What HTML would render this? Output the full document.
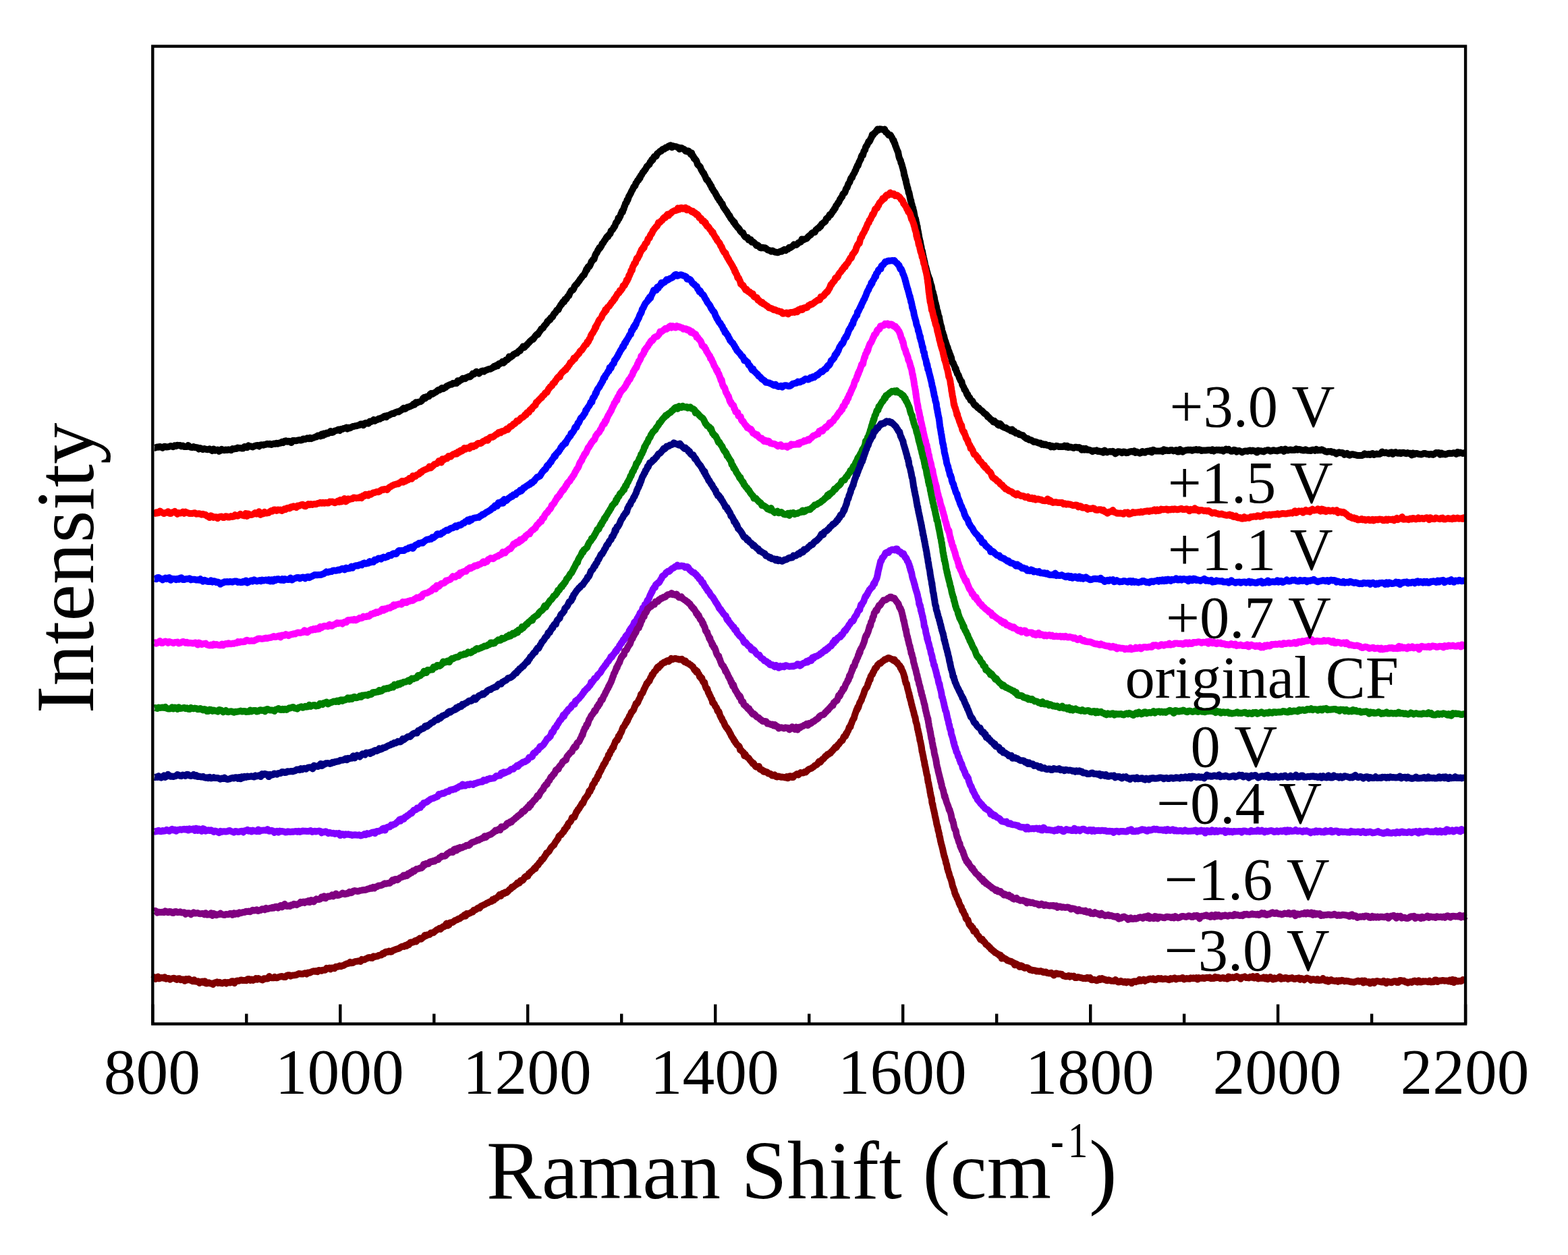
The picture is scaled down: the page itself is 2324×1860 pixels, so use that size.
<!DOCTYPE html>
<html><head><meta charset="utf-8"><title>Raman Shift</title><style>html,body{margin:0;padding:0;background:#fff;}svg{display:block;}</style></head><body>
<svg xmlns="http://www.w3.org/2000/svg" width="2324" height="1860" viewBox="0 0 2324 1860">
<rect width="2324" height="1860" fill="#fff"/>
<g fill="none" stroke-width="10.0" stroke-linejoin="round" stroke-linecap="butt">
<path stroke="#000000" d="M229.0 663.6 L230.1 663.7 L231.6 663.1 L233.3 662.4 L235.1 662.7 L237.0 662.0 L239.0 662.8 L241.0 663.8 L243.0 662.0 L244.9 661.7 L246.9 662.6 L248.9 662.3 L250.9 661.9 L252.9 660.9 L254.9 661.6 L256.9 662.2 L258.9 660.3 L260.9 661.1 L262.9 659.7 L264.9 660.3 L266.9 659.9 L268.9 661.4 L270.9 660.6 L272.9 662.1 L274.9 662.1 L276.9 662.0 L278.9 660.1 L280.9 662.1 L282.8 662.8 L284.8 663.2 L286.8 662.0 L288.8 663.2 L290.8 663.1 L292.7 663.5 L294.7 665.5 L296.7 664.1 L298.7 665.0 L300.7 666.1 L302.7 665.1 L304.6 665.7 L306.6 666.2 L308.6 666.3 L310.6 665.4 L312.6 666.7 L314.6 668.0 L316.6 665.5 L318.6 667.8 L320.6 667.2 L322.6 666.5 L324.6 668.9 L326.6 667.8 L328.6 665.9 L330.6 667.0 L332.6 667.3 L334.6 666.5 L336.6 667.1 L338.5 666.3 L340.5 666.7 L342.5 667.2 L344.5 665.1 L346.5 665.6 L348.5 664.8 L350.5 665.1 L352.4 663.6 L354.4 663.9 L356.4 663.9 L358.4 664.6 L360.4 664.5 L362.3 662.0 L364.3 662.2 L366.3 663.2 L368.3 660.5 L370.2 661.6 L372.2 661.6 L374.2 662.5 L376.2 661.7 L378.2 660.6 L380.1 660.3 L382.1 660.1 L384.1 661.5 L386.1 659.5 L388.1 659.3 L390.1 659.7 L392.0 659.0 L394.0 658.7 L396.0 657.7 L398.0 658.4 L400.0 657.8 L402.0 659.0 L404.0 658.3 L406.0 657.5 L407.9 657.9 L409.9 656.7 L411.9 657.7 L413.9 656.5 L415.9 656.8 L417.9 654.8 L419.8 656.0 L421.8 653.9 L423.8 653.3 L425.8 654.6 L427.8 653.8 L429.7 654.5 L431.7 656.1 L433.7 653.0 L435.7 652.9 L437.7 653.3 L439.6 653.3 L441.6 652.4 L443.6 652.1 L445.6 652.6 L447.5 652.1 L449.5 650.4 L451.5 650.9 L453.5 650.7 L455.4 649.4 L457.4 650.2 L459.4 648.9 L461.3 650.2 L463.3 649.1 L465.3 648.6 L467.2 647.6 L469.2 647.5 L471.1 645.4 L473.0 645.6 L474.9 646.4 L476.8 643.5 L478.7 645.5 L480.5 642.4 L482.4 643.9 L484.2 641.7 L486.1 642.5 L488.0 641.2 L489.9 639.1 L491.8 641.1 L493.7 640.7 L495.7 638.8 L497.6 638.2 L499.5 637.8 L501.5 636.6 L503.4 638.0 L505.4 636.1 L507.3 636.1 L509.3 635.0 L511.2 634.7 L513.2 633.7 L515.1 635.5 L517.1 633.8 L519.0 634.4 L521.0 633.1 L522.9 632.0 L524.9 631.9 L526.8 631.2 L528.8 631.2 L530.7 630.4 L532.7 630.0 L534.6 628.5 L536.5 628.5 L538.5 630.2 L540.4 627.6 L542.3 626.7 L544.2 627.3 L546.1 627.7 L548.0 624.5 L549.9 625.0 L551.8 624.0 L553.7 622.3 L555.6 623.9 L557.5 622.6 L559.4 622.0 L561.3 620.6 L563.1 621.0 L565.0 619.4 L566.9 619.0 L568.7 617.4 L570.6 616.6 L572.5 618.2 L574.3 615.8 L576.2 615.8 L578.0 614.7 L579.9 613.6 L581.7 612.8 L583.6 613.0 L585.4 611.4 L587.3 610.8 L589.1 610.1 L590.9 610.4 L592.8 609.1 L594.6 608.0 L596.4 606.4 L598.3 604.8 L600.1 606.1 L601.9 605.3 L603.7 603.5 L605.5 603.2 L607.3 602.6 L609.1 601.8 L610.9 601.0 L612.7 598.8 L614.5 599.7 L616.3 596.3 L618.0 597.3 L619.8 596.0 L621.6 595.4 L623.3 595.3 L625.1 594.0 L626.8 590.7 L628.6 589.2 L630.3 590.5 L632.1 587.9 L633.8 587.8 L635.6 587.6 L637.3 584.4 L639.1 583.0 L640.8 584.2 L642.6 583.0 L644.3 581.8 L646.1 581.1 L647.9 579.4 L649.7 577.9 L651.5 578.2 L653.2 576.6 L655.0 575.1 L656.8 576.2 L658.6 574.8 L660.4 574.3 L662.2 572.2 L664.0 571.6 L665.8 570.5 L667.6 569.7 L669.4 569.8 L671.3 568.1 L673.1 568.3 L674.9 567.4 L676.7 568.1 L678.5 564.2 L680.3 565.4 L682.1 563.7 L684.0 562.9 L685.8 560.8 L687.6 560.9 L689.5 561.2 L691.3 559.6 L693.1 559.0 L695.0 557.9 L696.8 558.4 L698.7 556.6 L700.5 553.9 L702.4 554.5 L704.3 552.7 L706.1 550.8 L708.0 552.6 L709.9 553.6 L711.8 551.8 L713.7 550.0 L715.6 549.5 L717.4 550.7 L719.3 549.2 L721.2 548.4 L723.1 547.6 L724.9 546.9 L726.8 546.9 L728.6 545.9 L730.5 544.8 L732.3 542.8 L734.1 543.4 L735.9 541.4 L737.7 542.1 L739.4 539.0 L741.2 539.1 L742.9 538.2 L744.6 536.0 L746.3 537.7 L748.0 536.4 L749.7 533.6 L751.4 533.6 L753.1 532.2 L754.7 528.4 L756.4 529.8 L758.0 528.4 L759.6 527.3 L761.2 525.1 L762.8 524.7 L764.4 523.5 L766.0 523.6 L767.6 521.6 L769.2 520.0 L770.8 520.2 L772.3 517.0 L773.9 515.9 L775.4 513.4 L776.9 515.1 L778.5 513.3 L780.0 511.9 L781.5 510.4 L783.0 508.6 L784.4 507.3 L785.9 505.5 L787.4 504.2 L788.8 503.0 L790.2 502.9 L791.6 500.7 L793.0 498.7 L794.4 496.8 L795.8 495.3 L797.1 495.8 L798.5 493.3 L799.8 491.4 L801.1 489.6 L802.4 487.4 L803.7 486.8 L805.0 486.1 L806.3 483.4 L807.6 482.0 L808.9 480.5 L810.1 479.3 L811.4 476.2 L812.7 475.9 L814.0 473.8 L815.3 473.8 L816.5 470.8 L817.8 470.4 L819.0 469.7 L820.3 466.5 L821.5 464.7 L822.8 463.8 L824.0 462.1 L825.2 459.6 L826.4 459.3 L827.6 459.1 L828.9 455.5 L830.1 454.0 L831.3 451.6 L832.5 451.2 L833.7 448.2 L834.9 446.8 L836.1 447.3 L837.3 443.7 L838.5 443.9 L839.7 442.7 L840.9 440.0 L842.0 438.6 L843.2 438.3 L844.4 434.7 L845.6 432.8 L846.8 430.5 L848.0 430.1 L849.2 429.8 L850.4 427.8 L851.6 424.5 L852.8 422.9 L854.0 421.6 L855.2 420.7 L856.4 418.7 L857.6 417.5 L858.7 415.9 L859.9 413.8 L861.1 412.4 L862.3 411.0 L863.4 409.1 L864.6 408.0 L865.7 407.6 L866.9 404.8 L868.0 402.6 L869.1 399.4 L870.2 399.6 L871.3 395.9 L872.4 394.7 L873.5 395.0 L874.5 393.2 L875.6 390.7 L876.6 387.6 L877.6 387.0 L878.6 385.0 L879.6 384.5 L880.5 384.2 L881.5 380.6 L882.4 377.9 L883.4 375.8 L884.4 375.1 L885.3 373.2 L886.3 370.6 L887.3 370.0 L888.3 367.1 L889.4 367.5 L890.4 365.7 L891.5 364.1 L892.6 361.0 L893.8 360.3 L895.0 358.1 L896.2 356.3 L897.4 354.7 L898.6 352.3 L899.8 350.6 L901.0 351.0 L902.2 348.5 L903.4 347.2 L904.5 346.3 L905.6 342.2 L906.7 341.3 L907.8 340.5 L908.8 339.0 L909.8 336.6 L910.8 336.1 L911.8 333.6 L912.8 330.6 L913.7 329.1 L914.7 328.9 L915.6 326.8 L916.5 322.9 L917.5 324.1 L918.4 321.6 L919.3 320.5 L920.2 317.2 L921.1 315.5 L921.9 312.9 L922.8 314.4 L923.7 310.2 L924.5 309.9 L925.3 306.1 L926.1 305.0 L927.0 301.5 L927.8 300.9 L928.6 300.3 L929.4 296.4 L930.3 296.7 L931.1 294.2 L932.0 291.2 L932.9 289.9 L933.8 288.1 L934.7 286.7 L935.6 284.5 L936.5 282.5 L937.5 281.2 L938.5 278.8 L939.4 276.8 L940.4 276.2 L941.4 275.3 L942.4 271.4 L943.4 271.0 L944.4 268.7 L945.5 266.7 L946.5 266.7 L947.6 263.7 L948.6 263.8 L949.7 260.1 L950.8 259.5 L951.9 257.3 L953.0 255.1 L954.1 254.7 L955.2 252.4 L956.4 251.4 L957.6 249.2 L958.7 246.7 L959.9 245.9 L961.1 244.5 L962.4 243.7 L963.6 240.4 L964.8 239.7 L966.1 236.6 L967.3 237.2 L968.6 234.1 L969.9 231.9 L971.2 232.0 L972.6 231.5 L974.0 227.7 L975.4 226.7 L976.8 225.7 L978.3 224.0 L979.9 224.1 L981.5 221.8 L983.1 220.8 L984.8 220.9 L986.5 218.8 L988.3 219.0 L990.1 217.0 L992.0 216.2 L993.9 215.3 L995.8 218.4 L997.8 216.4 L999.7 217.1 L1001.6 217.2 L1003.4 217.9 L1005.3 218.5 L1007.1 221.0 L1008.9 219.2 L1010.6 219.5 L1012.4 220.8 L1014.2 221.3 L1016.0 223.8 L1017.7 224.5 L1019.4 223.6 L1021.0 224.1 L1022.4 226.0 L1023.8 228.8 L1025.1 226.5 L1026.3 231.0 L1027.4 231.2 L1028.6 234.7 L1029.6 234.5 L1030.7 236.9 L1031.8 237.5 L1032.8 239.7 L1033.8 243.5 L1034.8 244.8 L1035.9 245.4 L1036.9 246.7 L1037.9 247.5 L1038.9 250.5 L1040.0 252.6 L1041.0 254.2 L1042.0 256.0 L1043.1 256.7 L1044.1 259.4 L1045.1 261.1 L1046.2 264.0 L1047.2 266.3 L1048.2 266.2 L1049.2 267.3 L1050.2 269.7 L1051.2 271.0 L1052.2 272.6 L1053.2 274.9 L1054.2 275.8 L1055.2 279.0 L1056.2 280.1 L1057.2 282.1 L1058.2 283.5 L1059.2 284.7 L1060.2 286.2 L1061.2 288.6 L1062.2 290.0 L1063.3 292.5 L1064.3 294.0 L1065.3 294.5 L1066.4 297.4 L1067.5 297.9 L1068.5 300.2 L1069.6 302.2 L1070.6 302.3 L1071.7 305.9 L1072.8 307.7 L1073.8 309.1 L1074.9 310.5 L1076.0 312.3 L1077.1 313.4 L1078.2 315.7 L1079.3 317.1 L1080.4 319.4 L1081.5 319.9 L1082.6 322.8 L1083.8 324.4 L1084.9 325.7 L1086.1 327.1 L1087.3 329.6 L1088.5 329.2 L1089.7 332.7 L1090.9 334.1 L1092.2 335.7 L1093.4 337.4 L1094.6 338.0 L1095.9 339.9 L1097.2 342.3 L1098.4 343.6 L1099.7 344.9 L1101.1 344.9 L1102.4 348.2 L1103.8 350.3 L1105.1 351.5 L1106.6 352.2 L1108.0 352.0 L1109.5 355.6 L1111.0 355.9 L1112.6 355.0 L1114.2 358.8 L1115.8 358.2 L1117.5 359.5 L1119.2 361.1 L1121.0 363.8 L1122.7 363.2 L1124.5 364.7 L1126.3 366.9 L1128.2 367.5 L1130.0 366.8 L1131.9 367.4 L1133.7 367.2 L1135.6 368.5 L1137.4 370.2 L1139.3 370.9 L1141.2 371.3 L1143.1 372.7 L1145.0 371.6 L1146.9 372.7 L1148.9 373.7 L1150.8 373.8 L1152.8 374.3 L1154.7 373.5 L1156.7 372.6 L1158.6 372.8 L1160.5 371.1 L1162.4 369.9 L1164.3 371.2 L1166.1 369.8 L1167.9 369.3 L1169.7 366.7 L1171.5 367.0 L1173.3 365.8 L1175.0 364.6 L1176.8 362.3 L1178.5 363.1 L1180.2 363.1 L1181.9 361.6 L1183.6 359.7 L1185.2 359.1 L1186.9 358.7 L1188.6 354.4 L1190.2 355.7 L1191.9 355.1 L1193.5 354.1 L1195.2 353.9 L1196.8 352.2 L1198.4 350.2 L1200.0 349.0 L1201.5 348.2 L1203.1 345.8 L1204.6 344.9 L1206.2 344.5 L1207.7 344.1 L1209.2 340.9 L1210.6 339.7 L1212.1 338.5 L1213.6 338.2 L1215.0 335.6 L1216.4 335.5 L1217.9 331.9 L1219.3 331.2 L1220.7 329.8 L1222.0 329.2 L1223.4 328.0 L1224.7 324.2 L1226.0 323.2 L1227.3 322.8 L1228.6 320.4 L1229.8 318.0 L1231.0 318.7 L1232.2 316.6 L1233.4 315.0 L1234.5 312.5 L1235.6 312.2 L1236.7 309.4 L1237.8 308.9 L1238.9 305.4 L1240.0 303.8 L1241.0 303.0 L1242.1 300.5 L1243.1 300.0 L1244.1 297.9 L1245.1 295.1 L1246.1 294.3 L1247.1 292.2 L1248.1 291.6 L1249.0 288.4 L1250.0 286.8 L1250.9 286.6 L1251.9 285.7 L1252.8 283.7 L1253.8 280.2 L1254.7 278.6 L1255.6 278.0 L1256.6 274.8 L1257.5 272.2 L1258.4 271.4 L1259.3 270.0 L1260.2 267.0 L1261.1 264.5 L1262.1 262.9 L1263.0 263.0 L1263.9 259.9 L1264.7 258.7 L1265.6 257.2 L1266.5 255.8 L1267.4 253.2 L1268.3 252.1 L1269.2 249.1 L1270.0 247.7 L1270.9 245.3 L1271.7 245.5 L1272.6 242.6 L1273.4 240.1 L1274.2 238.7 L1275.0 237.0 L1275.8 235.9 L1276.6 232.0 L1277.3 230.7 L1278.1 229.4 L1278.9 230.2 L1279.7 227.0 L1280.4 224.2 L1281.2 223.1 L1282.1 222.4 L1282.9 218.6 L1283.8 216.6 L1284.7 216.3 L1285.6 213.9 L1286.5 212.3 L1287.5 209.5 L1288.5 209.9 L1289.6 208.0 L1290.6 205.3 L1291.7 203.7 L1292.8 199.6 L1293.9 200.4 L1295.1 198.0 L1296.3 197.1 L1297.7 195.9 L1299.1 193.8 L1300.7 191.5 L1302.3 192.7 L1304.0 191.3 L1305.8 191.6 L1307.6 191.7 L1309.4 192.5 L1311.1 191.6 L1312.7 195.8 L1314.3 196.1 L1315.7 198.1 L1317.1 200.3 L1318.5 200.0 L1319.7 199.9 L1320.9 202.3 L1321.9 203.7 L1322.9 206.1 L1323.9 208.4 L1324.7 208.3 L1325.6 212.2 L1326.3 212.4 L1327.1 215.9 L1327.8 217.4 L1328.5 219.1 L1329.2 221.2 L1329.8 222.6 L1330.5 224.4 L1331.1 225.4 L1331.7 228.8 L1332.4 232.4 L1333.0 234.4 L1333.6 235.7 L1334.2 237.0 L1334.8 237.7 L1335.4 241.5 L1336.0 242.1 L1336.6 244.0 L1337.1 245.7 L1337.6 248.0 L1338.2 249.4 L1338.6 251.7 L1339.1 252.7 L1339.6 255.3 L1340.1 259.6 L1340.6 259.5 L1341.0 261.3 L1341.5 263.9 L1342.0 266.0 L1342.5 266.3 L1342.9 269.1 L1343.4 272.0 L1343.9 273.4 L1344.4 275.2 L1344.9 278.4 L1345.4 278.3 L1345.9 281.0 L1346.3 282.4 L1346.8 286.1 L1347.3 285.0 L1347.8 288.0 L1348.3 290.1 L1348.8 293.1 L1349.2 295.0 L1349.7 297.7 L1350.2 296.9 L1350.7 301.0 L1351.2 302.0 L1351.7 303.6 L1352.2 306.6 L1352.7 307.2 L1353.2 308.1 L1353.7 311.6 L1354.2 312.5 L1354.7 315.2 L1355.2 318.1 L1355.6 320.0 L1356.1 323.0 L1356.6 323.4 L1357.0 324.1 L1357.5 326.8 L1357.9 328.6 L1358.4 330.3 L1358.8 333.7 L1359.2 334.7 L1359.6 335.4 L1360.0 339.8 L1360.4 341.0 L1360.8 343.4 L1361.2 345.2 L1361.6 347.6 L1361.9 349.0 L1362.3 352.1 L1362.7 353.3 L1363.1 355.2 L1363.4 357.2 L1363.8 357.5 L1364.2 360.6 L1364.6 362.5 L1365.0 364.9 L1365.4 365.4 L1365.9 370.1 L1366.3 370.7 L1366.7 371.4 L1367.1 372.9 L1367.6 376.2 L1368.0 378.3 L1368.5 379.7 L1368.9 382.4 L1369.4 383.6 L1369.8 386.7 L1370.3 387.5 L1370.7 390.0 L1371.2 392.9 L1371.7 396.3 L1372.1 395.0 L1372.6 397.4 L1373.1 399.0 L1373.6 402.4 L1374.1 402.6 L1374.7 405.1 L1375.2 407.5 L1375.8 408.5 L1376.4 410.4 L1377.1 412.8 L1377.7 413.2 L1378.3 415.7 L1378.9 418.5 L1379.5 420.9 L1380.0 422.6 L1380.5 423.1 L1381.1 426.2 L1381.6 429.3 L1382.0 431.0 L1382.5 432.3 L1383.0 433.6 L1383.5 436.9 L1384.0 437.7 L1384.4 439.1 L1384.9 441.4 L1385.4 445.4 L1385.8 446.2 L1386.3 449.0 L1386.8 449.5 L1387.3 452.7 L1387.7 453.2 L1388.2 455.6 L1388.7 459.9 L1389.2 460.3 L1389.6 461.1 L1390.1 463.4 L1390.6 465.7 L1391.0 468.5 L1391.5 468.9 L1392.0 469.7 L1392.4 473.0 L1392.9 475.2 L1393.4 477.2 L1393.8 480.2 L1394.3 481.3 L1394.8 483.7 L1395.3 483.9 L1395.8 487.6 L1396.3 490.6 L1396.8 491.4 L1397.3 492.8 L1397.9 494.7 L1398.4 498.1 L1399.0 497.6 L1399.5 500.2 L1400.1 502.6 L1400.7 504.8 L1401.3 505.7 L1401.9 508.2 L1402.5 509.6 L1403.1 511.9 L1403.8 513.5 L1404.4 514.5 L1405.1 517.4 L1405.7 520.1 L1406.4 520.3 L1407.1 522.9 L1407.8 525.6 L1408.5 525.9 L1409.2 528.9 L1409.9 529.6 L1410.6 533.5 L1411.3 536.4 L1412.1 538.0 L1412.8 537.8 L1413.5 540.5 L1414.3 541.8 L1415.1 543.7 L1415.8 546.8 L1416.6 546.1 L1417.4 550.1 L1418.2 550.9 L1418.9 554.1 L1419.7 554.8 L1420.6 555.9 L1421.4 558.5 L1422.2 560.8 L1423.0 562.0 L1423.8 564.2 L1424.6 565.1 L1425.4 565.5 L1426.2 570.1 L1427.0 571.7 L1427.9 573.0 L1428.7 574.8 L1429.5 577.5 L1430.4 577.9 L1431.3 579.5 L1432.2 581.7 L1433.2 584.7 L1434.1 584.2 L1435.2 588.2 L1436.2 588.2 L1437.3 589.5 L1438.5 593.2 L1439.7 593.6 L1441.0 594.0 L1442.3 596.4 L1443.6 599.0 L1445.0 600.7 L1446.4 600.7 L1447.8 602.8 L1449.3 604.5 L1450.8 604.6 L1452.2 606.8 L1453.7 607.8 L1455.2 608.7 L1456.7 610.1 L1458.2 611.9 L1459.7 613.2 L1461.2 614.0 L1462.7 615.4 L1464.3 618.1 L1465.8 618.6 L1467.3 620.4 L1468.9 622.0 L1470.5 622.6 L1472.1 625.3 L1473.7 623.7 L1475.3 626.3 L1477.0 626.4 L1478.7 629.4 L1480.4 630.3 L1482.2 628.0 L1483.9 629.8 L1485.7 632.2 L1487.5 633.2 L1489.3 634.0 L1491.1 634.1 L1492.9 635.5 L1494.7 636.5 L1496.5 636.7 L1498.3 638.6 L1500.1 636.5 L1501.9 640.0 L1503.7 639.4 L1505.5 642.1 L1507.3 641.9 L1509.0 642.2 L1510.8 644.3 L1512.6 644.1 L1514.4 645.0 L1516.2 645.3 L1518.0 647.5 L1519.8 648.9 L1521.6 650.2 L1523.4 650.0 L1525.2 651.9 L1527.0 651.8 L1528.8 652.5 L1530.7 653.9 L1532.5 655.1 L1534.4 654.6 L1536.3 655.3 L1538.2 656.1 L1540.1 656.9 L1542.0 656.6 L1543.9 658.8 L1545.8 658.0 L1547.8 659.3 L1549.7 658.5 L1551.7 659.9 L1553.7 660.3 L1555.7 659.9 L1557.6 662.3 L1559.6 661.1 L1561.6 662.6 L1563.6 662.0 L1565.6 660.8 L1567.6 661.2 L1569.6 662.1 L1571.6 661.9 L1573.6 662.1 L1575.6 661.9 L1577.6 660.7 L1579.5 662.3 L1581.5 660.7 L1583.5 663.2 L1585.5 662.4 L1587.5 662.7 L1589.5 663.4 L1591.5 664.0 L1593.5 662.8 L1595.4 662.7 L1597.4 663.6 L1599.4 663.0 L1601.4 664.3 L1603.4 666.8 L1605.3 664.7 L1607.3 666.6 L1609.3 665.0 L1611.3 666.8 L1613.3 666.5 L1615.3 667.0 L1617.2 667.8 L1619.2 669.1 L1621.2 668.0 L1623.2 668.1 L1625.2 667.4 L1627.2 669.0 L1629.2 668.4 L1631.1 669.6 L1633.1 669.0 L1635.1 670.7 L1637.1 667.5 L1639.1 669.2 L1641.1 670.4 L1643.1 669.4 L1645.1 669.1 L1647.1 669.6 L1649.1 668.7 L1651.1 670.1 L1653.1 672.3 L1655.1 671.2 L1657.1 669.2 L1659.1 669.5 L1661.1 669.9 L1663.1 671.2 L1665.1 669.6 L1667.1 669.7 L1669.1 671.2 L1671.1 671.1 L1673.1 670.0 L1675.1 669.3 L1677.1 668.9 L1679.1 669.7 L1681.1 668.3 L1683.1 670.9 L1685.1 669.6 L1687.1 670.6 L1689.1 671.7 L1691.1 671.0 L1693.1 668.9 L1695.1 670.6 L1697.1 670.7 L1699.1 668.9 L1701.1 668.6 L1703.1 669.2 L1705.1 667.8 L1707.1 670.4 L1709.1 666.8 L1711.1 667.8 L1713.1 668.5 L1715.1 668.4 L1717.1 668.6 L1719.1 668.6 L1721.0 668.1 L1723.0 669.2 L1725.0 666.2 L1727.0 668.0 L1729.0 667.3 L1731.0 668.0 L1733.0 668.0 L1735.0 667.0 L1737.0 667.1 L1739.0 668.4 L1741.0 667.9 L1743.0 667.0 L1745.0 669.4 L1747.0 669.6 L1749.0 666.1 L1751.0 667.7 L1753.0 669.6 L1755.0 668.0 L1757.0 667.5 L1759.0 667.1 L1761.0 666.8 L1763.0 667.0 L1765.0 666.7 L1767.0 667.8 L1769.0 666.8 L1771.0 666.7 L1773.0 666.1 L1775.0 667.1 L1777.0 666.3 L1779.0 666.9 L1781.0 668.0 L1783.0 667.4 L1785.0 667.6 L1787.0 667.4 L1789.0 667.2 L1791.0 667.0 L1793.0 666.9 L1795.0 667.9 L1797.0 666.3 L1799.0 668.5 L1801.0 667.3 L1803.0 666.7 L1805.0 666.9 L1807.0 666.8 L1809.0 667.6 L1811.0 666.8 L1813.0 668.6 L1815.0 666.9 L1817.0 665.6 L1819.0 667.0 L1821.0 665.9 L1823.0 667.7 L1825.0 668.8 L1827.0 668.5 L1829.0 666.7 L1831.0 667.3 L1833.0 669.6 L1835.0 668.3 L1837.0 668.1 L1839.0 669.1 L1841.0 670.4 L1843.0 669.4 L1845.0 668.4 L1847.0 668.6 L1849.0 668.9 L1851.0 667.8 L1853.0 667.4 L1855.0 668.5 L1857.0 667.6 L1859.0 668.4 L1861.0 668.6 L1863.0 670.6 L1865.0 667.7 L1867.0 668.4 L1869.0 668.3 L1871.0 668.9 L1873.0 669.4 L1875.0 668.0 L1877.0 667.6 L1879.0 666.9 L1881.0 667.5 L1883.0 668.7 L1885.0 668.2 L1887.0 667.2 L1889.0 667.7 L1891.0 668.0 L1893.0 668.4 L1895.0 667.3 L1897.0 667.5 L1899.0 666.1 L1901.0 666.6 L1903.0 669.0 L1905.0 665.5 L1907.0 667.1 L1909.0 667.5 L1911.0 666.9 L1913.0 666.5 L1915.0 667.1 L1917.0 667.1 L1919.0 666.9 L1921.0 665.3 L1923.0 666.8 L1925.0 666.1 L1927.0 666.3 L1929.0 667.0 L1931.0 667.4 L1933.0 667.6 L1935.0 666.3 L1937.0 667.6 L1939.0 667.8 L1941.0 667.8 L1943.0 668.1 L1945.0 666.8 L1947.0 666.8 L1949.0 667.8 L1951.0 666.0 L1953.0 667.5 L1955.0 667.0 L1957.0 667.3 L1958.9 666.3 L1960.9 667.3 L1962.9 668.3 L1964.9 669.4 L1966.9 669.7 L1968.9 669.1 L1970.8 669.3 L1972.8 669.0 L1974.8 670.4 L1976.8 670.1 L1978.7 671.2 L1980.7 672.6 L1982.7 671.3 L1984.7 670.3 L1986.6 671.2 L1988.6 670.9 L1990.6 671.4 L1992.6 673.9 L1994.6 673.2 L1996.6 671.9 L1998.5 674.0 L2000.5 674.7 L2002.5 673.4 L2004.5 673.2 L2006.5 673.6 L2008.5 674.2 L2010.5 674.6 L2012.5 675.1 L2014.5 675.1 L2016.5 675.0 L2018.5 675.1 L2020.5 674.4 L2022.5 672.3 L2024.5 673.5 L2026.5 673.7 L2028.5 673.0 L2030.5 674.0 L2032.5 672.7 L2034.5 672.0 L2036.5 674.0 L2038.5 673.1 L2040.5 672.6 L2042.5 673.1 L2044.4 673.0 L2046.4 672.2 L2048.4 669.6 L2050.4 671.1 L2052.4 671.2 L2054.4 670.6 L2056.4 671.6 L2058.4 672.4 L2060.4 670.8 L2062.4 670.2 L2064.4 673.0 L2066.4 670.8 L2068.4 670.1 L2070.4 671.5 L2072.4 671.7 L2074.4 670.7 L2076.4 672.1 L2078.4 671.0 L2080.4 670.7 L2082.4 671.7 L2084.4 672.3 L2086.4 671.1 L2088.4 672.1 L2090.4 671.8 L2092.4 674.5 L2094.4 671.4 L2096.4 673.3 L2098.4 672.1 L2100.4 672.1 L2102.4 673.0 L2104.4 673.2 L2106.4 673.6 L2108.4 672.8 L2110.4 672.0 L2112.4 672.1 L2114.4 673.0 L2116.4 673.1 L2118.4 673.8 L2120.4 672.9 L2122.4 673.5 L2124.4 673.9 L2126.4 672.6 L2128.4 671.1 L2130.4 671.3 L2132.4 671.1 L2134.4 673.7 L2136.4 671.5 L2138.4 673.3 L2140.4 672.7 L2142.4 673.6 L2144.4 672.9 L2146.4 671.9 L2148.4 671.7 L2150.4 671.9 L2152.4 671.9 L2154.4 671.2 L2156.4 671.6 L2158.4 673.0 L2160.4 670.0 L2162.4 671.7 L2164.3 670.6 L2166.2 671.5 L2168.0 672.0 L2169.5 671.2 L2170.9 671.9"/>
<path stroke="#ff0000" d="M229.0 758.5 L230.1 760.9 L231.6 759.3 L233.3 760.4 L235.1 760.0 L237.0 757.4 L239.0 759.1 L241.0 759.9 L243.0 761.0 L245.0 759.9 L247.0 759.8 L249.0 758.2 L251.0 760.8 L253.0 761.1 L255.0 759.4 L257.0 759.2 L259.0 757.9 L261.0 760.2 L263.0 761.8 L265.0 760.1 L267.0 760.6 L269.0 760.0 L271.0 758.7 L273.0 760.9 L275.0 758.7 L277.0 759.7 L279.0 760.3 L281.0 761.1 L282.9 760.9 L284.9 761.1 L286.9 760.4 L288.9 760.2 L290.9 761.7 L292.8 761.4 L294.8 761.2 L296.8 761.6 L298.7 762.7 L300.7 761.8 L302.6 762.7 L304.6 762.8 L306.6 764.8 L308.5 765.3 L310.5 767.1 L312.5 764.3 L314.5 765.3 L316.5 767.0 L318.4 766.2 L320.4 766.2 L322.4 768.2 L324.4 766.4 L326.4 765.7 L328.4 765.6 L330.4 767.0 L332.4 766.9 L334.4 765.2 L336.4 765.4 L338.4 766.6 L340.4 766.4 L342.3 765.1 L344.3 765.9 L346.3 765.6 L348.3 763.2 L350.3 764.3 L352.3 764.7 L354.2 763.5 L356.2 761.9 L358.2 763.3 L360.2 764.0 L362.2 764.5 L364.2 760.9 L366.1 765.0 L368.1 761.4 L370.1 763.0 L372.1 763.0 L374.1 762.6 L376.1 761.6 L378.1 760.2 L380.1 761.6 L382.0 760.1 L384.0 758.3 L386.0 762.9 L388.0 760.7 L390.0 761.4 L392.0 758.7 L393.9 760.6 L395.9 760.4 L397.9 760.1 L399.9 758.4 L401.9 757.0 L403.8 757.7 L405.8 755.5 L407.8 755.6 L409.8 756.9 L411.7 755.5 L413.7 755.9 L415.6 755.6 L417.6 757.0 L419.6 756.0 L421.5 754.4 L423.5 755.1 L425.4 752.9 L427.4 752.8 L429.3 753.5 L431.3 751.2 L433.2 751.6 L435.2 750.2 L437.1 751.1 L439.1 752.1 L441.1 749.5 L443.0 750.0 L445.0 748.7 L447.0 748.1 L448.9 747.7 L450.9 749.8 L452.9 750.3 L454.9 748.4 L456.9 747.1 L458.8 748.2 L460.8 747.0 L462.8 747.9 L464.8 747.3 L466.8 747.1 L468.8 747.3 L470.8 746.1 L472.8 746.1 L474.8 744.8 L476.8 745.8 L478.8 744.7 L480.8 745.7 L482.8 744.7 L484.7 745.4 L486.7 745.5 L488.7 743.6 L490.7 743.8 L492.7 743.4 L494.6 744.6 L496.6 745.2 L498.6 744.1 L500.6 742.7 L502.6 744.0 L504.5 741.0 L506.5 743.4 L508.5 741.1 L510.4 738.9 L512.4 743.4 L514.4 742.1 L516.3 739.4 L518.3 740.1 L520.3 739.3 L522.2 739.2 L524.2 737.4 L526.1 737.7 L528.1 738.3 L530.0 737.7 L532.0 738.1 L533.9 736.6 L535.9 738.2 L537.8 734.9 L539.8 735.3 L541.7 732.8 L543.6 732.9 L545.5 734.6 L547.4 732.0 L549.4 732.8 L551.3 731.7 L553.2 730.2 L555.1 730.2 L557.0 729.4 L558.9 728.7 L560.7 729.2 L562.6 728.4 L564.5 726.6 L566.4 725.6 L568.3 726.0 L570.1 724.9 L572.0 725.2 L573.8 726.0 L575.7 723.6 L577.5 722.0 L579.4 721.1 L581.2 719.8 L583.1 718.9 L584.9 718.1 L586.8 717.8 L588.6 717.0 L590.4 717.2 L592.2 715.4 L594.1 714.7 L595.9 713.0 L597.7 714.7 L599.5 712.9 L601.3 713.2 L603.1 711.5 L605.0 711.2 L606.8 708.8 L608.6 708.8 L610.3 709.7 L612.1 705.2 L613.9 706.5 L615.7 706.0 L617.4 703.9 L619.2 703.3 L621.0 702.8 L622.7 700.1 L624.5 700.1 L626.2 697.9 L627.9 697.1 L629.7 696.2 L631.4 695.6 L633.1 694.9 L634.9 694.2 L636.6 691.4 L638.3 693.6 L640.1 691.8 L641.8 690.4 L643.5 688.4 L645.3 687.6 L647.0 687.2 L648.7 686.1 L650.5 683.2 L652.2 684.5 L654.0 685.5 L655.7 680.2 L657.5 681.8 L659.2 680.3 L661.0 678.9 L662.8 679.4 L664.6 676.1 L666.4 676.5 L668.2 676.8 L670.0 674.4 L671.8 673.3 L673.6 673.0 L675.4 671.6 L677.2 672.7 L679.0 669.6 L680.9 670.4 L682.7 667.6 L684.5 668.6 L686.4 667.1 L688.2 664.0 L690.1 665.6 L691.9 663.9 L693.7 663.7 L695.6 664.7 L697.4 661.5 L699.3 660.8 L701.1 662.3 L702.9 660.3 L704.8 660.8 L706.6 658.9 L708.4 656.9 L710.3 656.9 L712.1 657.3 L713.9 656.2 L715.7 654.4 L717.5 653.6 L719.3 652.6 L721.1 651.3 L722.9 652.7 L724.7 650.0 L726.5 648.1 L728.2 647.7 L730.0 647.9 L731.8 646.9 L733.5 645.3 L735.3 643.8 L737.1 643.5 L738.8 641.0 L740.6 640.4 L742.3 641.3 L744.1 639.2 L745.8 639.0 L747.5 638.8 L749.3 637.2 L751.0 635.6 L752.7 636.5 L754.4 634.1 L756.1 632.1 L757.8 632.0 L759.4 630.6 L761.1 628.3 L762.7 628.1 L764.4 626.7 L766.0 623.8 L767.6 624.3 L769.2 623.0 L770.7 621.6 L772.3 619.2 L773.8 619.1 L775.3 618.1 L776.8 616.9 L778.2 614.4 L779.7 614.6 L781.1 611.5 L782.5 611.0 L783.9 611.0 L785.3 607.7 L786.7 606.5 L788.1 606.5 L789.4 603.6 L790.8 602.3 L792.1 601.3 L793.5 600.5 L794.8 596.1 L796.2 595.8 L797.5 594.2 L798.9 592.6 L800.2 591.4 L801.5 589.9 L802.8 589.4 L804.1 586.8 L805.4 586.2 L806.7 585.0 L808.0 582.4 L809.3 581.7 L810.6 581.5 L811.9 578.8 L813.1 576.3 L814.4 575.3 L815.7 573.0 L816.9 572.5 L818.2 571.5 L819.4 568.4 L820.7 567.4 L822.0 567.1 L823.2 564.0 L824.5 563.1 L825.8 560.5 L827.0 559.1 L828.3 557.9 L829.6 558.8 L830.9 554.9 L832.2 553.3 L833.5 551.7 L834.8 550.6 L836.1 549.8 L837.4 547.9 L838.7 548.0 L840.1 544.9 L841.4 544.5 L842.7 541.9 L844.0 540.7 L845.3 537.4 L846.7 537.1 L848.0 535.6 L849.3 533.9 L850.6 530.7 L851.9 531.9 L853.2 529.3 L854.5 527.7 L855.8 526.3 L857.1 524.8 L858.3 523.8 L859.6 520.8 L860.9 519.5 L862.1 519.1 L863.3 517.4 L864.6 515.3 L865.8 513.5 L867.0 511.7 L868.1 510.8 L869.3 510.3 L870.4 506.6 L871.5 507.2 L872.6 505.0 L873.6 502.1 L874.7 501.5 L875.7 497.7 L876.7 495.8 L877.6 494.4 L878.6 493.4 L879.5 491.7 L880.4 489.8 L881.4 488.6 L882.3 484.8 L883.2 485.4 L884.1 481.9 L885.0 480.8 L885.9 479.2 L886.9 476.8 L887.8 474.8 L888.8 473.4 L889.8 472.6 L890.8 471.4 L891.8 469.7 L892.9 466.6 L894.0 465.1 L895.1 463.3 L896.2 462.8 L897.3 459.0 L898.4 460.3 L899.6 457.1 L900.7 455.2 L901.9 454.6 L903.1 453.6 L904.3 451.3 L905.4 450.4 L906.6 447.9 L907.8 447.3 L909.0 445.7 L910.2 442.9 L911.4 442.7 L912.6 439.9 L913.8 438.3 L915.0 435.8 L916.2 434.7 L917.5 434.1 L918.7 430.7 L919.9 430.9 L921.2 429.0 L922.4 427.4 L923.6 423.5 L924.7 423.8 L925.8 422.8 L926.9 419.8 L927.9 418.9 L928.8 414.9 L929.7 415.9 L930.6 412.9 L931.4 412.4 L932.2 408.1 L932.9 408.6 L933.7 405.9 L934.5 405.0 L935.2 401.6 L936.0 400.0 L936.8 400.7 L937.6 396.1 L938.4 394.4 L939.3 393.0 L940.1 390.5 L941.0 390.7 L941.9 389.4 L942.9 385.5 L943.8 382.8 L944.7 383.6 L945.7 381.8 L946.6 379.8 L947.6 378.3 L948.6 374.8 L949.5 373.7 L950.5 370.8 L951.5 369.0 L952.5 369.5 L953.5 366.2 L954.5 367.2 L955.5 363.5 L956.5 361.1 L957.5 360.7 L958.6 359.9 L959.6 357.0 L960.6 353.7 L961.6 353.4 L962.7 352.6 L963.7 349.2 L964.7 347.2 L965.7 347.1 L966.8 344.6 L967.8 341.8 L968.9 340.8 L970.0 338.8 L971.1 338.0 L972.2 336.2 L973.4 335.6 L974.6 333.6 L975.9 330.0 L977.2 330.3 L978.5 329.2 L979.9 327.4 L981.4 326.6 L982.9 323.9 L984.5 322.3 L986.1 322.7 L987.7 319.8 L989.3 317.7 L991.0 319.5 L992.7 316.8 L994.4 316.2 L996.1 314.1 L997.8 313.2 L999.5 312.3 L1001.3 312.0 L1003.0 311.7 L1004.8 308.4 L1006.6 310.5 L1008.4 308.2 L1010.3 308.0 L1012.2 309.4 L1014.1 308.8 L1016.1 307.8 L1018.0 311.3 L1019.8 309.5 L1021.7 311.2 L1023.5 311.9 L1025.3 313.9 L1027.0 313.2 L1028.7 315.6 L1030.3 315.2 L1031.9 318.0 L1033.4 317.6 L1034.9 319.3 L1036.4 322.7 L1037.8 322.7 L1039.2 323.9 L1040.5 327.3 L1041.9 327.1 L1043.2 327.5 L1044.5 330.5 L1045.8 330.3 L1047.0 333.9 L1048.3 335.5 L1049.5 335.5 L1050.7 337.0 L1051.9 339.4 L1053.1 340.9 L1054.2 341.6 L1055.4 344.6 L1056.5 344.0 L1057.6 347.1 L1058.6 348.8 L1059.7 350.6 L1060.8 352.8 L1061.9 353.1 L1062.9 356.4 L1064.0 357.4 L1065.0 358.7 L1066.1 359.8 L1067.1 361.6 L1068.2 364.7 L1069.3 365.2 L1070.3 367.9 L1071.3 370.5 L1072.4 372.1 L1073.4 374.3 L1074.5 374.4 L1075.5 375.4 L1076.5 379.0 L1077.5 380.1 L1078.5 382.5 L1079.5 383.3 L1080.6 386.0 L1081.5 387.5 L1082.5 389.1 L1083.5 390.6 L1084.5 392.3 L1085.5 393.9 L1086.4 395.7 L1087.3 398.1 L1088.2 398.5 L1089.1 402.4 L1090.0 402.5 L1090.8 405.3 L1091.6 406.2 L1092.4 407.8 L1093.3 411.7 L1094.1 411.4 L1095.0 412.3 L1095.9 414.6 L1096.9 416.7 L1097.9 420.7 L1098.9 420.6 L1100.1 422.9 L1101.3 422.7 L1102.6 425.5 L1103.9 427.2 L1105.3 429.7 L1106.7 428.9 L1108.1 431.4 L1109.6 432.5 L1111.1 432.6 L1112.6 434.8 L1114.1 435.9 L1115.7 435.3 L1117.2 439.2 L1118.8 440.4 L1120.4 440.8 L1121.9 441.2 L1123.5 445.0 L1125.0 445.1 L1126.6 447.1 L1128.2 448.6 L1129.8 448.1 L1131.4 450.5 L1133.0 450.7 L1134.6 452.1 L1136.3 453.2 L1138.0 454.3 L1139.7 456.3 L1141.4 456.4 L1143.2 457.1 L1145.0 457.9 L1146.8 459.2 L1148.6 458.9 L1150.5 459.9 L1152.4 461.0 L1154.3 461.1 L1156.2 462.1 L1158.1 462.1 L1160.1 464.8 L1162.1 464.5 L1164.0 463.9 L1166.0 463.5 L1168.0 465.5 L1170.0 463.6 L1171.9 463.0 L1173.9 463.0 L1175.8 462.5 L1177.7 463.0 L1179.6 461.1 L1181.5 462.3 L1183.4 459.0 L1185.3 459.7 L1187.1 457.4 L1189.0 459.3 L1190.9 456.6 L1192.7 456.1 L1194.6 456.2 L1196.4 455.7 L1198.2 452.7 L1200.0 452.5 L1201.7 450.7 L1203.5 451.1 L1205.2 449.8 L1206.9 448.5 L1208.5 447.1 L1210.1 446.2 L1211.8 444.7 L1213.4 444.7 L1215.0 444.3 L1216.5 440.0 L1218.1 440.3 L1219.6 438.8 L1221.0 438.2 L1222.5 435.6 L1223.8 434.8 L1225.1 432.5 L1226.3 432.5 L1227.5 430.4 L1228.5 428.5 L1229.5 427.2 L1230.4 424.9 L1231.4 422.0 L1232.3 422.2 L1233.4 420.2 L1234.4 418.1 L1235.6 417.5 L1236.8 416.1 L1238.0 412.5 L1239.2 411.2 L1240.5 411.7 L1241.8 410.1 L1243.0 406.6 L1244.3 404.6 L1245.5 403.5 L1246.8 402.1 L1248.0 399.5 L1249.2 399.4 L1250.4 396.6 L1251.5 395.0 L1252.7 395.3 L1253.9 392.2 L1255.0 391.2 L1256.1 390.1 L1257.2 388.6 L1258.3 385.9 L1259.4 384.6 L1260.5 382.1 L1261.6 382.7 L1262.6 380.0 L1263.6 376.8 L1264.6 376.0 L1265.6 374.9 L1266.6 372.9 L1267.5 372.4 L1268.4 370.2 L1269.3 366.7 L1270.2 365.3 L1271.1 362.5 L1272.0 362.1 L1272.9 360.2 L1273.7 360.7 L1274.6 356.5 L1275.5 352.7 L1276.3 352.2 L1277.2 351.1 L1278.1 348.1 L1279.0 346.6 L1279.8 345.3 L1280.7 344.1 L1281.6 341.9 L1282.5 339.4 L1283.3 339.1 L1284.2 336.1 L1285.1 334.4 L1285.9 331.8 L1286.8 330.5 L1287.7 330.0 L1288.6 326.2 L1289.5 325.8 L1290.3 324.7 L1291.3 321.9 L1292.2 320.7 L1293.1 317.7 L1294.1 318.1 L1295.0 316.2 L1296.0 313.7 L1297.0 310.2 L1298.0 309.1 L1299.0 309.2 L1300.1 308.1 L1301.1 305.1 L1302.2 304.3 L1303.3 301.0 L1304.5 299.8 L1305.8 298.4 L1307.1 297.3 L1308.4 294.0 L1309.8 294.9 L1311.3 293.9 L1312.8 290.4 L1314.3 289.0 L1316.0 289.5 L1317.7 287.7 L1319.4 285.6 L1321.2 288.1 L1323.0 287.5 L1324.8 287.2 L1326.6 290.2 L1328.3 289.2 L1329.9 289.5 L1331.5 291.4 L1332.9 291.7 L1334.3 293.4 L1335.7 295.9 L1336.9 296.5 L1338.1 298.2 L1339.3 301.8 L1340.4 302.7 L1341.4 304.4 L1342.4 305.8 L1343.4 307.5 L1344.3 310.2 L1345.3 310.6 L1346.2 314.1 L1347.0 313.4 L1347.9 315.8 L1348.7 316.6 L1349.5 319.4 L1350.3 322.0 L1351.0 324.7 L1351.7 324.7 L1352.4 327.1 L1353.0 328.7 L1353.6 330.3 L1354.2 331.8 L1354.8 334.8 L1355.3 335.1 L1355.9 338.7 L1356.4 340.6 L1356.9 341.9 L1357.4 343.5 L1357.9 345.1 L1358.4 350.0 L1358.9 349.0 L1359.4 353.6 L1359.9 354.6 L1360.4 355.7 L1360.9 356.9 L1361.4 360.8 L1361.9 363.4 L1362.5 362.9 L1363.0 365.4 L1363.5 368.6 L1364.0 369.9 L1364.5 373.3 L1365.0 372.9 L1365.5 375.8 L1366.1 376.2 L1366.6 381.1 L1367.1 380.5 L1367.6 381.1 L1368.1 384.9 L1368.6 386.8 L1369.2 390.6 L1369.7 390.5 L1370.2 392.7 L1370.7 395.2 L1371.2 398.1 L1371.6 398.5 L1372.1 401.5 L1372.5 402.9 L1372.9 404.2 L1373.3 406.5 L1373.7 408.4 L1374.0 409.5 L1374.4 413.4 L1374.7 413.0 L1374.9 417.3 L1375.2 419.1 L1375.4 420.1 L1375.6 421.5 L1375.9 424.0 L1376.1 426.6 L1376.3 428.8 L1376.5 430.4 L1376.7 433.0 L1376.9 433.6 L1377.2 436.3 L1377.4 436.7 L1377.7 440.8 L1378.0 442.2 L1378.3 443.7 L1378.6 447.1 L1378.9 448.6 L1379.3 447.4 L1379.7 451.9 L1380.1 452.5 L1380.6 456.8 L1381.0 460.0 L1381.5 459.2 L1382.0 461.7 L1382.4 463.4 L1382.9 465.8 L1383.4 468.0 L1384.0 470.5 L1384.5 470.4 L1385.0 474.7 L1385.5 474.3 L1386.0 477.4 L1386.5 480.1 L1387.0 481.6 L1387.6 482.1 L1388.1 484.2 L1388.6 486.4 L1389.0 488.7 L1389.5 491.7 L1390.0 491.4 L1390.5 495.0 L1391.0 497.0 L1391.5 498.9 L1392.0 500.8 L1392.4 503.7 L1392.9 504.7 L1393.4 507.0 L1393.9 508.6 L1394.4 511.7 L1394.9 510.3 L1395.4 515.1 L1395.8 515.7 L1396.3 517.6 L1396.8 518.9 L1397.3 520.0 L1397.8 523.3 L1398.3 525.0 L1398.8 528.0 L1399.3 528.1 L1399.8 532.7 L1400.3 533.6 L1400.8 535.1 L1401.3 536.6 L1401.8 538.4 L1402.3 540.1 L1402.8 542.5 L1403.3 545.0 L1403.8 546.7 L1404.3 547.6 L1404.8 550.5 L1405.2 551.9 L1405.7 554.8 L1406.2 558.3 L1406.7 559.1 L1407.1 560.2 L1407.5 561.0 L1408.0 563.1 L1408.4 564.8 L1408.8 569.0 L1409.1 569.6 L1409.5 572.3 L1409.8 573.7 L1410.1 576.3 L1410.4 579.4 L1410.7 579.5 L1411.0 581.8 L1411.3 583.4 L1411.6 586.9 L1411.9 587.1 L1412.3 589.0 L1412.6 590.7 L1413.0 592.7 L1413.4 596.3 L1413.9 600.2 L1414.3 598.9 L1414.8 602.6 L1415.4 603.9 L1415.9 604.6 L1416.5 607.3 L1417.1 609.2 L1417.7 610.7 L1418.3 615.0 L1418.9 613.4 L1419.6 617.4 L1420.2 619.2 L1420.9 620.3 L1421.6 622.8 L1422.3 625.3 L1423.0 626.5 L1423.7 628.7 L1424.4 630.8 L1425.1 630.2 L1425.9 635.2 L1426.6 637.8 L1427.4 638.5 L1428.1 640.4 L1428.9 640.0 L1429.6 643.0 L1430.4 644.3 L1431.1 646.3 L1431.9 649.6 L1432.7 649.8 L1433.5 652.2 L1434.3 652.5 L1435.1 655.9 L1436.0 657.9 L1436.9 659.0 L1437.8 660.7 L1438.7 664.9 L1439.7 663.8 L1440.6 665.7 L1441.7 667.6 L1442.8 671.1 L1443.9 673.6 L1445.0 673.6 L1446.2 674.3 L1447.4 676.1 L1448.7 679.0 L1449.9 678.8 L1451.2 682.5 L1452.5 683.9 L1453.8 684.3 L1455.1 686.3 L1456.4 687.9 L1457.7 690.2 L1458.9 689.4 L1460.2 693.0 L1461.4 693.1 L1462.7 694.4 L1463.9 696.7 L1465.1 698.0 L1466.4 698.9 L1467.6 699.9 L1468.9 702.0 L1470.2 705.7 L1471.5 707.7 L1472.8 708.0 L1474.2 709.9 L1475.5 709.9 L1476.9 711.7 L1478.3 713.4 L1479.8 713.6 L1481.2 715.1 L1482.7 717.4 L1484.1 718.4 L1485.6 719.0 L1487.2 721.6 L1488.7 722.3 L1490.3 724.7 L1491.9 724.9 L1493.6 725.8 L1495.2 727.3 L1496.9 728.0 L1498.7 728.5 L1500.5 729.7 L1502.3 731.5 L1504.1 732.2 L1506.0 733.5 L1507.8 731.5 L1509.7 733.3 L1511.6 733.9 L1513.6 735.0 L1515.5 735.0 L1517.4 735.4 L1519.4 737.0 L1521.3 736.9 L1523.3 736.2 L1525.2 738.8 L1527.2 738.9 L1529.1 737.9 L1531.1 739.6 L1533.1 738.5 L1535.0 740.6 L1537.0 739.8 L1539.0 739.6 L1540.9 740.4 L1542.9 740.4 L1544.8 741.7 L1546.8 742.0 L1548.8 742.2 L1550.8 742.0 L1552.7 739.5 L1554.7 743.2 L1556.7 741.7 L1558.7 743.9 L1560.6 745.0 L1562.6 744.5 L1564.6 744.2 L1566.6 744.7 L1568.6 745.0 L1570.6 744.9 L1572.5 745.1 L1574.5 745.1 L1576.5 747.2 L1578.5 746.4 L1580.5 747.6 L1582.4 746.8 L1584.4 747.4 L1586.4 747.5 L1588.4 748.4 L1590.3 749.1 L1592.3 748.9 L1594.3 748.5 L1596.2 748.8 L1598.2 751.3 L1600.1 750.0 L1602.1 750.4 L1604.1 752.4 L1606.0 752.5 L1608.0 752.4 L1609.9 752.0 L1611.9 754.9 L1613.8 753.5 L1615.8 754.1 L1617.7 753.8 L1619.7 753.1 L1621.7 753.6 L1623.6 755.5 L1625.6 755.9 L1627.6 755.7 L1629.5 755.2 L1631.5 755.3 L1633.5 756.6 L1635.4 755.9 L1637.4 758.4 L1639.4 758.9 L1641.4 760.7 L1643.4 759.2 L1645.3 758.2 L1647.3 758.2 L1649.3 756.1 L1651.3 758.9 L1653.3 759.5 L1655.3 760.7 L1657.3 760.6 L1659.3 760.7 L1661.2 760.5 L1663.2 761.0 L1665.2 761.8 L1667.2 759.6 L1669.2 760.2 L1671.2 759.3 L1673.2 762.0 L1675.2 761.6 L1677.2 760.9 L1679.2 759.0 L1681.2 760.1 L1683.2 759.5 L1685.2 759.5 L1687.2 759.0 L1689.1 759.4 L1691.1 758.3 L1693.1 759.2 L1695.1 758.4 L1697.1 757.7 L1699.1 757.7 L1701.1 757.2 L1703.0 758.1 L1705.0 756.9 L1707.0 757.3 L1709.0 756.5 L1711.0 755.4 L1713.0 757.4 L1715.0 755.4 L1717.0 756.9 L1719.0 756.5 L1721.0 754.5 L1723.0 755.0 L1725.0 755.2 L1727.0 754.8 L1729.0 754.4 L1731.0 756.0 L1733.0 755.0 L1735.0 755.5 L1737.0 754.6 L1739.0 755.2 L1741.0 754.2 L1743.0 754.8 L1745.0 755.3 L1747.0 754.8 L1749.0 754.3 L1751.0 753.7 L1753.0 754.9 L1755.0 755.1 L1757.0 754.6 L1759.0 754.2 L1760.9 755.4 L1762.9 757.3 L1764.9 754.9 L1766.9 755.6 L1768.9 755.8 L1770.9 753.3 L1772.9 755.9 L1774.9 755.3 L1776.9 757.4 L1778.9 756.1 L1780.9 755.9 L1782.9 756.6 L1784.8 757.2 L1786.8 756.8 L1788.8 757.6 L1790.8 756.7 L1792.8 758.0 L1794.7 759.2 L1796.7 760.6 L1798.7 759.7 L1800.7 759.7 L1802.6 760.9 L1804.6 761.2 L1806.5 762.2 L1808.5 762.1 L1810.4 761.5 L1812.4 762.3 L1814.3 762.8 L1816.2 763.4 L1818.2 763.8 L1820.1 763.3 L1822.1 762.6 L1824.0 764.3 L1826.0 763.5 L1827.9 765.8 L1829.9 766.1 L1831.9 764.8 L1833.9 767.2 L1835.8 767.6 L1837.8 767.1 L1839.8 768.6 L1841.8 768.8 L1843.8 766.1 L1845.8 768.1 L1847.8 767.5 L1849.8 767.4 L1851.8 767.7 L1853.8 766.1 L1855.8 766.0 L1857.8 765.6 L1859.8 765.4 L1861.8 765.8 L1863.7 764.3 L1865.7 764.4 L1867.7 765.6 L1869.7 764.8 L1871.7 764.9 L1873.6 762.6 L1875.6 763.3 L1877.6 763.2 L1879.6 763.5 L1881.6 762.6 L1883.5 763.7 L1885.5 762.6 L1887.5 762.4 L1889.5 762.2 L1891.5 762.6 L1893.5 761.3 L1895.5 762.6 L1897.5 761.8 L1899.4 761.3 L1901.4 761.0 L1903.4 761.2 L1905.4 761.5 L1907.4 761.2 L1909.4 760.5 L1911.4 760.7 L1913.4 759.8 L1915.4 760.6 L1917.4 759.3 L1919.3 757.2 L1921.3 760.1 L1923.3 758.8 L1925.3 757.4 L1927.3 758.1 L1929.3 757.3 L1931.3 759.8 L1933.3 758.1 L1935.3 756.1 L1937.3 757.8 L1939.2 756.8 L1941.2 758.7 L1943.2 755.9 L1945.2 754.7 L1947.2 756.6 L1949.2 756.1 L1951.2 756.0 L1953.2 754.3 L1955.2 756.6 L1957.2 757.7 L1959.2 754.4 L1961.2 757.2 L1963.2 755.6 L1965.2 758.3 L1967.2 756.7 L1969.2 756.2 L1971.2 757.5 L1973.2 757.2 L1975.2 756.3 L1977.2 757.7 L1979.1 756.9 L1981.1 756.1 L1983.1 759.9 L1985.0 758.1 L1987.0 758.4 L1988.8 759.8 L1990.7 758.8 L1992.5 759.7 L1994.3 761.4 L1996.0 762.4 L1997.7 763.9 L1999.4 765.9 L2001.1 765.5 L2002.8 767.2 L2004.6 768.1 L2006.5 767.3 L2008.4 769.0 L2010.3 768.4 L2012.2 770.5 L2014.2 770.2 L2016.2 770.1 L2018.2 769.0 L2020.2 770.4 L2022.2 769.7 L2024.2 771.1 L2026.2 770.4 L2028.2 769.8 L2030.2 771.3 L2032.2 771.1 L2034.2 769.9 L2036.2 771.5 L2038.2 770.1 L2040.2 770.1 L2042.2 770.4 L2044.2 769.5 L2046.2 769.7 L2048.2 769.9 L2050.2 771.3 L2052.2 771.2 L2054.2 769.6 L2056.2 771.2 L2058.2 769.6 L2060.2 769.9 L2062.2 770.2 L2064.2 769.6 L2066.2 771.4 L2068.2 769.4 L2070.2 768.0 L2072.1 770.2 L2074.1 768.6 L2076.1 768.6 L2078.1 766.1 L2080.1 769.7 L2082.1 769.5 L2084.1 769.4 L2086.1 769.5 L2088.1 770.2 L2090.1 768.6 L2092.1 769.5 L2094.1 767.9 L2096.1 768.3 L2098.1 769.6 L2100.1 769.0 L2102.1 767.4 L2104.1 768.9 L2106.1 768.4 L2108.1 767.9 L2110.1 769.0 L2112.1 768.2 L2114.1 767.2 L2116.1 767.6 L2118.1 770.2 L2120.1 767.2 L2122.1 768.8 L2124.1 769.1 L2126.1 769.2 L2128.1 767.5 L2130.1 768.3 L2132.1 768.7 L2134.1 769.3 L2136.1 768.0 L2138.1 767.6 L2140.1 769.5 L2142.1 769.6 L2144.1 768.9 L2146.1 768.1 L2148.1 769.0 L2150.1 768.7 L2152.1 769.4 L2154.1 767.5 L2156.1 768.7 L2158.1 768.5 L2160.1 767.6 L2162.1 768.8 L2164.1 768.6 L2166.0 768.2 L2167.7 769.0 L2169.3 767.3 L2170.6 768.6"/>
<path stroke="#0000ff" d="M229.0 857.6 L230.1 857.5 L231.6 858.2 L233.3 856.2 L235.1 855.9 L237.0 857.5 L239.0 857.7 L241.0 859.3 L243.0 857.9 L245.0 856.6 L247.0 858.1 L249.0 856.6 L251.0 856.1 L253.0 859.8 L255.0 857.7 L257.0 858.1 L259.0 858.0 L261.0 859.1 L263.0 857.7 L265.0 858.6 L267.0 856.6 L269.0 856.3 L271.0 858.9 L273.0 859.0 L275.0 858.2 L277.0 858.0 L279.0 858.0 L281.0 857.3 L283.0 859.4 L285.0 858.7 L287.0 858.7 L289.0 858.8 L291.0 859.6 L293.0 859.3 L294.9 859.7 L296.9 858.2 L298.9 860.0 L300.9 861.8 L302.9 859.7 L304.8 860.4 L306.8 861.6 L308.8 862.0 L310.8 862.0 L312.7 860.3 L314.7 862.5 L316.7 861.2 L318.7 861.7 L320.7 863.1 L322.7 862.5 L324.7 863.6 L326.7 865.8 L328.7 863.8 L330.7 863.8 L332.7 862.3 L334.6 862.5 L336.6 862.1 L338.6 862.6 L340.6 862.0 L342.6 862.3 L344.6 862.7 L346.6 861.9 L348.6 861.4 L350.6 861.4 L352.6 862.9 L354.6 862.4 L356.6 863.2 L358.6 863.1 L360.6 861.7 L362.6 862.5 L364.6 860.5 L366.6 863.7 L368.6 862.6 L370.6 861.2 L372.6 860.2 L374.6 861.5 L376.6 859.3 L378.6 860.2 L380.6 861.5 L382.6 860.8 L384.6 860.1 L386.6 861.3 L388.6 859.5 L390.6 860.6 L392.6 859.8 L394.6 859.4 L396.6 860.5 L398.6 859.1 L400.6 861.6 L402.6 859.2 L404.6 861.5 L406.6 858.6 L408.6 860.1 L410.6 858.3 L412.5 858.1 L414.5 859.4 L416.5 859.7 L418.5 857.9 L420.5 860.0 L422.5 858.1 L424.5 858.8 L426.5 858.9 L428.5 858.9 L430.5 856.6 L432.5 859.6 L434.5 858.4 L436.5 857.4 L438.5 856.7 L440.5 855.9 L442.5 856.0 L444.5 857.5 L446.4 856.4 L448.4 855.5 L450.4 855.7 L452.4 857.3 L454.4 855.3 L456.3 854.8 L458.3 856.2 L460.3 855.0 L462.2 854.3 L464.2 853.3 L466.2 852.1 L468.1 852.0 L470.1 852.2 L472.0 852.0 L474.0 852.0 L475.9 851.7 L477.8 851.0 L479.8 850.5 L481.7 848.9 L483.7 847.4 L485.6 848.3 L487.5 847.5 L489.5 847.2 L491.4 847.1 L493.4 845.7 L495.3 845.4 L497.3 845.8 L499.2 845.6 L501.1 844.4 L503.1 845.0 L505.0 843.9 L507.0 842.7 L508.9 843.2 L510.9 844.4 L512.8 841.6 L514.8 842.8 L516.7 842.5 L518.7 842.2 L520.6 839.6 L522.5 841.7 L524.5 839.5 L526.4 838.7 L528.4 838.2 L530.3 838.5 L532.2 837.5 L534.2 836.7 L536.1 837.5 L538.0 835.2 L540.0 834.4 L541.9 835.5 L543.8 834.9 L545.7 834.7 L547.6 832.1 L549.6 833.5 L551.5 832.4 L553.4 832.9 L555.3 829.6 L557.2 830.3 L559.1 829.2 L561.0 827.4 L562.9 827.6 L564.8 828.6 L566.7 826.5 L568.5 825.6 L570.4 826.4 L572.3 825.8 L574.2 825.2 L576.1 822.9 L578.0 822.9 L579.9 823.2 L581.7 821.0 L583.6 820.2 L585.5 821.0 L587.4 821.0 L589.3 817.9 L591.2 815.9 L593.0 816.2 L594.9 816.0 L596.8 816.1 L598.7 816.0 L600.6 814.7 L602.4 813.4 L604.3 813.5 L606.2 811.8 L608.0 811.9 L609.9 810.6 L611.7 812.8 L613.6 810.4 L615.4 808.2 L617.3 807.2 L619.1 806.9 L620.9 805.1 L622.8 805.1 L624.6 804.2 L626.4 804.8 L628.2 802.8 L630.0 801.6 L631.8 800.2 L633.6 799.5 L635.4 799.6 L637.2 798.6 L639.0 798.9 L640.7 796.4 L642.5 797.0 L644.3 795.4 L646.1 794.2 L647.9 791.5 L649.6 791.2 L651.4 792.1 L653.2 791.8 L655.0 789.8 L656.8 789.5 L658.6 787.5 L660.4 786.7 L662.2 785.5 L664.0 786.1 L665.8 784.7 L667.6 783.3 L669.4 782.4 L671.2 782.4 L673.0 781.4 L674.9 779.5 L676.7 781.0 L678.5 778.9 L680.4 777.9 L682.2 778.4 L684.1 777.3 L685.9 775.5 L687.8 775.3 L689.6 773.1 L691.4 772.7 L693.3 770.4 L695.1 772.8 L697.0 769.2 L698.8 770.7 L700.7 768.6 L702.5 767.7 L704.3 767.6 L706.2 767.2 L708.0 766.7 L709.8 766.9 L711.6 764.8 L713.4 764.4 L715.2 762.2 L717.0 762.4 L718.7 761.0 L720.5 759.4 L722.2 758.7 L723.8 757.7 L725.5 756.8 L727.1 755.8 L728.8 753.9 L730.4 752.5 L732.0 752.7 L733.7 749.3 L735.3 749.2 L737.0 750.0 L738.7 745.1 L740.4 745.9 L742.1 746.1 L743.8 743.0 L745.5 745.8 L747.2 740.1 L749.0 742.7 L750.7 741.8 L752.4 740.2 L754.1 738.1 L755.9 737.6 L757.6 735.5 L759.3 736.0 L761.0 733.2 L762.7 732.9 L764.4 733.0 L766.1 730.0 L767.7 729.6 L769.4 729.0 L771.0 726.5 L772.7 727.6 L774.3 725.7 L776.0 722.9 L777.6 723.0 L779.2 721.2 L780.8 720.1 L782.4 719.6 L784.0 717.7 L785.6 718.0 L787.2 715.3 L788.8 715.6 L790.3 713.4 L791.8 712.9 L793.3 710.3 L794.8 708.9 L796.2 707.0 L797.6 707.1 L799.0 706.0 L800.3 705.6 L801.6 703.3 L803.0 700.9 L804.3 698.9 L805.6 698.0 L806.8 696.0 L808.1 695.8 L809.4 693.8 L810.6 690.7 L811.9 689.2 L813.1 689.5 L814.4 687.0 L815.6 684.9 L816.8 684.6 L818.0 681.6 L819.3 680.2 L820.5 678.4 L821.7 675.5 L822.9 676.4 L824.1 673.0 L825.4 672.0 L826.6 670.2 L827.8 669.9 L829.0 667.6 L830.2 666.1 L831.4 663.0 L832.6 662.8 L833.8 659.9 L835.0 659.9 L836.1 658.4 L837.3 656.4 L838.5 656.7 L839.6 653.7 L840.8 652.1 L842.0 650.0 L843.1 648.1 L844.2 647.5 L845.4 646.0 L846.5 642.2 L847.6 642.6 L848.8 640.5 L849.9 639.2 L851.0 637.1 L852.1 633.9 L853.2 632.3 L854.3 633.4 L855.4 630.3 L856.5 627.1 L857.6 627.0 L858.7 624.7 L859.8 621.7 L860.9 619.6 L861.9 618.5 L863.0 618.5 L864.1 616.6 L865.1 614.7 L866.2 613.5 L867.2 612.0 L868.3 607.9 L869.3 607.8 L870.4 605.6 L871.4 603.6 L872.4 602.4 L873.4 601.1 L874.4 599.2 L875.4 596.4 L876.3 595.5 L877.3 596.0 L878.2 591.5 L879.1 589.2 L880.1 589.1 L881.0 587.6 L881.8 585.7 L882.7 582.5 L883.7 582.6 L884.6 579.3 L885.5 577.2 L886.4 575.9 L887.4 574.6 L888.3 573.6 L889.3 571.7 L890.3 569.4 L891.3 568.5 L892.3 566.0 L893.3 565.0 L894.3 561.3 L895.3 559.4 L896.4 559.8 L897.4 556.1 L898.4 555.4 L899.4 553.8 L900.5 551.8 L901.5 550.1 L902.5 550.0 L903.6 544.8 L904.6 546.2 L905.6 545.7 L906.7 542.0 L907.7 540.2 L908.7 539.2 L909.8 538.4 L910.8 534.0 L911.8 533.4 L912.9 531.5 L913.9 530.4 L914.9 528.4 L915.9 527.1 L916.9 524.4 L918.0 523.1 L919.0 520.7 L920.0 519.0 L921.0 517.8 L922.0 516.0 L923.0 513.4 L924.0 514.1 L925.0 510.8 L926.0 508.0 L927.0 508.5 L928.0 505.1 L929.0 504.5 L930.0 502.3 L931.0 500.8 L932.0 499.0 L933.0 496.6 L934.0 495.4 L934.9 495.4 L935.9 489.8 L936.9 490.2 L937.8 488.7 L938.7 485.6 L939.7 483.6 L940.6 485.0 L941.5 480.9 L942.4 481.3 L943.3 478.1 L944.1 475.9 L945.0 474.5 L945.8 472.8 L946.7 471.5 L947.5 469.0 L948.3 466.9 L949.2 465.1 L950.0 464.4 L950.9 462.1 L951.8 458.6 L952.6 457.2 L953.5 456.3 L954.5 453.6 L955.4 452.1 L956.4 449.8 L957.4 448.7 L958.4 447.6 L959.5 446.5 L960.6 443.9 L961.7 444.1 L962.8 440.5 L964.0 441.8 L965.2 438.2 L966.4 436.2 L967.6 433.7 L968.9 430.1 L970.1 430.9 L971.5 429.8 L972.8 429.9 L974.2 425.5 L975.7 427.1 L977.1 423.8 L978.7 423.3 L980.2 419.1 L981.7 420.3 L983.3 418.6 L984.9 418.3 L986.5 416.6 L988.1 414.3 L989.8 415.1 L991.5 413.8 L993.2 412.7 L994.9 412.1 L996.7 411.2 L998.5 409.4 L1000.3 407.5 L1002.2 406.8 L1004.1 408.9 L1006.0 408.1 L1007.9 407.5 L1009.8 407.2 L1011.7 408.1 L1013.5 408.8 L1015.2 409.3 L1016.9 410.0 L1018.5 413.7 L1020.1 413.1 L1021.6 413.7 L1023.0 414.4 L1024.5 416.3 L1025.9 419.0 L1027.3 420.4 L1028.7 421.0 L1030.1 422.7 L1031.5 423.8 L1032.8 424.6 L1034.1 428.3 L1035.3 429.0 L1036.6 432.5 L1037.8 431.1 L1039.0 433.3 L1040.2 435.8 L1041.3 436.4 L1042.5 437.0 L1043.6 439.1 L1044.8 441.7 L1045.9 443.5 L1047.0 444.8 L1048.1 447.5 L1049.2 449.1 L1050.3 450.2 L1051.3 451.7 L1052.4 453.1 L1053.4 455.5 L1054.4 457.6 L1055.4 458.5 L1056.4 460.6 L1057.4 461.7 L1058.4 462.4 L1059.4 464.5 L1060.4 467.9 L1061.4 469.3 L1062.4 472.1 L1063.3 472.4 L1064.3 474.9 L1065.4 477.0 L1066.4 478.5 L1067.4 478.7 L1068.4 480.8 L1069.4 482.8 L1070.5 483.5 L1071.5 486.6 L1072.6 488.8 L1073.6 489.1 L1074.6 493.0 L1075.7 492.7 L1076.7 494.5 L1077.8 496.2 L1078.9 497.4 L1079.9 500.1 L1081.0 501.5 L1082.1 504.6 L1083.1 505.4 L1084.2 507.0 L1085.3 508.0 L1086.4 508.6 L1087.6 511.4 L1088.7 512.4 L1089.9 515.6 L1091.0 516.4 L1092.2 519.5 L1093.4 520.3 L1094.6 521.9 L1095.8 523.0 L1097.1 524.5 L1098.3 526.5 L1099.5 528.3 L1100.8 528.4 L1102.0 531.1 L1103.3 534.5 L1104.5 533.7 L1105.8 535.1 L1107.1 536.2 L1108.3 537.1 L1109.6 541.0 L1110.9 541.5 L1112.2 543.3 L1113.5 546.2 L1114.8 548.3 L1116.1 546.7 L1117.5 549.9 L1118.8 551.0 L1120.2 552.3 L1121.6 553.8 L1123.0 554.7 L1124.4 557.6 L1125.9 558.1 L1127.3 559.2 L1128.8 561.4 L1130.3 562.4 L1131.8 563.3 L1133.4 564.4 L1135.0 566.8 L1136.7 566.8 L1138.4 567.2 L1140.2 567.4 L1142.0 568.7 L1143.8 568.9 L1145.7 570.6 L1147.6 571.3 L1149.5 569.7 L1151.5 572.0 L1153.4 572.9 L1155.4 572.7 L1157.4 571.8 L1159.3 573.8 L1161.3 572.0 L1163.3 571.3 L1165.3 571.2 L1167.2 571.8 L1169.2 572.3 L1171.1 572.0 L1173.0 570.6 L1174.9 568.7 L1176.8 568.6 L1178.7 567.7 L1180.6 567.7 L1182.5 565.6 L1184.4 566.6 L1186.2 566.3 L1188.1 564.9 L1190.0 564.8 L1191.9 562.8 L1193.7 561.6 L1195.6 561.7 L1197.5 562.6 L1199.4 561.8 L1201.2 559.7 L1203.1 560.5 L1204.9 558.4 L1206.8 559.2 L1208.6 557.4 L1210.3 555.7 L1212.1 555.9 L1213.8 553.5 L1215.5 552.2 L1217.1 550.6 L1218.7 551.0 L1220.2 549.4 L1221.7 548.0 L1223.1 546.4 L1224.5 546.6 L1225.8 543.4 L1227.1 541.6 L1228.4 541.9 L1229.6 540.4 L1230.8 537.8 L1231.9 534.3 L1233.1 533.7 L1234.2 533.2 L1235.3 530.9 L1236.4 530.6 L1237.4 526.3 L1238.5 526.4 L1239.5 523.6 L1240.5 523.6 L1241.5 520.6 L1242.5 519.9 L1243.5 516.6 L1244.5 514.2 L1245.5 512.8 L1246.5 511.5 L1247.5 509.4 L1248.5 509.6 L1249.5 508.0 L1250.5 505.3 L1251.5 502.4 L1252.5 501.5 L1253.4 499.2 L1254.4 499.4 L1255.3 496.6 L1256.2 495.0 L1257.1 492.4 L1258.1 489.2 L1258.9 488.5 L1259.8 486.4 L1260.7 485.9 L1261.6 483.9 L1262.5 481.3 L1263.3 479.8 L1264.2 479.8 L1265.0 475.7 L1265.9 474.0 L1266.7 472.8 L1267.6 470.5 L1268.5 469.0 L1269.3 468.0 L1270.2 467.3 L1271.0 462.3 L1271.9 462.1 L1272.8 460.4 L1273.6 458.5 L1274.5 456.6 L1275.4 454.6 L1276.2 454.0 L1277.1 450.9 L1277.9 449.4 L1278.8 447.7 L1279.6 446.0 L1280.4 443.9 L1281.3 443.1 L1282.1 440.4 L1283.0 438.8 L1283.8 436.7 L1284.6 434.1 L1285.5 432.4 L1286.3 430.4 L1287.2 429.7 L1288.0 427.1 L1288.9 425.0 L1289.7 424.3 L1290.6 422.8 L1291.5 418.9 L1292.4 420.3 L1293.3 417.0 L1294.2 415.1 L1295.1 414.4 L1296.1 411.7 L1297.0 409.3 L1298.0 410.1 L1298.9 405.4 L1299.9 404.5 L1300.9 403.7 L1302.0 400.2 L1303.0 399.4 L1304.2 398.2 L1305.4 398.4 L1306.6 393.9 L1307.9 393.1 L1309.2 392.3 L1310.6 390.4 L1312.1 388.0 L1313.6 388.2 L1315.3 387.0 L1316.9 386.5 L1318.7 386.7 L1320.4 386.4 L1322.2 386.1 L1323.9 386.6 L1325.6 386.1 L1327.2 388.1 L1328.6 389.6 L1330.0 390.4 L1331.3 392.4 L1332.5 393.1 L1333.7 396.9 L1334.7 399.1 L1335.7 398.5 L1336.6 401.0 L1337.4 402.3 L1338.1 405.5 L1338.8 406.6 L1339.5 408.2 L1340.1 409.8 L1340.7 412.0 L1341.3 412.9 L1341.8 416.3 L1342.4 417.0 L1342.9 420.1 L1343.5 421.6 L1344.0 424.4 L1344.5 425.3 L1345.1 428.2 L1345.6 428.4 L1346.2 431.7 L1346.7 432.9 L1347.2 435.2 L1347.7 437.0 L1348.2 439.7 L1348.7 439.0 L1349.2 443.0 L1349.7 443.3 L1350.2 447.7 L1350.6 446.8 L1351.1 449.6 L1351.5 451.0 L1352.0 455.9 L1352.5 455.2 L1352.9 458.4 L1353.4 459.8 L1353.9 460.6 L1354.4 463.8 L1354.8 466.7 L1355.3 467.8 L1355.8 470.8 L1356.3 471.6 L1356.8 473.8 L1357.4 475.4 L1357.9 478.0 L1358.4 481.3 L1358.9 481.9 L1359.4 483.7 L1360.0 484.8 L1360.5 486.7 L1361.0 490.6 L1361.5 490.2 L1362.0 492.3 L1362.5 495.0 L1363.0 496.6 L1363.5 500.7 L1364.0 498.8 L1364.5 503.1 L1365.0 505.4 L1365.5 505.7 L1366.0 508.1 L1366.5 511.0 L1367.0 514.0 L1367.4 513.6 L1367.9 515.0 L1368.4 519.2 L1368.9 521.7 L1369.4 521.9 L1369.9 522.2 L1370.3 527.4 L1370.8 527.9 L1371.3 531.0 L1371.8 531.9 L1372.3 533.5 L1372.8 535.4 L1373.2 539.1 L1373.7 541.0 L1374.2 539.7 L1374.7 542.7 L1375.2 547.1 L1375.7 547.1 L1376.2 548.1 L1376.7 551.3 L1377.2 553.1 L1377.7 555.1 L1378.2 556.7 L1378.7 558.8 L1379.2 560.6 L1379.7 563.2 L1380.1 564.1 L1380.6 566.6 L1381.1 568.6 L1381.5 571.9 L1382.0 573.0 L1382.5 574.5 L1382.9 577.0 L1383.3 578.9 L1383.8 581.4 L1384.2 582.9 L1384.6 586.0 L1385.0 587.5 L1385.4 588.3 L1385.8 589.9 L1386.2 593.0 L1386.6 594.6 L1387.0 596.0 L1387.4 596.8 L1387.8 598.4 L1388.2 602.3 L1388.5 604.7 L1388.9 606.7 L1389.3 606.8 L1389.6 610.8 L1390.0 611.4 L1390.4 614.2 L1390.7 616.2 L1391.0 617.0 L1391.4 619.2 L1391.7 619.8 L1392.0 622.9 L1392.3 624.0 L1392.6 628.0 L1392.9 629.7 L1393.2 632.4 L1393.5 633.9 L1393.8 635.0 L1394.2 637.8 L1394.5 639.1 L1394.8 642.0 L1395.1 643.7 L1395.5 644.5 L1395.8 647.4 L1396.1 649.4 L1396.5 651.0 L1396.8 654.1 L1397.1 656.8 L1397.5 656.9 L1397.8 658.9 L1398.2 659.2 L1398.5 663.0 L1398.9 664.7 L1399.3 665.1 L1399.6 669.3 L1400.0 671.5 L1400.4 672.3 L1400.8 674.6 L1401.3 676.0 L1401.7 679.5 L1402.1 679.4 L1402.6 682.4 L1403.1 686.4 L1403.5 686.7 L1404.0 689.0 L1404.6 690.3 L1405.1 691.3 L1405.6 694.3 L1406.1 696.6 L1406.7 697.3 L1407.3 700.4 L1407.8 703.1 L1408.4 704.9 L1409.0 704.4 L1409.6 706.9 L1410.2 708.2 L1410.8 712.5 L1411.4 714.0 L1412.0 716.0 L1412.6 716.5 L1413.3 718.1 L1413.9 721.1 L1414.6 723.1 L1415.2 724.1 L1415.9 726.9 L1416.6 729.2 L1417.2 730.7 L1417.9 731.4 L1418.6 732.4 L1419.3 735.9 L1420.0 738.1 L1420.7 739.6 L1421.4 741.4 L1422.2 743.0 L1422.9 746.1 L1423.6 747.3 L1424.3 749.3 L1425.1 750.2 L1425.8 752.3 L1426.6 754.9 L1427.4 755.7 L1428.2 757.3 L1429.0 760.0 L1429.8 763.2 L1430.6 764.1 L1431.5 767.0 L1432.3 767.4 L1433.2 769.0 L1434.1 769.8 L1435.1 772.3 L1436.0 775.9 L1437.0 776.7 L1438.0 778.7 L1439.0 780.4 L1440.1 781.5 L1441.2 783.0 L1442.3 785.0 L1443.4 787.1 L1444.5 788.6 L1445.7 790.2 L1446.9 791.5 L1448.1 792.3 L1449.3 794.3 L1450.5 795.3 L1451.8 798.6 L1453.1 797.3 L1454.4 800.5 L1455.7 804.4 L1457.0 803.4 L1458.4 804.2 L1459.7 806.6 L1461.1 809.3 L1462.5 809.4 L1464.0 811.5 L1465.4 812.4 L1466.9 813.3 L1468.4 817.8 L1469.9 816.3 L1471.4 817.1 L1473.0 818.3 L1474.6 820.4 L1476.2 821.6 L1477.8 823.1 L1479.4 823.6 L1481.1 823.3 L1482.8 826.2 L1484.5 826.5 L1486.2 827.6 L1487.9 827.5 L1489.6 829.3 L1491.4 830.2 L1493.1 831.8 L1494.9 831.4 L1496.7 833.7 L1498.4 834.6 L1500.2 834.4 L1502.1 835.7 L1503.9 836.3 L1505.7 838.7 L1507.6 836.4 L1509.4 839.1 L1511.3 838.6 L1513.1 840.5 L1515.0 842.3 L1516.9 841.6 L1518.8 843.0 L1520.7 842.7 L1522.6 845.8 L1524.5 845.4 L1526.5 846.1 L1528.4 844.4 L1530.3 845.1 L1532.3 847.5 L1534.2 846.8 L1536.2 847.2 L1538.1 848.1 L1540.1 847.0 L1542.1 849.2 L1544.0 848.9 L1546.0 849.7 L1548.0 849.0 L1550.0 850.4 L1551.9 849.6 L1553.9 851.4 L1555.9 851.9 L1557.9 852.0 L1559.8 851.9 L1561.8 852.3 L1563.8 849.6 L1565.8 853.1 L1567.7 852.4 L1569.7 853.0 L1571.7 852.9 L1573.7 852.1 L1575.7 853.1 L1577.7 854.4 L1579.7 855.3 L1581.7 853.7 L1583.6 853.6 L1585.6 855.9 L1587.6 854.0 L1589.6 856.8 L1591.6 855.2 L1593.6 854.5 L1595.6 856.4 L1597.6 857.2 L1599.6 854.5 L1601.6 857.4 L1603.6 855.9 L1605.6 857.7 L1607.5 856.2 L1609.5 855.3 L1611.5 857.4 L1613.5 857.9 L1615.5 859.2 L1617.5 859.1 L1619.5 858.4 L1621.5 857.7 L1623.5 857.7 L1625.4 858.1 L1627.4 857.9 L1629.4 858.6 L1631.4 856.8 L1633.4 859.5 L1635.4 859.5 L1637.4 862.1 L1639.4 860.6 L1641.4 859.7 L1643.3 860.9 L1645.3 859.4 L1647.3 860.2 L1649.3 859.2 L1651.3 862.3 L1653.3 861.7 L1655.3 860.2 L1657.3 861.4 L1659.3 862.4 L1661.3 862.0 L1663.3 862.0 L1665.3 861.0 L1667.3 861.2 L1669.3 861.9 L1671.3 862.7 L1673.3 861.2 L1675.3 860.9 L1677.3 862.9 L1679.3 861.1 L1681.3 862.9 L1683.3 862.1 L1685.3 862.7 L1687.3 863.4 L1689.3 862.4 L1691.3 862.5 L1693.3 860.9 L1695.3 861.1 L1697.3 862.2 L1699.3 863.0 L1701.3 862.8 L1703.3 863.6 L1705.3 861.7 L1707.3 861.6 L1709.3 862.2 L1711.3 861.2 L1713.3 861.1 L1715.3 860.1 L1717.3 861.8 L1719.3 859.8 L1721.3 861.1 L1723.3 859.2 L1725.3 861.3 L1727.2 859.3 L1729.2 860.9 L1731.2 858.5 L1733.2 859.4 L1735.2 860.8 L1737.2 858.9 L1739.2 859.6 L1741.2 859.0 L1743.2 857.2 L1745.2 859.5 L1747.2 859.6 L1749.2 858.1 L1751.2 859.6 L1753.2 858.3 L1755.2 858.1 L1757.2 859.1 L1759.2 858.5 L1761.2 861.2 L1763.2 857.7 L1765.2 859.9 L1767.2 860.2 L1769.2 857.6 L1771.2 857.9 L1773.2 860.0 L1775.2 859.2 L1777.2 860.1 L1779.2 860.9 L1781.2 859.6 L1783.2 859.1 L1785.2 857.8 L1787.2 860.6 L1789.2 859.7 L1791.2 860.9 L1793.2 861.0 L1795.2 859.7 L1797.2 862.6 L1799.2 862.2 L1801.1 862.1 L1803.1 860.4 L1805.1 861.2 L1807.1 861.2 L1809.1 861.5 L1811.1 861.0 L1813.1 862.5 L1815.1 862.4 L1817.1 862.6 L1819.1 862.0 L1821.1 863.7 L1823.1 862.8 L1825.1 860.2 L1827.1 862.2 L1829.1 862.8 L1831.1 863.8 L1833.1 862.7 L1835.1 862.8 L1837.1 862.4 L1839.1 863.7 L1841.1 862.7 L1843.1 862.6 L1845.1 862.4 L1847.1 863.6 L1849.1 862.6 L1851.1 861.6 L1853.1 863.6 L1855.1 862.4 L1857.1 863.3 L1859.1 863.3 L1861.1 864.0 L1863.1 863.8 L1865.1 862.3 L1867.1 862.6 L1869.1 861.5 L1871.1 864.1 L1873.1 862.9 L1875.1 863.7 L1877.1 862.1 L1879.1 860.5 L1881.1 863.6 L1883.1 862.2 L1885.1 862.2 L1887.1 862.1 L1889.1 862.5 L1891.1 862.3 L1893.1 860.3 L1895.1 862.7 L1897.1 861.1 L1899.1 861.1 L1901.1 863.0 L1903.1 862.2 L1905.1 861.0 L1907.1 859.5 L1909.1 861.3 L1911.1 861.5 L1913.1 860.9 L1915.1 859.8 L1917.1 860.1 L1919.1 859.6 L1921.1 860.9 L1923.1 861.4 L1925.1 861.5 L1927.1 859.9 L1929.1 860.7 L1931.1 860.9 L1933.1 859.9 L1935.1 860.2 L1937.1 862.2 L1939.1 860.5 L1941.1 861.1 L1943.1 859.9 L1945.1 860.3 L1947.1 858.8 L1949.1 860.3 L1951.1 861.4 L1953.0 862.3 L1955.0 861.5 L1957.0 861.1 L1959.0 860.6 L1961.0 860.1 L1963.0 860.5 L1965.0 861.3 L1967.0 860.1 L1969.0 861.8 L1971.0 860.2 L1973.0 859.6 L1975.0 860.4 L1977.0 859.9 L1979.0 860.3 L1981.0 862.7 L1983.0 861.6 L1985.0 862.2 L1987.0 863.1 L1989.0 863.4 L1991.0 861.9 L1993.0 863.7 L1995.0 863.0 L1997.0 862.8 L1999.0 863.4 L2001.0 861.8 L2003.0 862.5 L2005.0 863.3 L2007.0 864.0 L2008.9 863.3 L2010.9 863.6 L2012.9 864.7 L2014.9 865.2 L2016.9 864.7 L2018.9 865.2 L2020.9 863.8 L2022.9 864.0 L2024.9 864.6 L2026.9 864.1 L2028.9 863.9 L2030.9 865.9 L2032.9 864.3 L2034.9 863.6 L2036.9 864.9 L2038.9 866.2 L2040.9 864.6 L2042.9 865.6 L2044.9 864.1 L2046.9 864.0 L2048.9 863.8 L2050.9 864.3 L2052.9 866.0 L2054.9 863.3 L2056.9 865.8 L2058.9 863.4 L2060.9 864.0 L2062.9 865.0 L2064.9 864.7 L2066.9 864.4 L2068.9 862.6 L2070.9 864.3 L2072.9 863.0 L2074.9 866.2 L2076.9 863.6 L2078.9 863.9 L2080.9 862.7 L2082.9 863.2 L2084.9 862.4 L2086.9 864.4 L2088.9 863.2 L2090.9 863.9 L2092.9 862.7 L2094.9 862.8 L2096.9 864.3 L2098.9 862.2 L2100.9 861.4 L2102.9 863.3 L2104.9 861.9 L2106.9 862.4 L2108.9 863.6 L2110.9 861.9 L2112.9 863.4 L2114.9 861.9 L2116.9 863.8 L2118.9 863.5 L2120.9 861.8 L2122.9 862.0 L2124.9 861.3 L2126.9 862.2 L2128.9 863.0 L2130.9 860.5 L2132.9 862.6 L2134.9 860.5 L2136.9 860.8 L2138.9 859.9 L2140.9 863.3 L2142.9 861.4 L2144.9 861.5 L2146.9 860.6 L2148.9 862.1 L2150.9 859.1 L2152.9 860.9 L2154.9 862.8 L2156.9 860.4 L2158.9 860.7 L2160.9 861.2 L2162.8 859.8 L2164.8 860.5 L2166.7 861.3 L2168.4 860.6 L2170.0 860.7 L2171.0 860.0"/>
<path stroke="#ff00ff" d="M229.0 952.6 L230.1 952.3 L231.6 953.6 L233.3 952.9 L235.1 952.0 L237.0 950.0 L239.0 952.9 L241.0 952.9 L243.0 951.4 L245.0 950.4 L247.0 951.1 L249.0 952.9 L251.0 951.1 L253.0 951.7 L255.0 952.3 L257.0 953.2 L259.0 952.0 L261.0 952.0 L263.0 951.6 L265.0 953.5 L267.0 953.0 L269.0 952.0 L271.0 950.9 L273.0 951.5 L275.0 952.8 L277.0 951.7 L279.0 953.2 L281.0 952.8 L283.0 952.9 L285.0 953.4 L287.0 953.4 L289.0 952.4 L291.0 953.0 L292.9 955.6 L294.9 952.7 L296.9 953.5 L298.9 955.1 L300.9 954.3 L302.9 953.9 L304.9 953.6 L306.9 955.5 L308.9 956.1 L310.9 956.6 L312.8 955.5 L314.8 956.5 L316.8 954.7 L318.8 955.8 L320.8 955.0 L322.8 955.8 L324.8 956.3 L326.8 956.5 L328.8 954.5 L330.8 956.4 L332.8 954.7 L334.8 954.0 L336.8 954.6 L338.8 953.2 L340.8 954.3 L342.7 954.3 L344.7 953.6 L346.7 953.9 L348.7 952.9 L350.7 952.9 L352.6 951.2 L354.6 952.3 L356.6 951.1 L358.6 951.2 L360.5 951.2 L362.5 951.1 L364.5 949.1 L366.4 948.8 L368.4 949.6 L370.4 950.0 L372.4 949.5 L374.3 949.7 L376.3 949.7 L378.3 948.7 L380.3 947.9 L382.2 946.7 L384.2 946.4 L386.2 946.6 L388.2 946.9 L390.1 946.6 L392.1 946.1 L394.1 945.6 L396.1 946.1 L398.0 945.4 L400.0 945.1 L402.0 944.8 L404.0 943.8 L406.0 943.0 L407.9 944.1 L409.9 943.7 L411.9 942.8 L413.9 942.3 L415.8 944.5 L417.8 941.4 L419.8 941.6 L421.8 941.7 L423.7 940.1 L425.7 940.9 L427.7 942.1 L429.6 941.0 L431.6 940.3 L433.6 940.0 L435.6 939.2 L437.5 939.6 L439.5 938.2 L441.5 937.6 L443.4 937.7 L445.4 938.1 L447.3 937.2 L449.3 937.1 L451.3 934.2 L453.2 936.7 L455.2 937.3 L457.1 936.0 L459.1 934.1 L461.0 933.1 L463.0 933.7 L464.9 932.1 L466.9 933.2 L468.8 931.5 L470.7 932.4 L472.7 932.3 L474.6 928.7 L476.5 930.3 L478.5 928.9 L480.4 927.7 L482.4 927.9 L484.3 927.8 L486.2 928.4 L488.2 925.6 L490.1 927.4 L492.0 927.8 L494.0 926.0 L495.9 925.5 L497.8 924.5 L499.8 923.0 L501.7 924.0 L503.7 923.4 L505.6 923.3 L507.6 924.5 L509.5 922.4 L511.5 921.6 L513.4 922.2 L515.4 919.2 L517.3 918.9 L519.3 919.1 L521.2 918.4 L523.2 919.2 L525.1 917.8 L527.0 919.2 L529.0 918.5 L530.9 917.4 L532.9 915.8 L534.8 916.2 L536.7 915.9 L538.6 913.6 L540.6 914.3 L542.5 914.1 L544.4 913.0 L546.3 913.6 L548.2 912.6 L550.0 910.1 L551.9 910.3 L553.8 908.7 L555.6 909.2 L557.5 907.1 L559.3 908.0 L561.2 906.7 L563.0 906.5 L564.9 904.7 L566.7 902.7 L568.5 904.8 L570.4 902.3 L572.2 903.0 L574.1 901.4 L576.0 900.9 L577.8 901.2 L579.7 899.2 L581.6 899.5 L583.5 896.3 L585.4 897.8 L587.3 896.2 L589.2 895.8 L591.2 895.3 L593.1 895.1 L595.0 895.7 L596.9 892.0 L598.9 893.2 L600.8 892.0 L602.7 893.1 L604.6 891.1 L606.5 891.3 L608.4 889.9 L610.3 890.3 L612.2 889.9 L614.1 888.0 L616.0 887.6 L617.8 885.5 L619.6 886.3 L621.5 886.0 L623.3 883.8 L625.0 884.4 L626.8 880.6 L628.6 879.9 L630.3 879.3 L632.0 879.1 L633.7 878.5 L635.5 877.4 L637.2 876.4 L638.9 876.0 L640.5 873.9 L642.2 872.1 L643.9 871.0 L645.6 873.0 L647.3 867.8 L648.9 868.7 L650.6 869.1 L652.3 867.1 L654.0 864.9 L655.7 864.6 L657.4 864.3 L659.1 863.6 L660.8 860.6 L662.5 861.1 L664.2 859.6 L666.0 859.4 L667.7 858.7 L669.5 856.2 L671.2 854.2 L673.0 855.0 L674.8 855.3 L676.6 853.4 L678.3 852.0 L680.1 853.1 L681.9 849.0 L683.7 849.9 L685.4 847.6 L687.2 847.3 L689.0 846.4 L690.8 846.8 L692.6 843.7 L694.4 843.2 L696.2 841.4 L698.0 842.4 L699.8 840.7 L701.6 840.6 L703.4 838.4 L705.2 838.2 L707.0 838.6 L708.9 836.7 L710.7 836.6 L712.5 835.8 L714.4 834.3 L716.3 832.5 L718.1 834.0 L720.0 832.5 L721.8 832.5 L723.6 829.0 L725.4 828.5 L727.2 827.1 L729.0 827.4 L730.8 828.2 L732.6 826.9 L734.4 825.5 L736.2 824.7 L738.0 824.4 L739.8 822.6 L741.6 822.3 L743.4 821.2 L745.1 818.2 L746.9 818.9 L748.6 819.4 L750.3 816.8 L751.9 815.9 L753.6 814.3 L755.2 813.2 L756.7 813.4 L758.3 810.9 L759.8 809.0 L761.4 805.9 L762.9 806.9 L764.5 804.4 L766.1 803.3 L767.7 804.5 L769.4 803.3 L771.0 799.8 L772.7 801.2 L774.3 799.7 L775.9 797.4 L777.5 797.6 L779.1 794.2 L780.7 793.3 L782.2 791.8 L783.7 790.8 L785.1 791.2 L786.6 787.9 L788.0 786.6 L789.4 785.4 L790.8 785.0 L792.1 783.0 L793.5 782.6 L794.8 779.7 L796.1 777.7 L797.4 776.9 L798.7 775.8 L799.9 773.4 L801.2 772.9 L802.4 772.7 L803.6 768.9 L804.8 767.9 L806.0 767.5 L807.2 764.1 L808.4 762.3 L809.6 760.4 L810.7 760.2 L811.9 758.7 L813.1 756.4 L814.3 755.0 L815.4 754.5 L816.6 752.5 L817.8 748.8 L818.9 748.4 L820.1 746.9 L821.2 745.8 L822.4 743.3 L823.5 741.3 L824.7 739.9 L825.9 737.0 L827.0 737.0 L828.2 734.9 L829.4 734.2 L830.5 731.2 L831.7 730.1 L832.9 728.0 L834.0 726.3 L835.2 726.3 L836.4 723.6 L837.5 722.8 L838.7 719.7 L839.8 719.2 L841.0 715.9 L842.1 715.4 L843.2 713.7 L844.4 713.1 L845.5 711.0 L846.6 709.1 L847.7 708.3 L848.8 706.1 L849.9 704.7 L851.0 703.2 L852.0 700.7 L853.0 698.8 L854.0 697.6 L854.9 695.2 L855.9 694.2 L856.8 693.0 L857.7 691.0 L858.6 688.1 L859.6 685.5 L860.5 684.9 L861.4 683.0 L862.3 682.3 L863.2 679.2 L864.1 677.6 L865.0 676.7 L866.0 673.8 L866.9 672.3 L867.9 672.3 L868.9 670.3 L869.9 667.8 L870.9 665.8 L871.9 663.0 L873.0 662.7 L874.1 660.5 L875.2 659.0 L876.3 656.7 L877.4 655.5 L878.6 653.7 L879.7 652.5 L880.9 651.9 L882.0 649.3 L883.1 645.8 L884.3 644.8 L885.4 642.6 L886.5 641.6 L887.6 641.2 L888.7 639.4 L889.8 636.8 L890.9 635.9 L891.9 633.2 L892.9 630.9 L893.9 629.2 L894.9 627.9 L895.9 628.2 L896.8 624.0 L897.8 624.6 L898.7 622.9 L899.6 619.7 L900.5 618.1 L901.4 615.8 L902.3 614.5 L903.2 613.3 L904.1 611.0 L905.0 610.1 L905.9 608.5 L906.8 605.9 L907.7 604.1 L908.7 602.0 L909.6 600.6 L910.5 597.5 L911.5 597.1 L912.4 595.2 L913.4 592.5 L914.4 593.5 L915.4 588.9 L916.4 587.3 L917.4 586.6 L918.5 582.9 L919.5 582.2 L920.6 579.9 L921.7 578.7 L922.8 577.8 L923.8 576.5 L924.9 575.5 L926.0 573.6 L927.1 572.2 L928.2 570.0 L929.3 567.4 L930.3 567.1 L931.4 564.0 L932.4 562.2 L933.5 562.4 L934.5 560.0 L935.5 557.8 L936.5 556.5 L937.5 554.9 L938.5 551.1 L939.5 550.5 L940.4 547.8 L941.3 547.2 L942.3 544.7 L943.2 544.7 L944.1 542.2 L945.0 539.2 L945.9 538.2 L946.8 535.3 L947.7 534.6 L948.6 533.3 L949.5 531.3 L950.4 527.5 L951.4 527.2 L952.3 526.2 L953.2 524.2 L954.2 523.2 L955.2 519.3 L956.2 519.2 L957.2 516.4 L958.3 515.5 L959.4 514.0 L960.5 512.7 L961.7 509.9 L963.0 509.0 L964.2 506.3 L965.6 504.6 L966.9 504.9 L968.3 502.9 L969.7 500.1 L971.1 499.4 L972.6 498.7 L974.0 498.7 L975.5 496.9 L976.9 495.3 L978.4 491.6 L979.9 491.8 L981.4 491.0 L982.9 489.7 L984.5 488.6 L986.2 486.9 L987.9 487.7 L989.6 486.6 L991.5 484.5 L993.4 483.3 L995.3 485.7 L997.2 483.2 L999.2 484.8 L1001.2 485.5 L1003.1 483.2 L1005.1 484.6 L1007.1 484.3 L1009.0 485.5 L1011.0 485.8 L1012.9 487.8 L1014.8 487.2 L1016.7 487.3 L1018.5 489.1 L1020.3 488.6 L1022.1 489.5 L1023.8 492.8 L1025.4 491.2 L1026.9 492.7 L1028.4 494.5 L1029.9 494.9 L1031.2 495.4 L1032.5 499.7 L1033.8 499.6 L1035.0 501.4 L1036.2 503.2 L1037.4 504.2 L1038.6 505.8 L1039.7 508.5 L1040.8 512.2 L1041.9 512.4 L1043.0 514.1 L1044.1 513.7 L1045.1 516.8 L1046.2 517.4 L1047.2 520.9 L1048.2 521.7 L1049.2 523.7 L1050.2 525.3 L1051.1 526.6 L1052.1 527.6 L1053.0 531.2 L1054.0 531.2 L1054.9 533.2 L1055.8 535.7 L1056.8 537.1 L1057.7 539.8 L1058.6 542.2 L1059.5 543.3 L1060.4 545.1 L1061.3 546.7 L1062.2 549.3 L1063.0 548.6 L1063.9 552.4 L1064.7 553.1 L1065.6 554.6 L1066.4 557.6 L1067.2 559.0 L1068.0 561.7 L1068.7 564.1 L1069.5 562.8 L1070.3 566.7 L1071.0 570.4 L1071.8 571.3 L1072.5 573.6 L1073.3 574.3 L1074.0 574.7 L1074.8 576.9 L1075.6 580.4 L1076.4 582.4 L1077.2 582.7 L1078.0 585.0 L1078.9 587.2 L1079.7 587.2 L1080.6 590.3 L1081.5 593.8 L1082.5 596.1 L1083.4 595.8 L1084.4 599.3 L1085.3 599.0 L1086.3 600.5 L1087.3 600.9 L1088.2 605.5 L1089.2 606.1 L1090.3 610.2 L1091.3 610.1 L1092.3 611.7 L1093.4 611.6 L1094.4 616.3 L1095.5 616.3 L1096.6 618.1 L1097.8 617.9 L1098.9 622.4 L1100.1 624.1 L1101.3 624.2 L1102.5 626.4 L1103.7 628.3 L1105.0 630.3 L1106.3 631.1 L1107.6 634.0 L1109.0 633.8 L1110.3 634.9 L1111.7 636.5 L1113.1 636.0 L1114.6 638.9 L1116.0 641.9 L1117.6 642.6 L1119.1 642.9 L1120.7 645.2 L1122.3 644.2 L1123.9 646.9 L1125.6 648.7 L1127.3 649.9 L1129.0 649.6 L1130.7 652.1 L1132.5 653.9 L1134.3 652.7 L1136.1 654.6 L1137.9 653.4 L1139.7 653.8 L1141.6 656.9 L1143.5 657.0 L1145.4 657.8 L1147.3 657.7 L1149.2 658.6 L1151.1 660.0 L1153.1 661.3 L1155.0 659.9 L1157.0 659.0 L1159.0 661.8 L1160.9 661.4 L1162.9 661.5 L1164.9 661.1 L1166.9 662.9 L1168.9 660.7 L1170.9 660.9 L1172.8 658.4 L1174.8 659.2 L1176.7 658.7 L1178.7 658.8 L1180.6 658.6 L1182.5 657.0 L1184.4 658.6 L1186.3 655.4 L1188.2 655.3 L1190.0 655.2 L1191.9 653.1 L1193.7 653.9 L1195.5 653.1 L1197.3 651.4 L1199.1 652.5 L1200.9 649.9 L1202.6 649.1 L1204.3 647.0 L1206.0 645.4 L1207.7 645.2 L1209.4 644.4 L1211.1 643.2 L1212.7 643.2 L1214.3 639.1 L1215.9 639.1 L1217.5 637.2 L1219.1 638.9 L1220.7 635.9 L1222.2 634.7 L1223.7 632.8 L1225.2 633.3 L1226.7 630.8 L1228.2 630.0 L1229.6 626.6 L1231.0 628.1 L1232.4 625.9 L1233.8 624.6 L1235.1 623.8 L1236.4 621.0 L1237.7 619.5 L1239.0 618.7 L1240.2 616.9 L1241.5 614.7 L1242.6 613.3 L1243.8 611.2 L1245.0 610.7 L1246.1 609.2 L1247.2 606.7 L1248.3 606.7 L1249.3 602.0 L1250.4 601.4 L1251.4 601.5 L1252.4 597.8 L1253.4 595.0 L1254.4 596.0 L1255.3 593.5 L1256.3 590.1 L1257.2 590.1 L1258.1 586.7 L1258.9 584.6 L1259.8 583.9 L1260.6 581.8 L1261.4 579.4 L1262.2 578.2 L1263.0 575.8 L1263.7 574.9 L1264.5 573.0 L1265.2 571.8 L1265.9 568.8 L1266.7 566.2 L1267.4 564.3 L1268.1 563.4 L1268.8 563.2 L1269.5 560.7 L1270.3 557.5 L1271.0 557.1 L1271.7 553.3 L1272.5 553.4 L1273.2 550.3 L1274.0 549.5 L1274.7 547.5 L1275.5 544.8 L1276.2 543.5 L1276.9 540.4 L1277.7 539.4 L1278.4 538.6 L1279.1 539.5 L1279.9 534.5 L1280.6 532.1 L1281.3 529.3 L1282.0 529.3 L1282.8 525.0 L1283.5 523.9 L1284.3 523.1 L1285.0 519.8 L1285.8 520.4 L1286.6 518.2 L1287.3 514.8 L1288.1 513.0 L1289.0 510.5 L1289.8 508.6 L1290.6 508.5 L1291.5 506.8 L1292.4 504.8 L1293.2 502.9 L1294.1 500.4 L1295.0 499.4 L1295.9 496.0 L1296.8 495.5 L1297.8 495.1 L1298.8 493.3 L1299.9 490.0 L1301.0 488.5 L1302.3 488.5 L1303.6 487.4 L1305.0 483.1 L1306.6 482.9 L1308.2 482.4 L1309.9 482.4 L1311.7 479.9 L1313.6 480.7 L1315.4 479.6 L1317.3 482.0 L1319.2 480.5 L1321.0 480.5 L1322.7 481.1 L1324.3 483.4 L1325.8 484.2 L1327.3 483.9 L1328.6 486.6 L1329.8 486.7 L1330.9 488.9 L1331.9 490.1 L1332.9 491.8 L1333.7 494.2 L1334.5 495.7 L1335.2 498.9 L1335.9 501.1 L1336.6 502.0 L1337.2 503.1 L1337.8 506.8 L1338.3 506.1 L1338.9 508.1 L1339.5 512.5 L1340.1 514.3 L1340.6 516.5 L1341.2 517.3 L1341.8 518.3 L1342.5 520.9 L1343.1 523.8 L1343.7 524.4 L1344.4 526.4 L1345.0 527.7 L1345.7 529.8 L1346.3 533.5 L1347.0 535.0 L1347.6 535.5 L1348.2 537.4 L1348.8 539.8 L1349.3 542.7 L1349.9 543.1 L1350.4 545.9 L1350.9 546.1 L1351.4 548.8 L1351.9 552.3 L1352.3 554.7 L1352.7 554.8 L1353.1 557.1 L1353.5 560.4 L1353.9 561.3 L1354.2 563.2 L1354.6 566.1 L1354.9 567.8 L1355.2 570.6 L1355.5 572.3 L1355.9 573.0 L1356.2 575.4 L1356.5 577.4 L1356.8 578.2 L1357.1 580.6 L1357.4 584.3 L1357.7 584.0 L1358.0 588.3 L1358.3 589.6 L1358.6 591.2 L1358.9 593.8 L1359.2 595.7 L1359.6 598.3 L1359.9 598.8 L1360.3 601.0 L1360.6 602.9 L1361.0 606.8 L1361.4 607.9 L1361.8 608.2 L1362.2 610.7 L1362.6 612.3 L1363.0 614.9 L1363.4 617.1 L1363.8 620.9 L1364.2 619.1 L1364.7 623.7 L1365.1 625.1 L1365.5 626.0 L1366.0 628.5 L1366.4 630.1 L1366.8 632.5 L1367.3 635.4 L1367.7 635.0 L1368.2 639.5 L1368.6 640.0 L1369.1 643.6 L1369.6 644.6 L1370.0 647.2 L1370.5 648.6 L1370.9 651.0 L1371.4 652.0 L1371.9 653.2 L1372.3 656.5 L1372.8 658.5 L1373.2 661.7 L1373.7 659.9 L1374.2 663.5 L1374.6 666.6 L1375.1 666.4 L1375.5 669.3 L1376.0 673.3 L1376.5 674.7 L1376.9 674.5 L1377.4 678.6 L1377.8 680.3 L1378.3 681.9 L1378.7 683.5 L1379.2 685.3 L1379.6 686.2 L1380.1 688.5 L1380.5 691.6 L1380.9 693.0 L1381.4 696.5 L1381.8 696.5 L1382.3 696.6 L1382.7 700.4 L1383.2 702.9 L1383.6 704.9 L1384.0 706.6 L1384.5 707.7 L1384.9 711.8 L1385.4 711.8 L1385.8 715.0 L1386.3 716.0 L1386.8 717.1 L1387.2 721.4 L1387.7 719.9 L1388.2 723.3 L1388.6 726.4 L1389.1 727.6 L1389.6 730.6 L1390.1 731.7 L1390.6 733.4 L1391.1 737.6 L1391.6 737.4 L1392.1 739.4 L1392.7 740.5 L1393.2 742.7 L1393.7 745.9 L1394.3 747.8 L1394.8 749.2 L1395.3 750.5 L1395.9 753.7 L1396.4 753.4 L1397.0 756.6 L1397.6 758.6 L1398.1 760.0 L1398.7 762.8 L1399.2 764.0 L1399.8 765.8 L1400.4 770.0 L1400.9 771.0 L1401.5 773.3 L1402.1 774.2 L1402.6 777.0 L1403.2 778.7 L1403.7 781.0 L1404.3 784.0 L1404.8 783.6 L1405.4 785.9 L1405.9 787.6 L1406.5 786.4 L1407.0 790.2 L1407.6 793.4 L1408.1 795.9 L1408.7 796.7 L1409.2 800.2 L1409.8 802.2 L1410.4 802.6 L1410.9 806.2 L1411.5 808.4 L1412.1 809.2 L1412.7 809.8 L1413.3 813.9 L1413.9 814.3 L1414.5 816.1 L1415.1 818.4 L1415.7 819.7 L1416.3 823.1 L1416.9 824.7 L1417.5 827.0 L1418.1 828.3 L1418.8 829.0 L1419.4 831.5 L1420.0 834.3 L1420.7 835.0 L1421.3 839.9 L1422.0 839.0 L1422.7 840.5 L1423.4 843.9 L1424.2 845.4 L1424.9 846.6 L1425.7 848.3 L1426.5 850.7 L1427.3 852.9 L1428.1 854.7 L1428.9 855.5 L1429.7 858.0 L1430.6 860.2 L1431.4 861.9 L1432.3 860.3 L1433.2 864.0 L1434.1 865.9 L1435.0 868.2 L1435.9 870.3 L1436.9 872.8 L1437.9 874.2 L1438.9 875.3 L1439.9 877.1 L1440.9 880.4 L1442.0 879.9 L1443.2 882.4 L1444.3 885.2 L1445.5 885.7 L1446.7 885.1 L1447.9 888.9 L1449.2 889.7 L1450.5 891.5 L1451.8 894.1 L1453.1 895.0 L1454.5 895.8 L1455.9 898.3 L1457.3 899.3 L1458.7 900.4 L1460.1 902.0 L1461.6 903.3 L1463.1 904.1 L1464.6 905.4 L1466.1 907.1 L1467.6 907.5 L1469.1 908.5 L1470.7 912.1 L1472.3 911.9 L1473.8 913.4 L1475.4 914.5 L1477.0 915.8 L1478.6 917.0 L1480.3 918.2 L1481.9 918.6 L1483.6 921.2 L1485.2 920.9 L1486.9 923.5 L1488.6 921.9 L1490.3 923.7 L1492.0 926.6 L1493.8 926.6 L1495.5 927.1 L1497.3 928.9 L1499.1 928.6 L1500.9 930.5 L1502.7 929.2 L1504.5 931.6 L1506.3 932.2 L1508.2 934.0 L1510.1 935.0 L1512.0 934.0 L1513.9 936.8 L1515.8 935.4 L1517.8 934.5 L1519.7 934.7 L1521.7 938.6 L1523.6 937.5 L1525.6 937.4 L1527.6 937.6 L1529.5 937.6 L1531.5 940.1 L1533.5 939.1 L1535.5 941.1 L1537.5 939.5 L1539.4 937.9 L1541.4 941.0 L1543.4 940.2 L1545.4 940.6 L1547.4 942.4 L1549.4 941.0 L1551.4 942.5 L1553.3 941.6 L1555.3 941.1 L1557.3 942.4 L1559.3 941.6 L1561.3 943.3 L1563.3 943.3 L1565.3 942.6 L1567.3 943.2 L1569.3 943.3 L1571.3 942.7 L1573.3 944.0 L1575.3 943.1 L1577.3 944.1 L1579.2 942.9 L1581.2 944.1 L1583.2 944.6 L1585.2 943.8 L1587.2 944.5 L1589.1 944.7 L1591.1 946.2 L1593.1 945.3 L1595.0 946.8 L1597.0 948.2 L1598.9 947.6 L1600.9 946.3 L1602.8 948.4 L1604.7 949.7 L1606.7 949.0 L1608.6 950.8 L1610.5 950.9 L1612.4 951.2 L1614.4 951.2 L1616.3 951.5 L1618.2 952.2 L1620.2 953.1 L1622.1 954.0 L1624.0 954.4 L1626.0 954.3 L1627.9 955.1 L1629.8 955.8 L1631.8 954.4 L1633.7 955.6 L1635.7 956.0 L1637.7 956.9 L1639.6 957.2 L1641.6 957.6 L1643.6 957.4 L1645.5 959.2 L1647.5 959.2 L1649.5 957.8 L1651.5 959.5 L1653.4 958.8 L1655.4 961.6 L1657.4 959.9 L1659.4 960.2 L1661.4 960.8 L1663.4 960.7 L1665.4 960.9 L1667.4 962.4 L1669.4 961.3 L1671.4 961.9 L1673.4 962.1 L1675.4 960.1 L1677.4 962.4 L1679.3 961.4 L1681.3 961.5 L1683.3 959.7 L1685.3 961.0 L1687.3 960.4 L1689.3 959.3 L1691.3 961.6 L1693.3 959.8 L1695.2 958.9 L1697.2 959.0 L1699.2 959.4 L1701.2 959.3 L1703.2 958.6 L1705.2 958.9 L1707.1 958.9 L1709.1 956.2 L1711.1 956.7 L1713.1 956.1 L1715.1 956.8 L1717.1 957.8 L1719.1 956.9 L1721.1 955.2 L1723.1 955.7 L1725.1 956.7 L1727.1 955.2 L1729.0 955.4 L1731.0 955.5 L1733.0 953.4 L1735.0 955.6 L1737.0 955.0 L1739.0 955.1 L1741.0 953.5 L1743.0 953.5 L1745.0 953.5 L1747.0 954.1 L1749.0 953.8 L1751.0 953.7 L1753.0 955.0 L1755.0 954.4 L1756.9 952.5 L1758.9 952.4 L1760.9 954.4 L1762.9 952.5 L1764.9 953.9 L1766.9 954.0 L1768.9 952.0 L1770.9 952.1 L1772.9 952.4 L1774.9 951.5 L1776.9 951.3 L1778.9 951.8 L1780.9 952.9 L1782.9 951.8 L1784.9 952.0 L1786.9 951.8 L1788.9 951.0 L1790.9 953.7 L1792.9 950.3 L1794.9 951.9 L1796.9 953.1 L1798.9 951.5 L1800.9 953.4 L1802.9 954.2 L1804.9 952.4 L1806.9 953.5 L1808.9 952.5 L1810.9 954.2 L1812.9 954.0 L1814.8 954.3 L1816.8 955.5 L1818.8 954.9 L1820.8 955.9 L1822.8 955.5 L1824.8 954.0 L1826.8 955.5 L1828.8 956.0 L1830.8 954.4 L1832.8 957.1 L1834.7 956.2 L1836.7 956.6 L1838.7 955.6 L1840.7 956.7 L1842.7 957.0 L1844.7 956.6 L1846.7 957.1 L1848.7 955.3 L1850.7 958.5 L1852.7 956.4 L1854.7 955.5 L1856.7 956.7 L1858.7 956.9 L1860.7 958.1 L1862.7 956.9 L1864.7 957.9 L1866.7 956.8 L1868.7 959.6 L1870.7 958.0 L1872.7 959.2 L1874.7 956.4 L1876.7 957.8 L1878.7 956.2 L1880.7 957.4 L1882.7 957.4 L1884.6 955.1 L1886.6 955.3 L1888.6 955.1 L1890.6 954.6 L1892.6 955.0 L1894.6 954.6 L1896.6 953.9 L1898.6 955.0 L1900.5 955.2 L1902.5 953.2 L1904.5 953.7 L1906.5 953.9 L1908.5 953.4 L1910.4 952.7 L1912.4 953.8 L1914.4 953.5 L1916.4 953.1 L1918.4 952.0 L1920.3 953.8 L1922.3 953.3 L1924.3 951.1 L1926.3 951.1 L1928.3 952.0 L1930.3 950.0 L1932.3 950.9 L1934.2 950.3 L1936.2 949.5 L1938.2 949.7 L1940.2 948.4 L1942.2 949.2 L1944.2 947.8 L1946.2 951.5 L1948.2 950.8 L1950.2 950.5 L1952.2 949.7 L1954.2 950.3 L1956.2 950.6 L1958.2 950.5 L1960.2 950.5 L1962.2 949.0 L1964.2 950.3 L1966.2 949.7 L1968.2 949.3 L1970.2 949.5 L1972.1 951.2 L1974.1 952.0 L1976.1 950.0 L1978.1 953.1 L1980.1 953.1 L1982.1 951.8 L1984.0 952.0 L1986.0 952.6 L1988.0 953.8 L1990.0 952.9 L1991.9 952.5 L1993.9 954.1 L1995.9 952.3 L1997.9 954.6 L1999.8 955.9 L2001.8 955.5 L2003.8 956.3 L2005.7 956.5 L2007.7 957.1 L2009.6 956.9 L2011.6 956.5 L2013.6 957.4 L2015.5 957.9 L2017.5 959.5 L2019.5 960.1 L2021.4 959.4 L2023.4 958.6 L2025.4 958.9 L2027.4 959.6 L2029.4 961.2 L2031.4 960.4 L2033.4 960.2 L2035.4 959.7 L2037.3 961.3 L2039.3 960.9 L2041.3 960.6 L2043.3 960.8 L2045.3 962.3 L2047.3 960.7 L2049.3 962.4 L2051.3 962.0 L2053.3 960.9 L2055.3 961.6 L2057.3 960.7 L2059.3 960.1 L2061.3 960.5 L2063.3 959.9 L2065.3 961.2 L2067.3 960.7 L2069.3 961.1 L2071.3 961.3 L2073.3 957.7 L2075.3 960.8 L2077.3 958.8 L2079.3 960.5 L2081.3 959.5 L2083.3 960.3 L2085.3 961.4 L2087.3 958.6 L2089.3 960.2 L2091.3 959.9 L2093.3 958.2 L2095.3 960.4 L2097.3 959.8 L2099.3 959.2 L2101.3 958.9 L2103.3 962.4 L2105.3 959.0 L2107.3 957.7 L2109.3 958.4 L2111.3 958.8 L2113.3 958.7 L2115.3 958.9 L2117.3 957.9 L2119.3 959.2 L2121.3 958.2 L2123.3 957.3 L2125.3 957.7 L2127.3 958.0 L2129.3 959.0 L2131.3 958.6 L2133.3 957.8 L2135.3 958.0 L2137.3 958.1 L2139.3 959.6 L2141.3 957.1 L2143.3 958.0 L2145.3 958.1 L2147.3 956.5 L2149.3 957.4 L2151.3 957.3 L2153.3 956.6 L2155.3 957.5 L2157.3 957.8 L2159.2 957.8 L2161.2 956.5 L2163.2 956.7 L2165.1 958.6 L2167.0 955.4 L2168.6 956.6 L2170.1 957.1 L2171.0 956.5"/>
<path stroke="#008000" d="M229.0 1049.3 L230.1 1048.9 L231.6 1049.5 L233.3 1050.0 L235.1 1048.6 L237.0 1049.0 L239.0 1048.8 L241.0 1048.5 L243.0 1048.9 L245.0 1047.9 L247.0 1049.6 L249.0 1050.5 L251.0 1050.6 L253.0 1050.2 L255.0 1048.2 L257.0 1050.5 L259.0 1048.5 L261.0 1049.2 L263.0 1050.9 L265.0 1048.3 L267.0 1050.1 L269.0 1049.7 L271.0 1049.4 L273.0 1048.8 L275.0 1050.1 L277.0 1049.4 L279.0 1050.8 L281.0 1051.1 L283.0 1048.9 L285.0 1049.9 L287.0 1050.2 L288.9 1049.6 L290.9 1049.9 L292.9 1051.2 L294.9 1051.1 L296.9 1050.0 L298.9 1051.3 L300.9 1052.4 L302.9 1051.1 L304.9 1051.6 L306.8 1054.1 L308.8 1054.0 L310.8 1051.6 L312.8 1052.0 L314.8 1053.8 L316.8 1052.5 L318.8 1053.5 L320.8 1053.5 L322.8 1054.6 L324.8 1051.9 L326.8 1052.3 L328.8 1053.3 L330.8 1055.4 L332.8 1054.4 L334.8 1053.0 L336.8 1055.0 L338.8 1055.2 L340.8 1054.4 L342.8 1054.3 L344.8 1055.0 L346.8 1055.7 L348.8 1054.7 L350.8 1055.0 L352.8 1054.5 L354.8 1054.1 L356.8 1053.6 L358.8 1054.6 L360.8 1054.1 L362.8 1054.0 L364.8 1055.0 L366.8 1054.6 L368.8 1054.8 L370.8 1052.6 L372.7 1054.4 L374.7 1053.3 L376.7 1053.0 L378.7 1052.9 L380.7 1054.6 L382.7 1054.2 L384.7 1052.7 L386.7 1052.2 L388.7 1053.1 L390.7 1052.6 L392.7 1054.4 L394.7 1051.4 L396.7 1051.0 L398.7 1052.3 L400.7 1052.4 L402.7 1052.4 L404.7 1052.8 L406.7 1053.9 L408.7 1051.6 L410.7 1051.2 L412.7 1050.0 L414.7 1051.6 L416.7 1052.0 L418.7 1050.9 L420.7 1052.0 L422.6 1050.8 L424.6 1051.9 L426.6 1050.7 L428.6 1049.3 L430.6 1049.4 L432.6 1048.4 L434.6 1048.0 L436.6 1049.6 L438.6 1049.9 L440.6 1050.7 L442.5 1048.6 L444.5 1048.2 L446.5 1047.2 L448.5 1048.8 L450.5 1048.0 L452.5 1046.8 L454.4 1047.7 L456.4 1047.3 L458.4 1044.8 L460.4 1046.9 L462.3 1046.0 L464.3 1045.2 L466.3 1044.9 L468.3 1046.5 L470.2 1045.9 L472.2 1045.9 L474.2 1042.8 L476.1 1042.9 L478.1 1044.0 L480.1 1041.7 L482.0 1041.8 L484.0 1040.4 L486.0 1043.4 L487.9 1042.3 L489.9 1041.4 L491.9 1040.8 L493.8 1039.8 L495.8 1039.5 L497.8 1040.0 L499.7 1038.5 L501.7 1039.8 L503.7 1037.9 L505.6 1037.2 L507.6 1038.8 L509.6 1037.2 L511.5 1037.4 L513.5 1036.2 L515.5 1034.2 L517.4 1036.4 L519.4 1034.3 L521.4 1036.1 L523.3 1033.4 L525.3 1032.7 L527.3 1034.3 L529.2 1034.0 L531.2 1033.3 L533.1 1031.7 L535.1 1033.1 L537.0 1030.6 L539.0 1031.0 L540.9 1030.2 L542.9 1030.1 L544.8 1030.7 L546.7 1028.8 L548.6 1029.4 L550.6 1028.9 L552.5 1026.2 L554.4 1026.1 L556.3 1026.2 L558.2 1025.4 L560.1 1025.5 L562.0 1022.9 L563.9 1024.6 L565.8 1024.0 L567.6 1022.5 L569.5 1020.7 L571.4 1021.3 L573.3 1020.1 L575.2 1020.5 L577.1 1019.2 L578.9 1019.3 L580.8 1017.6 L582.7 1018.6 L584.6 1014.5 L586.5 1015.0 L588.4 1015.7 L590.3 1013.3 L592.1 1014.6 L594.0 1012.2 L595.9 1012.6 L597.8 1011.0 L599.6 1010.7 L601.5 1010.5 L603.3 1009.5 L605.2 1008.4 L607.0 1009.9 L608.8 1007.2 L610.6 1005.5 L612.4 1006.3 L614.2 1005.3 L616.0 1004.8 L617.8 1004.5 L619.6 1001.1 L621.4 1002.0 L623.2 1001.2 L625.0 999.2 L626.7 998.5 L628.5 994.7 L630.3 995.9 L632.0 997.1 L633.8 993.0 L635.6 993.2 L637.4 993.0 L639.1 992.3 L640.9 992.4 L642.7 988.4 L644.5 989.1 L646.2 988.9 L648.0 986.0 L649.8 986.3 L651.6 987.1 L653.4 985.7 L655.2 984.1 L657.0 980.4 L658.8 981.8 L660.6 981.4 L662.4 979.9 L664.2 979.3 L666.0 981.3 L667.9 977.6 L669.7 976.1 L671.5 976.4 L673.4 975.1 L675.2 974.3 L677.1 973.8 L678.9 973.8 L680.8 972.6 L682.6 970.5 L684.5 970.8 L686.4 970.6 L688.2 969.0 L690.1 969.7 L692.0 968.7 L693.8 966.4 L695.7 966.8 L697.6 967.6 L699.4 966.5 L701.3 964.4 L703.2 964.5 L705.0 962.4 L706.9 961.0 L708.8 962.0 L710.6 961.0 L712.5 960.5 L714.4 959.3 L716.2 958.9 L718.1 957.4 L719.9 957.5 L721.8 957.1 L723.6 955.5 L725.4 955.5 L727.3 952.4 L729.1 952.5 L731.0 953.8 L732.8 953.3 L734.7 951.2 L736.5 950.1 L738.4 948.3 L740.3 949.0 L742.1 948.7 L744.0 945.9 L745.8 946.9 L747.6 946.1 L749.5 945.2 L751.3 943.0 L753.1 943.7 L754.9 941.0 L756.7 942.8 L758.5 940.6 L760.2 938.5 L762.0 939.8 L763.7 938.6 L765.4 936.0 L767.1 937.5 L768.8 933.5 L770.5 933.6 L772.1 933.2 L773.7 928.9 L775.3 930.7 L776.9 928.5 L778.4 927.3 L780.0 925.1 L781.5 925.1 L783.0 922.5 L784.6 921.3 L786.0 920.4 L787.5 918.4 L789.0 919.5 L790.5 915.6 L791.9 914.7 L793.3 913.7 L794.8 912.6 L796.2 911.9 L797.6 910.5 L799.0 908.1 L800.4 906.6 L801.8 905.5 L803.2 904.8 L804.6 903.2 L805.9 900.7 L807.3 897.8 L808.7 900.1 L810.0 897.6 L811.4 895.5 L812.7 894.1 L814.1 891.8 L815.4 889.9 L816.7 889.0 L818.0 887.6 L819.3 885.7 L820.6 883.4 L821.9 882.9 L823.2 882.2 L824.4 879.7 L825.7 878.6 L826.9 875.1 L828.1 875.2 L829.4 873.7 L830.6 871.1 L831.8 869.1 L833.0 869.4 L834.1 866.7 L835.3 866.2 L836.5 863.8 L837.6 863.1 L838.8 860.6 L839.9 857.9 L841.0 857.5 L842.1 855.6 L843.2 854.8 L844.3 852.1 L845.3 850.5 L846.4 849.9 L847.4 848.5 L848.4 846.4 L849.3 844.9 L850.3 842.6 L851.2 841.1 L852.2 839.4 L853.1 837.2 L854.1 835.2 L855.0 833.5 L856.0 833.8 L856.9 829.9 L857.9 827.9 L858.9 826.1 L860.0 824.6 L861.0 823.2 L862.1 820.3 L863.2 817.9 L864.3 818.2 L865.5 814.9 L866.6 814.9 L867.8 813.2 L868.9 812.5 L870.1 811.3 L871.2 808.5 L872.4 806.0 L873.5 803.8 L874.7 802.5 L875.8 801.6 L876.9 798.0 L878.0 798.3 L879.0 796.5 L880.1 795.4 L881.2 792.8 L882.2 791.5 L883.3 789.1 L884.3 787.6 L885.3 784.7 L886.4 784.7 L887.4 784.3 L888.4 781.3 L889.5 779.8 L890.5 776.9 L891.5 777.3 L892.6 773.6 L893.6 773.3 L894.6 771.0 L895.7 768.3 L896.7 768.4 L897.7 765.8 L898.8 764.2 L899.8 762.8 L900.9 760.7 L902.0 758.6 L903.0 757.7 L904.1 755.3 L905.2 754.0 L906.3 751.7 L907.4 749.3 L908.6 748.4 L909.7 746.9 L910.8 745.7 L912.0 745.1 L913.1 740.9 L914.3 740.9 L915.4 737.1 L916.5 736.5 L917.6 735.3 L918.8 732.1 L919.9 730.8 L920.9 730.9 L922.0 729.2 L923.1 727.3 L924.1 725.0 L925.1 725.9 L926.1 722.1 L927.1 719.7 L928.1 720.2 L929.0 717.5 L930.0 714.9 L930.9 714.5 L931.8 711.8 L932.7 710.5 L933.6 708.3 L934.5 705.4 L935.4 705.4 L936.3 702.9 L937.1 700.0 L938.0 698.4 L938.9 698.2 L939.7 695.2 L940.6 693.7 L941.5 692.5 L942.3 690.2 L943.2 686.9 L944.1 687.1 L944.9 685.5 L945.8 683.7 L946.7 682.5 L947.5 679.6 L948.4 678.2 L949.2 677.1 L950.1 673.6 L950.9 673.6 L951.8 671.8 L952.6 669.1 L953.4 668.3 L954.3 665.6 L955.2 662.2 L956.0 662.2 L956.9 659.7 L957.8 658.0 L958.8 656.0 L959.7 655.3 L960.7 652.8 L961.7 650.0 L962.7 649.3 L963.7 647.8 L964.7 644.8 L965.8 643.3 L966.8 641.7 L967.9 639.8 L969.0 639.0 L970.1 637.9 L971.2 637.0 L972.3 634.7 L973.5 633.0 L974.7 631.5 L975.9 630.0 L977.1 626.9 L978.4 626.4 L979.7 624.5 L981.0 622.6 L982.3 620.8 L983.7 619.3 L985.1 618.1 L986.5 615.8 L987.9 616.0 L989.4 614.2 L990.9 613.0 L992.5 612.0 L994.1 611.1 L995.7 608.8 L997.4 608.1 L999.1 605.8 L1000.8 604.2 L1002.6 603.6 L1004.4 605.9 L1006.2 602.1 L1008.1 603.5 L1010.0 603.9 L1011.9 601.7 L1013.8 603.4 L1015.7 603.6 L1017.6 603.0 L1019.5 604.7 L1021.3 603.7 L1023.1 603.3 L1024.8 605.5 L1026.4 605.7 L1027.9 606.2 L1029.4 607.5 L1030.9 612.1 L1032.3 610.9 L1033.7 612.8 L1035.1 613.7 L1036.5 615.8 L1037.9 616.9 L1039.2 618.3 L1040.6 619.0 L1041.9 620.3 L1043.2 622.5 L1044.4 625.0 L1045.7 628.1 L1046.9 628.8 L1048.1 631.1 L1049.3 631.5 L1050.5 632.6 L1051.7 633.1 L1052.8 635.9 L1054.0 635.6 L1055.1 638.9 L1056.3 642.3 L1057.4 642.8 L1058.5 645.1 L1059.6 645.4 L1060.7 646.2 L1061.8 648.7 L1062.9 650.4 L1064.0 653.5 L1065.1 655.9 L1066.2 655.2 L1067.2 657.2 L1068.3 659.1 L1069.3 660.6 L1070.3 661.5 L1071.4 664.5 L1072.4 666.4 L1073.4 668.2 L1074.5 668.4 L1075.5 671.1 L1076.5 671.4 L1077.5 675.5 L1078.5 675.5 L1079.6 677.9 L1080.6 679.5 L1081.6 681.1 L1082.5 682.4 L1083.5 683.5 L1084.5 688.4 L1085.5 688.8 L1086.5 690.5 L1087.4 693.9 L1088.4 693.7 L1089.4 696.0 L1090.4 697.3 L1091.4 700.1 L1092.3 701.2 L1093.3 702.8 L1094.3 704.0 L1095.3 706.2 L1096.4 708.7 L1097.4 707.5 L1098.4 711.0 L1099.5 712.4 L1100.5 714.2 L1101.6 714.4 L1102.7 718.5 L1103.8 718.8 L1104.9 721.0 L1106.0 722.4 L1107.2 723.0 L1108.4 725.7 L1109.6 726.0 L1110.9 728.4 L1112.2 730.5 L1113.5 732.3 L1114.8 733.8 L1116.1 735.1 L1117.5 738.6 L1118.9 738.5 L1120.3 738.5 L1121.7 740.4 L1123.2 741.8 L1124.6 743.5 L1126.1 744.5 L1127.6 745.5 L1129.2 749.0 L1130.8 748.8 L1132.4 749.6 L1134.1 750.8 L1135.8 751.9 L1137.5 754.4 L1139.2 754.5 L1141.0 756.0 L1142.8 753.0 L1144.6 756.9 L1146.5 758.3 L1148.4 759.8 L1150.2 758.7 L1152.2 757.7 L1154.1 760.3 L1156.0 759.7 L1158.0 759.1 L1159.9 760.5 L1161.9 762.2 L1163.9 762.6 L1165.9 762.3 L1167.9 760.7 L1169.9 763.9 L1171.8 760.5 L1173.8 761.3 L1175.8 759.9 L1177.8 762.1 L1179.8 761.0 L1181.7 761.1 L1183.7 759.9 L1185.6 759.3 L1187.6 759.1 L1189.5 756.6 L1191.4 758.6 L1193.3 757.9 L1195.1 756.0 L1197.0 755.6 L1198.8 755.0 L1200.6 755.3 L1202.3 753.3 L1204.1 752.0 L1205.8 750.5 L1207.4 748.5 L1209.1 748.2 L1210.8 747.7 L1212.4 746.3 L1214.0 745.4 L1215.6 744.8 L1217.2 743.3 L1218.8 742.0 L1220.4 741.1 L1222.0 739.4 L1223.5 737.9 L1225.0 737.1 L1226.5 733.8 L1228.0 735.2 L1229.5 731.5 L1231.0 732.1 L1232.4 730.0 L1233.9 729.6 L1235.3 727.2 L1236.7 724.9 L1238.1 725.3 L1239.5 723.1 L1240.9 721.6 L1242.3 720.1 L1243.7 719.5 L1245.1 717.9 L1246.4 715.9 L1247.8 712.8 L1249.1 712.4 L1250.4 711.3 L1251.7 711.3 L1253.0 708.5 L1254.3 706.6 L1255.6 706.2 L1256.8 703.4 L1258.0 701.9 L1259.2 700.5 L1260.4 697.4 L1261.5 697.9 L1262.7 695.8 L1263.8 693.5 L1264.8 691.0 L1265.9 690.6 L1266.9 689.9 L1267.9 686.4 L1268.9 684.2 L1269.9 683.8 L1270.8 680.3 L1271.8 677.9 L1272.7 677.8 L1273.6 675.8 L1274.5 674.3 L1275.4 672.3 L1276.3 671.3 L1277.2 669.0 L1278.0 666.9 L1278.9 665.2 L1279.7 664.3 L1280.5 662.8 L1281.4 660.9 L1282.2 658.9 L1283.0 653.5 L1283.8 653.7 L1284.6 652.5 L1285.3 651.1 L1286.1 647.7 L1286.8 648.5 L1287.6 645.7 L1288.2 643.0 L1288.9 641.8 L1289.5 639.4 L1290.1 637.1 L1290.7 636.4 L1291.3 633.6 L1291.9 630.8 L1292.4 629.6 L1293.0 628.1 L1293.5 625.3 L1294.1 625.5 L1294.7 621.5 L1295.3 622.2 L1295.9 619.5 L1296.6 616.0 L1297.3 615.1 L1298.0 614.2 L1298.8 611.1 L1299.7 608.4 L1300.6 607.8 L1301.5 607.7 L1302.4 602.8 L1303.4 602.9 L1304.4 600.7 L1305.4 598.8 L1306.5 596.9 L1307.5 595.2 L1308.6 594.8 L1309.7 592.7 L1310.9 589.7 L1312.0 590.3 L1313.2 586.2 L1314.5 586.4 L1315.8 584.5 L1317.2 584.1 L1318.7 582.1 L1320.3 581.6 L1321.9 579.8 L1323.7 580.2 L1325.4 579.4 L1327.2 581.2 L1329.0 579.1 L1330.7 581.5 L1332.3 581.8 L1333.9 582.7 L1335.4 583.3 L1336.8 585.6 L1338.1 585.4 L1339.4 587.0 L1340.6 590.4 L1341.7 590.0 L1342.8 594.4 L1343.7 594.6 L1344.6 596.9 L1345.5 598.5 L1346.2 600.7 L1347.0 601.9 L1347.7 603.7 L1348.3 605.8 L1348.9 608.8 L1349.5 610.7 L1350.1 612.8 L1350.7 613.9 L1351.3 615.3 L1351.9 615.9 L1352.4 619.9 L1353.0 622.0 L1353.6 622.8 L1354.1 625.8 L1354.7 628.1 L1355.3 629.0 L1355.9 631.7 L1356.4 633.0 L1357.0 633.1 L1357.6 636.1 L1358.1 638.1 L1358.6 640.9 L1359.2 641.5 L1359.7 643.9 L1360.2 645.3 L1360.7 648.1 L1361.2 650.1 L1361.7 652.9 L1362.2 654.6 L1362.7 656.0 L1363.2 658.0 L1363.7 659.8 L1364.2 661.8 L1364.7 665.0 L1365.2 663.3 L1365.6 667.3 L1366.1 669.7 L1366.6 672.4 L1367.0 672.3 L1367.5 675.6 L1368.0 678.0 L1368.4 678.8 L1368.9 679.4 L1369.4 682.7 L1369.8 683.9 L1370.3 687.5 L1370.8 688.1 L1371.2 692.4 L1371.7 692.9 L1372.1 694.0 L1372.6 696.2 L1373.0 697.7 L1373.4 700.9 L1373.9 703.9 L1374.3 704.3 L1374.7 707.3 L1375.1 707.6 L1375.6 710.6 L1376.0 714.4 L1376.4 713.0 L1376.8 717.3 L1377.2 719.2 L1377.6 718.5 L1378.1 720.8 L1378.5 723.2 L1378.9 726.9 L1379.3 727.6 L1379.7 729.8 L1380.1 732.5 L1380.5 734.0 L1380.9 736.0 L1381.3 737.5 L1381.8 740.7 L1382.2 741.0 L1382.6 745.1 L1383.0 745.3 L1383.5 746.8 L1383.9 750.1 L1384.3 751.8 L1384.8 751.6 L1385.2 755.5 L1385.7 756.1 L1386.1 758.5 L1386.6 761.9 L1387.0 762.4 L1387.5 765.4 L1388.0 766.7 L1388.4 770.7 L1388.9 770.8 L1389.3 771.8 L1389.8 773.8 L1390.2 775.9 L1390.6 778.8 L1391.1 780.7 L1391.5 783.5 L1391.9 784.7 L1392.3 786.7 L1392.7 788.8 L1393.0 790.4 L1393.4 792.7 L1393.8 795.1 L1394.1 797.1 L1394.5 797.8 L1394.8 798.7 L1395.1 801.6 L1395.5 804.5 L1395.8 804.0 L1396.2 807.8 L1396.5 810.6 L1396.8 811.6 L1397.1 813.1 L1397.5 817.7 L1397.8 819.3 L1398.2 819.8 L1398.5 823.2 L1398.8 825.1 L1399.2 824.9 L1399.6 830.3 L1399.9 829.0 L1400.3 831.6 L1400.7 832.8 L1401.1 835.8 L1401.5 836.5 L1401.9 839.7 L1402.3 842.6 L1402.7 843.8 L1403.1 845.3 L1403.6 848.9 L1404.0 848.6 L1404.4 852.3 L1404.9 853.1 L1405.3 855.5 L1405.8 857.3 L1406.3 859.3 L1406.7 861.1 L1407.2 862.4 L1407.7 864.5 L1408.1 867.3 L1408.6 868.8 L1409.1 869.8 L1409.6 872.1 L1410.1 874.1 L1410.5 876.6 L1411.0 878.8 L1411.5 880.6 L1412.0 881.9 L1412.5 884.4 L1412.9 885.1 L1413.4 885.7 L1413.9 890.2 L1414.4 890.7 L1415.0 893.2 L1415.5 894.9 L1416.1 898.5 L1416.7 898.7 L1417.4 902.0 L1418.0 903.2 L1418.7 904.4 L1419.4 905.9 L1420.1 909.6 L1420.8 911.4 L1421.6 913.6 L1422.3 916.4 L1423.1 916.9 L1423.8 918.8 L1424.6 920.2 L1425.4 922.3 L1426.2 923.7 L1426.9 925.1 L1427.7 929.5 L1428.5 927.9 L1429.3 931.6 L1430.1 933.6 L1430.9 935.2 L1431.8 936.0 L1432.6 938.5 L1433.4 940.1 L1434.3 941.3 L1435.1 944.1 L1435.9 945.6 L1436.8 947.2 L1437.6 950.2 L1438.5 950.4 L1439.4 953.5 L1440.2 954.4 L1441.1 957.2 L1441.9 958.6 L1442.8 960.6 L1443.6 961.3 L1444.5 963.3 L1445.3 965.0 L1446.2 967.8 L1447.1 970.1 L1448.0 972.2 L1448.9 972.5 L1449.9 974.8 L1450.9 975.0 L1451.9 976.1 L1453.0 979.0 L1454.1 980.9 L1455.2 981.7 L1456.4 983.1 L1457.6 986.8 L1458.8 987.2 L1460.1 988.0 L1461.3 993.1 L1462.6 992.7 L1463.9 993.8 L1465.3 996.1 L1466.6 996.3 L1468.0 999.9 L1469.4 998.5 L1470.8 1000.2 L1472.2 1002.6 L1473.6 1003.5 L1475.1 1006.8 L1476.5 1005.5 L1478.0 1007.6 L1479.5 1009.8 L1481.0 1011.4 L1482.6 1013.0 L1484.1 1013.7 L1485.7 1016.6 L1487.3 1015.4 L1488.9 1017.2 L1490.5 1018.9 L1492.2 1019.0 L1493.9 1020.1 L1495.6 1021.0 L1497.3 1021.9 L1499.0 1022.5 L1500.7 1024.0 L1502.5 1024.0 L1504.2 1026.7 L1506.0 1025.9 L1507.8 1030.1 L1509.6 1030.6 L1511.4 1031.0 L1513.2 1030.7 L1515.0 1031.2 L1516.8 1033.7 L1518.6 1033.5 L1520.4 1034.7 L1522.3 1034.3 L1524.2 1036.6 L1526.0 1035.7 L1527.9 1037.2 L1529.8 1036.2 L1531.7 1037.8 L1533.6 1039.4 L1535.5 1039.2 L1537.4 1039.8 L1539.3 1041.4 L1541.2 1041.2 L1543.2 1042.9 L1545.1 1040.1 L1547.0 1043.3 L1549.0 1043.7 L1550.9 1042.4 L1552.9 1043.0 L1554.8 1045.4 L1556.8 1044.1 L1558.7 1045.0 L1560.7 1046.5 L1562.6 1046.1 L1564.6 1047.2 L1566.6 1046.4 L1568.5 1047.8 L1570.5 1048.9 L1572.5 1048.5 L1574.4 1046.6 L1576.4 1049.5 L1578.4 1049.3 L1580.3 1048.8 L1582.3 1051.1 L1584.3 1048.6 L1586.3 1052.2 L1588.3 1050.2 L1590.2 1052.5 L1592.2 1051.3 L1594.2 1050.4 L1596.2 1051.9 L1598.2 1052.4 L1600.1 1052.9 L1602.1 1053.6 L1604.1 1052.1 L1606.1 1053.6 L1608.1 1054.1 L1610.1 1053.4 L1612.0 1053.1 L1614.0 1053.3 L1616.0 1055.1 L1618.0 1055.4 L1620.0 1054.2 L1622.0 1054.0 L1623.9 1056.5 L1625.9 1054.3 L1627.9 1056.1 L1629.9 1055.4 L1631.9 1054.8 L1633.9 1056.7 L1635.9 1056.7 L1637.8 1058.4 L1639.8 1059.3 L1641.8 1057.3 L1643.8 1058.6 L1645.8 1058.8 L1647.8 1057.5 L1649.8 1057.3 L1651.8 1059.7 L1653.8 1058.0 L1655.8 1058.4 L1657.8 1058.2 L1659.8 1058.4 L1661.8 1058.0 L1663.8 1059.2 L1665.8 1059.6 L1667.8 1058.1 L1669.8 1057.2 L1671.8 1058.4 L1673.8 1056.9 L1675.8 1057.6 L1677.8 1059.1 L1679.8 1060.0 L1681.8 1058.1 L1683.8 1056.7 L1685.8 1058.2 L1687.8 1055.3 L1689.7 1056.6 L1691.7 1058.4 L1693.7 1057.6 L1695.7 1055.5 L1697.7 1055.2 L1699.7 1057.3 L1701.7 1056.4 L1703.7 1055.8 L1705.7 1056.6 L1707.7 1055.6 L1709.7 1054.2 L1711.7 1056.6 L1713.7 1055.2 L1715.7 1054.7 L1717.7 1054.3 L1719.7 1055.6 L1721.7 1054.5 L1723.7 1055.7 L1725.7 1054.8 L1727.7 1055.9 L1729.7 1054.4 L1731.7 1054.1 L1733.7 1052.8 L1735.7 1053.5 L1737.7 1055.0 L1739.7 1057.0 L1741.7 1053.1 L1743.7 1053.2 L1745.7 1054.4 L1747.7 1054.5 L1749.7 1053.4 L1751.7 1054.0 L1753.7 1052.5 L1755.7 1053.6 L1757.7 1054.7 L1759.7 1055.3 L1761.7 1053.7 L1763.7 1053.6 L1765.7 1054.3 L1767.7 1054.9 L1769.7 1054.4 L1771.7 1053.3 L1773.7 1054.4 L1775.7 1055.0 L1777.6 1053.5 L1779.6 1053.0 L1781.6 1054.7 L1783.6 1054.7 L1785.6 1055.3 L1787.6 1054.6 L1789.6 1054.0 L1791.6 1054.2 L1793.6 1053.8 L1795.6 1053.9 L1797.6 1054.4 L1799.6 1054.5 L1801.6 1056.0 L1803.6 1054.0 L1805.6 1055.2 L1807.6 1054.7 L1809.6 1056.7 L1811.6 1055.7 L1813.6 1055.2 L1815.6 1056.3 L1817.6 1055.7 L1819.6 1055.3 L1821.6 1057.2 L1823.6 1056.6 L1825.6 1057.6 L1827.6 1057.1 L1829.6 1056.8 L1831.6 1056.3 L1833.6 1055.3 L1835.6 1057.0 L1837.6 1056.5 L1839.6 1057.1 L1841.6 1056.5 L1843.6 1056.0 L1845.6 1055.7 L1847.6 1057.3 L1849.6 1057.9 L1851.6 1056.5 L1853.6 1057.2 L1855.6 1058.0 L1857.6 1056.1 L1859.6 1056.5 L1861.6 1055.8 L1863.6 1057.9 L1865.6 1057.1 L1867.6 1056.4 L1869.6 1055.3 L1871.6 1056.6 L1873.6 1057.6 L1875.6 1056.4 L1877.6 1056.2 L1879.6 1057.0 L1881.6 1055.3 L1883.6 1056.3 L1885.6 1056.7 L1887.6 1055.3 L1889.6 1055.2 L1891.6 1056.0 L1893.6 1055.5 L1895.6 1055.3 L1897.6 1055.5 L1899.5 1055.3 L1901.5 1054.1 L1903.5 1054.2 L1905.5 1055.0 L1907.5 1055.4 L1909.5 1055.4 L1911.5 1053.3 L1913.5 1054.8 L1915.5 1054.3 L1917.5 1053.5 L1919.5 1053.7 L1921.5 1053.8 L1923.4 1054.5 L1925.4 1051.8 L1927.4 1053.1 L1929.4 1052.3 L1931.4 1052.1 L1933.4 1053.1 L1935.4 1052.7 L1937.4 1050.9 L1939.4 1051.4 L1941.4 1051.8 L1943.4 1050.2 L1945.4 1052.1 L1947.4 1051.2 L1949.4 1051.3 L1951.4 1051.4 L1953.4 1052.7 L1955.4 1051.1 L1957.4 1050.7 L1959.4 1052.6 L1961.4 1050.6 L1963.4 1050.6 L1965.4 1049.9 L1967.4 1052.1 L1969.4 1051.5 L1971.4 1051.7 L1973.4 1051.5 L1975.4 1051.3 L1977.4 1050.9 L1979.4 1051.0 L1981.4 1052.2 L1983.4 1052.1 L1985.3 1053.6 L1987.3 1051.6 L1989.3 1052.0 L1991.3 1051.7 L1993.3 1054.0 L1995.3 1051.8 L1997.3 1053.8 L1999.3 1054.5 L2001.3 1053.3 L2003.3 1054.3 L2005.3 1051.9 L2007.3 1053.6 L2009.3 1052.7 L2011.2 1054.5 L2013.2 1054.5 L2015.2 1054.0 L2017.2 1055.7 L2019.2 1055.4 L2021.2 1054.7 L2023.2 1054.9 L2025.2 1054.2 L2027.2 1055.5 L2029.2 1057.7 L2031.2 1055.3 L2033.2 1056.5 L2035.2 1055.7 L2037.2 1057.1 L2039.2 1056.8 L2041.2 1056.3 L2043.2 1055.1 L2045.2 1056.3 L2047.2 1057.9 L2049.2 1056.7 L2051.2 1057.5 L2053.2 1056.6 L2055.2 1055.4 L2057.2 1057.5 L2059.2 1057.5 L2061.2 1056.7 L2063.2 1057.0 L2065.2 1057.6 L2067.2 1056.9 L2069.1 1057.7 L2071.1 1057.3 L2073.1 1055.4 L2075.1 1057.4 L2077.1 1057.0 L2079.1 1056.9 L2081.1 1058.0 L2083.1 1057.2 L2085.1 1058.2 L2087.1 1058.7 L2089.1 1057.9 L2091.1 1056.4 L2093.1 1057.1 L2095.1 1058.6 L2097.1 1057.6 L2099.1 1057.1 L2101.1 1057.8 L2103.1 1058.3 L2105.1 1058.1 L2107.1 1058.5 L2109.1 1057.2 L2111.1 1057.7 L2113.1 1057.8 L2115.1 1058.0 L2117.1 1056.1 L2119.1 1057.8 L2121.1 1056.8 L2123.1 1059.3 L2125.1 1059.4 L2127.1 1059.6 L2129.1 1058.8 L2131.1 1057.6 L2133.1 1058.9 L2135.1 1057.9 L2137.1 1058.6 L2139.1 1057.3 L2141.1 1057.6 L2143.1 1058.5 L2145.1 1059.7 L2147.1 1058.1 L2149.1 1060.1 L2151.1 1060.6 L2153.1 1057.0 L2155.1 1058.1 L2157.1 1057.3 L2159.1 1058.0 L2161.1 1057.7 L2163.1 1058.1 L2165.0 1059.0 L2166.9 1059.0 L2168.5 1058.4 L2170.0 1058.2 L2171.0 1058.3"/>
<path stroke="#000080" d="M229.0 1151.8 L230.1 1152.1 L231.6 1151.5 L233.3 1151.9 L235.1 1150.2 L237.0 1151.9 L239.0 1152.7 L241.0 1151.1 L243.0 1149.6 L245.0 1151.9 L247.0 1150.3 L249.0 1147.8 L251.0 1150.1 L253.0 1150.8 L254.9 1150.4 L256.9 1151.1 L258.9 1150.4 L260.9 1149.9 L262.9 1148.0 L264.9 1148.7 L266.9 1149.8 L268.9 1150.2 L270.9 1148.6 L272.9 1149.0 L274.9 1149.9 L276.9 1147.8 L278.9 1147.9 L280.9 1149.4 L282.9 1150.0 L284.9 1149.4 L286.9 1147.9 L288.9 1150.1 L290.9 1149.1 L292.9 1151.0 L294.9 1150.6 L296.9 1151.1 L298.9 1151.6 L300.9 1150.8 L302.8 1152.2 L304.8 1152.8 L306.8 1152.3 L308.8 1153.3 L310.8 1151.8 L312.8 1153.4 L314.8 1153.0 L316.8 1152.1 L318.8 1153.1 L320.7 1152.9 L322.7 1153.0 L324.7 1153.7 L326.7 1154.7 L328.7 1153.6 L330.7 1154.1 L332.7 1152.7 L334.7 1154.1 L336.7 1155.0 L338.7 1154.7 L340.7 1154.3 L342.7 1153.3 L344.7 1152.8 L346.7 1153.5 L348.7 1152.2 L350.7 1152.2 L352.7 1153.9 L354.7 1152.1 L356.7 1154.3 L358.6 1151.2 L360.6 1152.6 L362.6 1150.9 L364.6 1151.9 L366.6 1150.5 L368.6 1151.2 L370.6 1150.8 L372.5 1150.3 L374.5 1150.9 L376.5 1151.5 L378.5 1149.4 L380.5 1150.5 L382.5 1149.6 L384.5 1149.2 L386.4 1151.0 L388.4 1146.9 L390.4 1148.0 L392.4 1146.7 L394.4 1147.9 L396.4 1147.7 L398.4 1151.1 L400.4 1147.8 L402.3 1148.8 L404.3 1148.2 L406.3 1146.4 L408.3 1146.9 L410.3 1147.8 L412.3 1146.2 L414.2 1145.9 L416.2 1145.9 L418.2 1143.9 L420.2 1144.2 L422.2 1145.0 L424.1 1144.8 L426.1 1143.2 L428.1 1143.5 L430.1 1143.3 L432.0 1143.0 L434.0 1143.4 L436.0 1142.5 L438.0 1142.2 L439.9 1140.4 L441.9 1140.4 L443.9 1141.2 L445.8 1139.1 L447.8 1140.4 L449.7 1139.2 L451.7 1138.7 L453.7 1139.6 L455.6 1138.0 L457.6 1137.4 L459.5 1137.2 L461.5 1137.4 L463.4 1139.4 L465.4 1134.6 L467.3 1136.0 L469.3 1135.4 L471.3 1136.0 L473.2 1134.4 L475.2 1132.1 L477.1 1135.1 L479.1 1132.5 L481.0 1132.9 L483.0 1131.3 L484.9 1131.1 L486.8 1131.2 L488.8 1131.9 L490.7 1131.4 L492.7 1129.7 L494.6 1130.2 L496.6 1128.9 L498.5 1128.9 L500.4 1128.4 L502.4 1128.3 L504.3 1126.7 L506.3 1126.7 L508.2 1126.5 L510.1 1125.8 L512.1 1124.5 L514.0 1126.3 L515.9 1123.8 L517.9 1124.4 L519.8 1123.4 L521.7 1123.8 L523.6 1120.2 L525.6 1123.4 L527.5 1120.9 L529.4 1119.4 L531.4 1120.1 L533.3 1121.5 L535.2 1119.4 L537.1 1117.3 L539.1 1117.5 L541.0 1118.5 L542.9 1115.5 L544.8 1116.1 L546.8 1115.4 L548.7 1117.0 L550.6 1114.3 L552.5 1115.1 L554.4 1112.7 L556.3 1112.0 L558.2 1113.0 L560.1 1112.0 L562.0 1109.3 L563.9 1110.7 L565.8 1110.1 L567.7 1108.3 L569.5 1108.3 L571.4 1107.6 L573.3 1106.2 L575.1 1105.4 L577.0 1104.6 L578.8 1104.2 L580.7 1102.4 L582.5 1102.8 L584.3 1100.7 L586.2 1101.3 L588.0 1100.3 L589.8 1098.7 L591.6 1099.5 L593.4 1099.6 L595.2 1098.2 L597.0 1094.9 L598.8 1096.4 L600.6 1094.5 L602.4 1093.4 L604.1 1092.0 L605.9 1091.6 L607.7 1091.9 L609.4 1090.2 L611.2 1088.3 L612.9 1087.1 L614.7 1086.4 L616.4 1086.3 L618.1 1086.4 L619.9 1082.8 L621.6 1082.7 L623.3 1081.3 L625.0 1080.0 L626.7 1080.0 L628.4 1079.0 L630.1 1076.2 L631.8 1075.5 L633.5 1076.5 L635.2 1074.6 L636.9 1073.8 L638.6 1071.8 L640.3 1070.8 L642.0 1070.5 L643.7 1068.6 L645.4 1067.0 L647.1 1066.9 L648.8 1066.7 L650.5 1063.9 L652.2 1064.7 L653.9 1063.4 L655.6 1061.0 L657.3 1060.7 L659.1 1059.6 L660.8 1059.2 L662.5 1058.2 L664.2 1055.5 L666.0 1054.4 L667.7 1055.6 L669.4 1053.8 L671.2 1053.1 L672.9 1052.0 L674.7 1052.1 L676.4 1048.7 L678.2 1049.8 L680.0 1047.1 L681.7 1047.6 L683.5 1047.2 L685.2 1043.8 L687.0 1044.5 L688.8 1042.9 L690.5 1042.0 L692.3 1041.3 L694.1 1039.4 L695.8 1038.5 L697.6 1039.0 L699.4 1038.3 L701.1 1036.1 L702.9 1034.3 L704.7 1036.7 L706.4 1034.7 L708.2 1033.1 L709.9 1030.9 L711.7 1030.3 L713.4 1030.1 L715.2 1028.0 L716.9 1029.3 L718.6 1027.0 L720.4 1026.2 L722.1 1023.9 L723.8 1023.0 L725.5 1022.1 L727.2 1022.0 L728.9 1020.5 L730.7 1019.5 L732.4 1019.0 L734.1 1017.9 L735.8 1018.0 L737.5 1015.4 L739.2 1013.7 L741.0 1013.5 L742.7 1013.8 L744.4 1011.0 L746.1 1010.4 L747.7 1009.0 L749.4 1008.6 L751.1 1007.4 L752.8 1005.3 L754.4 1004.7 L756.1 1004.6 L757.7 1003.6 L759.3 1002.3 L760.9 1001.0 L762.5 998.8 L764.1 997.5 L765.6 997.4 L767.1 994.2 L768.7 993.9 L770.1 991.0 L771.6 990.9 L773.0 989.2 L774.4 987.4 L775.8 987.5 L777.2 984.9 L778.5 983.7 L779.8 982.3 L781.1 980.3 L782.4 980.7 L783.6 977.5 L784.9 976.5 L786.1 973.6 L787.4 972.8 L788.6 971.3 L789.8 969.7 L791.0 967.9 L792.2 966.9 L793.4 966.6 L794.6 963.5 L795.8 961.9 L797.0 960.1 L798.2 961.1 L799.4 958.7 L800.6 956.1 L801.8 954.7 L803.0 951.8 L804.2 950.7 L805.4 949.4 L806.6 947.7 L807.8 945.3 L809.0 943.7 L810.1 943.2 L811.3 941.4 L812.5 937.7 L813.6 938.0 L814.8 937.4 L815.9 934.1 L817.1 933.2 L818.2 930.1 L819.4 930.4 L820.5 927.1 L821.6 925.3 L822.8 924.5 L823.9 925.2 L825.1 921.0 L826.2 918.7 L827.3 918.6 L828.4 916.7 L829.6 916.3 L830.7 912.1 L831.8 910.1 L832.9 909.6 L834.0 908.5 L835.1 906.8 L836.1 905.8 L837.2 901.8 L838.3 900.7 L839.4 899.7 L840.4 898.8 L841.5 896.8 L842.6 894.3 L843.6 892.1 L844.7 892.1 L845.8 890.5 L846.8 890.3 L847.9 886.1 L849.0 886.0 L850.1 881.8 L851.2 880.8 L852.3 879.0 L853.4 877.5 L854.6 875.5 L855.7 874.2 L856.9 873.0 L858.2 871.2 L859.5 870.7 L860.9 868.6 L862.3 867.2 L863.6 867.1 L865.0 864.6 L866.2 863.0 L867.4 861.2 L868.6 859.7 L869.7 858.5 L870.7 855.6 L871.8 855.6 L872.8 854.2 L873.8 852.2 L874.9 849.0 L875.9 846.3 L876.9 845.6 L877.9 844.4 L878.9 843.3 L880.0 840.7 L881.0 838.8 L882.0 838.7 L883.1 835.1 L884.2 834.9 L885.2 833.1 L886.3 829.4 L887.3 829.2 L888.4 826.7 L889.5 824.7 L890.5 822.2 L891.6 820.8 L892.6 820.8 L893.7 818.4 L894.7 817.3 L895.8 814.4 L896.8 813.3 L897.8 811.6 L898.8 808.8 L899.9 807.0 L900.9 807.1 L901.9 805.1 L902.9 802.4 L903.8 801.4 L904.8 800.4 L905.8 799.6 L906.8 795.5 L907.8 795.1 L908.7 794.7 L909.7 791.1 L910.6 790.6 L911.6 785.2 L912.6 787.0 L913.5 784.0 L914.5 780.6 L915.5 781.2 L916.4 779.7 L917.4 778.1 L918.3 776.3 L919.3 773.5 L920.3 771.1 L921.3 769.6 L922.3 768.2 L923.2 766.9 L924.2 764.4 L925.2 763.1 L926.2 762.1 L927.2 759.9 L928.2 759.9 L929.2 758.0 L930.2 753.4 L931.2 752.1 L932.1 749.7 L933.1 748.1 L934.1 747.9 L935.0 744.7 L936.0 742.9 L936.9 741.9 L937.8 741.0 L938.7 738.2 L939.6 736.4 L940.5 735.8 L941.3 733.6 L942.2 731.7 L943.0 730.3 L943.8 726.8 L944.6 726.0 L945.3 723.4 L946.1 723.0 L946.9 721.0 L947.6 717.5 L948.4 717.8 L949.2 713.7 L949.9 713.9 L950.7 711.2 L951.5 708.4 L952.3 706.4 L953.1 705.3 L954.0 703.7 L954.9 701.3 L955.8 700.7 L956.7 697.2 L957.7 696.7 L958.7 694.9 L959.7 691.6 L960.8 691.8 L961.9 688.8 L963.0 686.0 L964.2 686.1 L965.4 684.8 L966.6 684.2 L967.9 681.5 L969.2 681.7 L970.5 680.1 L971.8 678.3 L973.2 677.1 L974.6 674.8 L976.0 672.6 L977.4 672.3 L978.9 671.2 L980.4 669.2 L981.9 667.5 L983.4 665.0 L984.9 665.7 L986.5 664.2 L988.1 661.5 L989.7 661.6 L991.4 661.1 L993.1 659.4 L994.9 659.4 L996.7 658.7 L998.6 656.3 L1000.4 657.2 L1002.3 658.0 L1004.2 658.7 L1006.0 659.7 L1007.8 657.5 L1009.5 660.0 L1011.2 661.8 L1012.9 663.3 L1014.4 664.9 L1016.0 663.8 L1017.5 665.6 L1019.0 666.3 L1020.5 669.4 L1021.9 668.8 L1023.3 672.5 L1024.7 673.7 L1026.0 674.8 L1027.3 674.0 L1028.6 676.9 L1029.8 679.7 L1031.0 679.4 L1032.3 682.0 L1033.4 683.7 L1034.6 686.2 L1035.8 687.3 L1036.9 688.9 L1038.1 690.0 L1039.2 692.0 L1040.3 693.6 L1041.3 696.0 L1042.4 696.9 L1043.4 699.7 L1044.5 699.0 L1045.5 703.3 L1046.4 703.8 L1047.4 706.7 L1048.4 707.5 L1049.4 709.9 L1050.4 712.3 L1051.3 712.2 L1052.3 714.5 L1053.3 716.0 L1054.3 718.1 L1055.3 718.2 L1056.4 721.2 L1057.4 722.8 L1058.5 724.0 L1059.5 726.2 L1060.6 726.7 L1061.7 731.0 L1062.8 731.8 L1063.9 734.8 L1065.1 734.0 L1066.2 735.4 L1067.3 738.3 L1068.4 738.2 L1069.6 741.6 L1070.7 742.4 L1071.8 744.4 L1072.9 746.6 L1074.0 748.0 L1075.1 751.3 L1076.2 751.9 L1077.3 751.9 L1078.3 755.6 L1079.3 755.3 L1080.3 758.3 L1081.3 758.8 L1082.3 760.9 L1083.3 764.6 L1084.3 764.7 L1085.2 766.3 L1086.2 768.2 L1087.2 770.1 L1088.1 773.5 L1089.1 772.9 L1090.1 774.6 L1091.1 777.9 L1092.1 777.7 L1093.1 780.5 L1094.1 783.6 L1095.2 784.3 L1096.3 785.5 L1097.4 786.9 L1098.5 788.4 L1099.7 790.3 L1100.9 792.5 L1102.2 795.1 L1103.5 796.4 L1104.8 796.5 L1106.1 797.9 L1107.5 800.6 L1108.8 799.8 L1110.2 802.4 L1111.7 803.9 L1113.1 804.6 L1114.6 806.1 L1116.1 808.6 L1117.6 808.1 L1119.1 810.0 L1120.7 811.5 L1122.3 813.4 L1123.9 813.3 L1125.5 816.7 L1127.1 816.7 L1128.7 817.9 L1130.3 819.0 L1132.0 819.8 L1133.6 820.7 L1135.3 823.7 L1136.9 823.9 L1138.6 824.7 L1140.4 826.7 L1142.1 826.1 L1143.9 828.2 L1145.7 828.4 L1147.6 828.3 L1149.5 830.4 L1151.4 828.8 L1153.3 831.1 L1155.3 829.9 L1157.2 831.1 L1159.2 831.8 L1161.1 830.8 L1163.1 829.4 L1165.0 829.4 L1166.9 828.5 L1168.8 827.1 L1170.6 826.4 L1172.4 826.7 L1174.3 826.3 L1176.1 823.4 L1177.9 824.0 L1179.6 823.6 L1181.4 822.3 L1183.2 820.4 L1184.9 821.2 L1186.7 818.2 L1188.4 818.8 L1190.1 818.6 L1191.7 814.3 L1193.4 815.2 L1195.0 814.1 L1196.6 812.8 L1198.2 810.7 L1199.8 809.9 L1201.3 807.7 L1202.9 807.8 L1204.4 806.9 L1205.9 804.5 L1207.4 803.0 L1208.9 802.0 L1210.4 801.1 L1211.8 799.7 L1213.3 798.2 L1214.7 796.9 L1216.1 794.3 L1217.5 791.6 L1218.9 793.1 L1220.3 792.4 L1221.6 788.4 L1223.0 787.7 L1224.4 787.1 L1225.8 786.2 L1227.2 784.5 L1228.6 783.7 L1230.1 781.1 L1231.5 780.2 L1233.0 778.8 L1234.5 776.7 L1236.0 776.8 L1237.4 775.0 L1238.9 773.9 L1240.3 771.3 L1241.7 771.1 L1243.1 767.8 L1244.3 767.6 L1245.6 763.4 L1246.7 763.1 L1247.8 763.0 L1248.8 760.2 L1249.7 759.0 L1250.5 755.6 L1251.3 756.6 L1252.1 753.9 L1252.8 751.5 L1253.4 750.0 L1254.1 748.0 L1254.7 747.1 L1255.3 744.1 L1256.0 740.8 L1256.6 739.9 L1257.2 739.4 L1257.9 736.9 L1258.5 734.1 L1259.2 733.1 L1259.9 730.8 L1260.6 729.4 L1261.2 725.6 L1261.9 724.3 L1262.6 723.8 L1263.3 721.1 L1263.9 719.7 L1264.6 719.3 L1265.3 715.4 L1265.9 714.0 L1266.6 711.4 L1267.3 709.4 L1268.0 708.0 L1268.6 705.0 L1269.3 702.5 L1270.0 703.7 L1270.7 700.5 L1271.4 699.7 L1272.2 697.0 L1272.9 695.1 L1273.6 693.7 L1274.4 691.9 L1275.1 688.4 L1275.8 688.6 L1276.6 684.9 L1277.3 684.0 L1278.0 684.2 L1278.8 680.2 L1279.5 679.7 L1280.2 676.1 L1280.9 675.1 L1281.6 672.7 L1282.3 671.2 L1283.1 668.2 L1283.8 666.3 L1284.5 665.5 L1285.3 662.0 L1286.0 660.7 L1286.8 660.2 L1287.5 657.3 L1288.3 655.2 L1289.1 653.1 L1289.9 652.4 L1290.8 650.2 L1291.6 648.8 L1292.5 646.7 L1293.4 646.7 L1294.4 643.0 L1295.4 639.9 L1296.4 640.0 L1297.5 638.3 L1298.7 636.8 L1299.9 633.7 L1301.2 634.6 L1302.6 632.1 L1304.0 630.8 L1305.5 628.1 L1307.1 628.8 L1308.8 627.3 L1310.5 627.6 L1312.3 625.4 L1314.1 624.3 L1315.9 625.3 L1317.7 624.6 L1319.5 626.2 L1321.2 625.7 L1322.7 627.5 L1324.2 628.7 L1325.6 630.2 L1326.9 631.3 L1328.1 632.6 L1329.2 634.9 L1330.3 636.1 L1331.3 638.4 L1332.3 639.8 L1333.2 639.9 L1334.1 643.6 L1334.9 646.7 L1335.7 647.5 L1336.4 649.7 L1337.1 651.4 L1337.7 652.5 L1338.4 653.6 L1339.0 657.4 L1339.6 659.5 L1340.1 661.0 L1340.7 662.8 L1341.2 664.7 L1341.8 666.3 L1342.3 668.5 L1342.8 670.2 L1343.3 672.4 L1343.8 673.2 L1344.3 675.4 L1344.8 678.4 L1345.3 679.6 L1345.8 679.7 L1346.3 683.8 L1346.8 683.7 L1347.3 689.3 L1347.7 690.2 L1348.2 692.1 L1348.7 692.9 L1349.1 694.4 L1349.6 697.1 L1350.0 699.3 L1350.5 700.6 L1350.9 703.3 L1351.3 705.7 L1351.7 707.6 L1352.1 708.2 L1352.5 709.2 L1352.9 713.0 L1353.2 714.4 L1353.6 717.3 L1354.0 720.3 L1354.3 722.3 L1354.7 723.1 L1355.1 725.8 L1355.4 728.2 L1355.8 728.8 L1356.1 730.9 L1356.5 733.4 L1356.9 734.6 L1357.2 736.2 L1357.6 737.9 L1358.0 740.5 L1358.3 742.0 L1358.7 745.1 L1359.1 746.1 L1359.5 749.6 L1359.9 751.4 L1360.3 751.2 L1360.7 755.2 L1361.1 755.9 L1361.5 759.4 L1361.9 760.6 L1362.3 762.1 L1362.7 764.6 L1363.1 765.6 L1363.5 768.3 L1363.9 770.3 L1364.3 771.8 L1364.7 774.2 L1365.1 775.0 L1365.5 778.3 L1365.9 778.7 L1366.3 782.2 L1366.7 784.1 L1367.1 786.2 L1367.5 787.1 L1367.9 792.2 L1368.2 791.3 L1368.6 793.6 L1369.0 794.8 L1369.4 798.6 L1369.8 799.0 L1370.1 802.2 L1370.5 802.5 L1370.9 805.5 L1371.2 806.9 L1371.6 810.0 L1372.0 810.9 L1372.3 812.4 L1372.7 815.5 L1373.0 816.1 L1373.4 818.2 L1373.7 821.7 L1374.0 821.4 L1374.4 825.6 L1374.7 826.6 L1375.1 828.1 L1375.4 831.1 L1375.7 833.4 L1376.1 834.3 L1376.4 836.7 L1376.7 839.5 L1377.1 841.4 L1377.4 842.7 L1377.7 844.0 L1378.1 845.9 L1378.4 848.1 L1378.7 851.2 L1379.1 853.1 L1379.4 854.8 L1379.7 857.7 L1380.1 858.3 L1380.4 860.2 L1380.7 862.1 L1381.1 866.1 L1381.4 864.7 L1381.7 868.6 L1382.1 870.7 L1382.4 872.4 L1382.7 876.3 L1383.0 877.3 L1383.3 878.9 L1383.7 879.5 L1384.0 882.6 L1384.3 883.9 L1384.6 886.2 L1384.9 888.3 L1385.3 889.7 L1385.6 892.6 L1386.0 895.4 L1386.4 896.9 L1386.8 898.1 L1387.2 898.3 L1387.6 902.8 L1388.1 904.7 L1388.6 905.6 L1389.1 907.3 L1389.6 910.2 L1390.1 910.9 L1390.6 914.2 L1391.1 914.5 L1391.7 916.6 L1392.2 919.3 L1392.7 920.0 L1393.3 923.1 L1393.8 925.5 L1394.3 925.9 L1394.8 929.7 L1395.3 930.4 L1395.8 933.3 L1396.3 934.9 L1396.8 936.3 L1397.3 938.2 L1397.8 939.1 L1398.3 941.9 L1398.8 943.8 L1399.3 947.8 L1399.8 949.2 L1400.2 949.1 L1400.7 952.9 L1401.2 954.3 L1401.7 955.8 L1402.2 958.4 L1402.6 960.6 L1403.1 961.4 L1403.6 963.6 L1404.1 965.9 L1404.6 966.9 L1405.0 969.8 L1405.5 971.5 L1406.0 973.0 L1406.4 974.8 L1406.9 977.7 L1407.3 980.2 L1407.7 981.6 L1408.2 982.6 L1408.6 985.9 L1409.0 987.4 L1409.5 989.7 L1409.9 992.1 L1410.4 992.3 L1410.9 994.9 L1411.4 996.4 L1411.9 998.1 L1412.4 1002.5 L1413.0 1003.5 L1413.6 1003.1 L1414.2 1006.9 L1414.9 1007.9 L1415.6 1011.3 L1416.3 1012.2 L1417.0 1013.9 L1417.8 1016.0 L1418.6 1018.0 L1419.5 1019.5 L1420.3 1021.1 L1421.2 1023.0 L1422.1 1025.3 L1423.0 1025.7 L1423.8 1028.5 L1424.7 1030.2 L1425.6 1031.6 L1426.5 1034.5 L1427.4 1034.6 L1428.2 1037.1 L1429.1 1038.6 L1429.9 1041.5 L1430.7 1042.5 L1431.5 1044.8 L1432.3 1046.9 L1433.1 1047.1 L1433.9 1050.6 L1434.7 1051.5 L1435.5 1053.7 L1436.3 1055.6 L1437.2 1058.2 L1438.0 1060.0 L1438.9 1062.6 L1439.9 1063.1 L1440.8 1064.3 L1441.8 1066.0 L1442.9 1068.6 L1444.0 1071.1 L1445.1 1071.7 L1446.3 1072.5 L1447.4 1074.9 L1448.7 1076.4 L1449.9 1077.8 L1451.2 1078.7 L1452.5 1078.7 L1453.8 1081.9 L1455.1 1084.7 L1456.4 1085.5 L1457.8 1085.0 L1459.1 1088.3 L1460.5 1088.2 L1461.8 1092.9 L1463.2 1092.9 L1464.6 1093.2 L1465.9 1096.3 L1467.3 1096.4 L1468.8 1098.9 L1470.2 1099.9 L1471.6 1100.3 L1473.1 1103.2 L1474.6 1102.8 L1476.0 1106.4 L1477.6 1106.7 L1479.1 1107.0 L1480.6 1107.6 L1482.2 1111.8 L1483.8 1112.9 L1485.4 1111.8 L1487.0 1115.4 L1488.6 1115.3 L1490.3 1116.1 L1492.0 1117.3 L1493.7 1118.2 L1495.4 1120.6 L1497.2 1120.4 L1498.9 1119.7 L1500.7 1123.8 L1502.6 1123.6 L1504.4 1122.7 L1506.3 1124.1 L1508.1 1124.3 L1510.0 1125.8 L1511.9 1126.8 L1513.8 1127.3 L1515.7 1127.2 L1517.6 1127.7 L1519.5 1129.7 L1521.4 1129.5 L1523.3 1132.1 L1525.2 1130.2 L1527.1 1132.2 L1528.9 1132.3 L1530.8 1132.3 L1532.6 1134.9 L1534.5 1134.6 L1536.4 1134.4 L1538.2 1135.6 L1540.1 1137.4 L1542.0 1136.0 L1544.0 1138.7 L1545.9 1138.5 L1547.9 1138.1 L1549.8 1139.7 L1551.8 1140.3 L1553.8 1139.6 L1555.8 1139.4 L1557.8 1141.0 L1559.8 1140.9 L1561.8 1139.0 L1563.8 1139.8 L1565.8 1139.9 L1567.8 1139.9 L1569.8 1139.1 L1571.7 1141.3 L1573.7 1140.7 L1575.7 1140.9 L1577.7 1142.2 L1579.7 1140.7 L1581.7 1141.3 L1583.7 1141.7 L1585.7 1141.4 L1587.7 1141.8 L1589.7 1142.8 L1591.7 1142.4 L1593.6 1143.8 L1595.6 1142.3 L1597.6 1143.4 L1599.6 1142.4 L1601.5 1143.8 L1603.5 1143.6 L1605.5 1145.6 L1607.5 1145.4 L1609.4 1145.6 L1611.4 1147.0 L1613.4 1147.0 L1615.4 1146.7 L1617.3 1145.8 L1619.3 1145.5 L1621.3 1147.0 L1623.3 1147.0 L1625.2 1147.1 L1627.2 1147.7 L1629.2 1146.8 L1631.2 1149.7 L1633.2 1147.8 L1635.2 1148.4 L1637.1 1149.8 L1639.1 1148.1 L1641.1 1150.5 L1643.1 1150.8 L1645.1 1150.0 L1647.1 1149.6 L1649.0 1150.3 L1651.0 1149.4 L1653.0 1152.3 L1655.0 1151.4 L1657.0 1151.0 L1659.0 1151.0 L1661.0 1152.5 L1663.0 1153.5 L1665.0 1151.3 L1667.0 1152.1 L1668.9 1151.2 L1670.9 1153.5 L1672.9 1153.2 L1674.9 1155.1 L1676.9 1153.2 L1678.9 1153.1 L1680.9 1152.9 L1682.9 1154.4 L1684.9 1152.3 L1686.9 1154.4 L1688.9 1154.1 L1690.9 1153.5 L1692.9 1153.2 L1694.9 1154.9 L1696.9 1155.6 L1698.9 1153.6 L1700.9 1154.5 L1702.9 1155.5 L1704.9 1153.5 L1706.9 1153.8 L1708.9 1152.9 L1710.9 1153.8 L1712.9 1153.8 L1714.9 1153.5 L1716.9 1153.2 L1718.9 1152.4 L1720.9 1152.6 L1722.9 1152.9 L1724.9 1154.2 L1726.9 1153.2 L1728.9 1152.8 L1730.9 1154.0 L1732.9 1153.9 L1734.9 1152.7 L1736.9 1152.7 L1738.9 1153.7 L1740.9 1153.4 L1742.9 1152.2 L1744.9 1153.0 L1746.9 1152.7 L1748.9 1153.6 L1750.9 1151.8 L1752.9 1153.1 L1754.9 1152.6 L1756.9 1151.3 L1758.9 1152.9 L1760.9 1152.7 L1762.9 1150.7 L1764.9 1153.4 L1766.8 1150.6 L1768.8 1150.7 L1770.8 1151.1 L1772.8 1152.0 L1774.8 1151.7 L1776.8 1151.1 L1778.8 1152.3 L1780.8 1151.4 L1782.8 1152.2 L1784.8 1153.3 L1786.8 1151.0 L1788.8 1148.6 L1790.8 1150.4 L1792.8 1149.8 L1794.8 1150.8 L1796.8 1150.8 L1798.8 1149.6 L1800.8 1149.6 L1802.8 1150.4 L1804.8 1150.4 L1806.8 1148.3 L1808.8 1151.4 L1810.8 1150.6 L1812.8 1150.5 L1814.8 1150.8 L1816.8 1149.6 L1818.8 1150.4 L1820.8 1151.4 L1822.8 1151.4 L1824.8 1150.9 L1826.8 1150.2 L1828.8 1149.7 L1830.8 1151.6 L1832.8 1150.9 L1834.8 1150.1 L1836.8 1148.6 L1838.8 1149.7 L1840.8 1148.8 L1842.8 1151.5 L1844.8 1150.6 L1846.8 1149.8 L1848.8 1150.2 L1850.8 1152.7 L1852.8 1151.5 L1854.8 1149.3 L1856.8 1150.4 L1858.8 1149.4 L1860.8 1149.0 L1862.8 1150.7 L1864.8 1152.6 L1866.8 1151.9 L1868.8 1150.6 L1870.8 1150.2 L1872.8 1150.7 L1874.8 1151.5 L1876.8 1149.3 L1878.8 1148.9 L1880.8 1152.3 L1882.8 1150.9 L1884.8 1152.0 L1886.8 1150.9 L1888.8 1152.0 L1890.8 1150.1 L1892.8 1151.1 L1894.8 1152.1 L1896.8 1151.6 L1898.8 1150.3 L1900.8 1151.5 L1902.8 1150.2 L1904.8 1149.5 L1906.8 1151.2 L1908.8 1152.0 L1910.8 1151.5 L1912.8 1149.7 L1914.8 1151.6 L1916.8 1151.4 L1918.8 1150.4 L1920.8 1148.6 L1922.8 1151.8 L1924.8 1151.7 L1926.8 1151.3 L1928.8 1149.4 L1930.8 1149.6 L1932.8 1151.8 L1934.8 1151.6 L1936.8 1151.4 L1938.8 1150.7 L1940.8 1151.3 L1942.8 1150.5 L1944.8 1150.7 L1946.8 1150.2 L1948.8 1151.3 L1950.8 1150.7 L1952.8 1151.9 L1954.8 1151.7 L1956.8 1150.4 L1958.8 1152.8 L1960.8 1150.1 L1962.8 1151.6 L1964.8 1152.2 L1966.8 1152.4 L1968.8 1149.3 L1970.8 1152.2 L1972.8 1152.4 L1974.8 1152.6 L1976.8 1149.3 L1978.8 1150.7 L1980.8 1151.3 L1982.8 1151.0 L1984.8 1152.6 L1986.8 1150.8 L1988.8 1152.6 L1990.8 1152.0 L1992.8 1150.2 L1994.8 1150.7 L1996.8 1151.1 L1998.8 1151.7 L2000.8 1152.5 L2002.8 1151.5 L2004.8 1152.5 L2006.8 1150.3 L2008.8 1149.0 L2010.8 1151.4 L2012.8 1152.2 L2014.8 1151.5 L2016.8 1150.9 L2018.8 1152.2 L2020.8 1153.6 L2022.8 1151.8 L2024.8 1151.3 L2026.8 1151.2 L2028.8 1153.7 L2030.8 1152.0 L2032.8 1152.6 L2034.8 1153.1 L2036.8 1153.0 L2038.8 1151.3 L2040.8 1153.0 L2042.8 1152.9 L2044.8 1152.6 L2046.8 1153.1 L2048.8 1151.7 L2050.8 1152.1 L2052.8 1151.8 L2054.8 1152.9 L2056.8 1151.7 L2058.8 1152.6 L2060.8 1151.3 L2062.8 1152.2 L2064.8 1152.0 L2066.8 1152.2 L2068.8 1152.5 L2070.8 1152.2 L2072.8 1152.2 L2074.8 1150.5 L2076.8 1153.4 L2078.8 1151.9 L2080.8 1152.2 L2082.8 1151.7 L2084.8 1153.3 L2086.8 1151.6 L2088.8 1152.9 L2090.8 1153.5 L2092.8 1153.9 L2094.8 1153.5 L2096.8 1153.0 L2098.8 1151.4 L2100.8 1153.6 L2102.8 1153.5 L2104.8 1153.2 L2106.8 1153.2 L2108.8 1152.6 L2110.8 1152.0 L2112.8 1153.5 L2114.8 1153.6 L2116.8 1151.6 L2118.8 1153.3 L2120.8 1152.7 L2122.8 1153.3 L2124.8 1152.7 L2126.8 1153.5 L2128.8 1153.4 L2130.8 1153.3 L2132.8 1151.2 L2134.8 1153.2 L2136.8 1152.5 L2138.8 1151.5 L2140.8 1153.1 L2142.8 1151.2 L2144.8 1153.3 L2146.8 1154.0 L2148.8 1152.0 L2150.8 1153.3 L2152.8 1152.9 L2154.8 1153.0 L2156.8 1151.2 L2158.8 1153.0 L2160.8 1152.6 L2162.8 1153.1 L2164.8 1152.4 L2166.6 1153.4 L2168.4 1152.7 L2170.0 1153.0 L2171.0 1153.6"/>
<path stroke="#8000ff" d="M229.0 1231.8 L230.1 1232.5 L231.6 1231.7 L233.3 1231.9 L235.1 1230.9 L237.0 1232.0 L239.0 1232.3 L241.0 1231.0 L243.0 1231.7 L245.0 1231.3 L247.0 1229.8 L249.0 1231.0 L251.0 1231.7 L253.0 1230.0 L255.0 1228.8 L257.0 1230.4 L259.0 1229.6 L261.0 1231.7 L263.0 1229.9 L265.0 1229.9 L267.0 1229.2 L269.0 1229.9 L271.0 1229.2 L272.9 1228.8 L274.9 1229.5 L276.9 1228.8 L278.9 1230.6 L280.9 1228.4 L282.9 1229.4 L284.9 1228.8 L286.9 1228.2 L288.9 1231.0 L290.9 1227.7 L292.9 1230.9 L294.9 1228.4 L296.9 1229.9 L298.9 1231.9 L300.9 1228.2 L302.9 1229.0 L304.9 1231.6 L306.9 1230.8 L308.9 1230.3 L310.9 1231.0 L312.9 1230.3 L314.9 1231.5 L316.9 1232.9 L318.8 1231.5 L320.8 1232.1 L322.8 1233.2 L324.8 1234.1 L326.8 1231.9 L328.8 1232.9 L330.8 1232.2 L332.8 1232.2 L334.8 1232.5 L336.8 1232.3 L338.8 1231.3 L340.8 1231.1 L342.8 1232.1 L344.8 1232.8 L346.8 1233.7 L348.8 1232.1 L350.8 1232.3 L352.8 1232.9 L354.8 1232.8 L356.8 1231.9 L358.8 1231.8 L360.8 1233.4 L362.8 1231.3 L364.7 1231.0 L366.7 1229.9 L368.7 1231.6 L370.7 1230.8 L372.7 1232.6 L374.7 1230.6 L376.7 1231.5 L378.7 1231.6 L380.7 1232.2 L382.7 1229.5 L384.7 1232.1 L386.7 1230.8 L388.7 1230.7 L390.7 1230.6 L392.7 1230.6 L394.7 1230.7 L396.7 1229.1 L398.7 1231.7 L400.7 1231.5 L402.7 1230.7 L404.7 1231.6 L406.7 1233.8 L408.7 1232.3 L410.7 1231.7 L412.7 1233.7 L414.7 1231.6 L416.7 1232.3 L418.7 1232.1 L420.7 1232.4 L422.7 1233.4 L424.7 1233.3 L426.7 1232.2 L428.7 1232.8 L430.7 1233.0 L432.7 1232.5 L434.7 1232.8 L436.7 1232.2 L438.7 1232.1 L440.7 1232.7 L442.7 1231.7 L444.7 1232.9 L446.6 1232.2 L448.6 1231.5 L450.6 1231.7 L452.6 1231.7 L454.6 1231.9 L456.6 1232.0 L458.6 1231.6 L460.6 1231.0 L462.6 1233.0 L464.6 1232.5 L466.6 1231.7 L468.6 1232.5 L470.6 1232.0 L472.6 1231.5 L474.6 1231.9 L476.6 1234.3 L478.6 1233.0 L480.6 1233.2 L482.6 1232.2 L484.6 1233.3 L486.5 1235.0 L488.5 1233.7 L490.5 1234.6 L492.5 1235.1 L494.4 1234.8 L496.4 1236.0 L498.4 1235.1 L500.4 1235.6 L502.4 1234.9 L504.3 1238.1 L506.3 1236.3 L508.3 1236.3 L510.3 1237.7 L512.3 1236.2 L514.3 1236.8 L516.3 1236.3 L518.3 1237.2 L520.2 1237.0 L522.2 1238.0 L524.2 1237.5 L526.2 1237.2 L528.2 1237.5 L530.2 1237.7 L532.2 1237.3 L534.2 1238.5 L536.2 1238.1 L538.2 1237.4 L540.2 1236.0 L542.1 1237.2 L544.1 1235.2 L546.0 1236.1 L548.0 1235.5 L549.9 1234.5 L551.8 1233.7 L553.8 1233.3 L555.7 1235.1 L557.6 1232.4 L559.5 1231.9 L561.4 1232.2 L563.2 1231.1 L565.1 1230.9 L567.0 1228.2 L568.8 1227.6 L570.7 1230.6 L572.5 1226.9 L574.3 1225.9 L576.2 1225.5 L578.0 1225.4 L579.8 1222.6 L581.6 1223.0 L583.4 1221.8 L585.1 1221.5 L586.9 1220.1 L588.6 1218.5 L590.3 1217.2 L592.0 1214.8 L593.7 1216.7 L595.4 1213.5 L597.1 1213.3 L598.7 1213.9 L600.3 1211.0 L602.0 1210.7 L603.6 1208.8 L605.2 1208.4 L606.8 1206.7 L608.5 1205.1 L610.1 1205.5 L611.7 1202.9 L613.3 1200.8 L615.0 1200.6 L616.6 1200.1 L618.2 1197.5 L619.8 1198.0 L621.4 1196.8 L623.0 1196.8 L624.7 1193.2 L626.3 1193.2 L627.9 1190.0 L629.5 1189.9 L631.2 1189.3 L632.9 1188.5 L634.6 1187.0 L636.3 1185.9 L638.0 1184.5 L639.8 1183.7 L641.5 1183.4 L643.3 1182.6 L645.1 1181.8 L646.9 1181.2 L648.6 1180.5 L650.4 1177.0 L652.2 1177.3 L654.1 1176.7 L655.9 1175.5 L657.7 1176.1 L659.5 1175.0 L661.4 1173.5 L663.2 1172.9 L665.0 1173.1 L666.9 1171.0 L668.7 1170.3 L670.6 1170.6 L672.5 1169.5 L674.3 1169.6 L676.2 1168.0 L678.1 1167.7 L680.0 1165.9 L681.9 1165.0 L683.8 1165.2 L685.7 1162.4 L687.7 1164.5 L689.6 1164.5 L691.5 1163.2 L693.5 1162.5 L695.4 1163.2 L697.4 1161.8 L699.4 1162.3 L701.3 1162.9 L703.3 1161.2 L705.2 1161.0 L707.2 1160.2 L709.1 1159.5 L711.1 1159.1 L713.0 1158.4 L714.9 1158.8 L716.9 1156.0 L718.8 1156.5 L720.7 1156.7 L722.6 1154.8 L724.5 1154.8 L726.4 1153.6 L728.2 1153.9 L730.1 1153.6 L732.0 1153.3 L733.8 1151.8 L735.7 1150.0 L737.5 1150.0 L739.4 1149.5 L741.2 1149.5 L743.0 1145.6 L744.9 1146.9 L746.7 1144.2 L748.5 1145.6 L750.3 1144.5 L752.1 1143.7 L753.9 1143.1 L755.7 1141.8 L757.5 1140.0 L759.2 1139.9 L761.0 1139.7 L762.8 1137.6 L764.5 1136.8 L766.2 1134.7 L768.0 1135.7 L769.7 1133.3 L771.4 1132.0 L773.0 1131.2 L774.7 1129.7 L776.3 1129.1 L778.0 1129.2 L779.6 1127.6 L781.2 1127.0 L782.7 1125.8 L784.3 1122.5 L785.8 1122.4 L787.4 1122.0 L788.9 1121.4 L790.4 1116.9 L791.9 1115.5 L793.3 1115.8 L794.8 1113.7 L796.2 1111.8 L797.7 1111.6 L799.1 1109.1 L800.5 1106.4 L801.8 1106.9 L803.2 1105.5 L804.5 1104.5 L805.8 1103.3 L807.1 1101.1 L808.4 1099.2 L809.7 1097.3 L810.9 1094.9 L812.1 1094.3 L813.3 1093.9 L814.5 1092.0 L815.7 1091.6 L816.8 1088.1 L817.9 1085.0 L819.1 1085.6 L820.2 1084.1 L821.3 1080.6 L822.4 1078.5 L823.5 1078.4 L824.6 1077.2 L825.7 1074.0 L826.9 1073.0 L828.0 1070.9 L829.1 1068.9 L830.2 1067.2 L831.4 1066.8 L832.5 1064.7 L833.7 1062.8 L834.9 1059.5 L836.0 1061.7 L837.3 1057.8 L838.5 1056.9 L839.7 1054.5 L841.0 1054.2 L842.3 1051.1 L843.6 1050.9 L844.9 1049.2 L846.2 1048.6 L847.5 1045.4 L848.9 1044.3 L850.2 1043.2 L851.6 1043.7 L852.9 1039.1 L854.3 1039.2 L855.6 1036.9 L857.0 1036.2 L858.3 1035.1 L859.6 1033.1 L861.0 1031.7 L862.3 1030.2 L863.6 1028.0 L864.9 1026.8 L866.1 1024.0 L867.4 1023.6 L868.7 1021.6 L869.9 1020.5 L871.2 1019.8 L872.4 1018.0 L873.7 1016.5 L874.9 1015.5 L876.2 1010.9 L877.4 1011.7 L878.6 1009.8 L879.9 1008.1 L881.1 1005.5 L882.3 1005.5 L883.5 1004.5 L884.8 1002.8 L886.0 1000.2 L887.2 999.3 L888.4 997.9 L889.7 997.1 L890.9 995.0 L892.1 992.5 L893.3 990.9 L894.5 989.4 L895.8 987.8 L897.0 985.6 L898.2 985.1 L899.4 982.3 L900.6 980.6 L901.8 980.0 L903.1 977.6 L904.3 976.3 L905.5 973.1 L906.7 974.0 L907.9 971.7 L909.0 970.0 L910.2 968.9 L911.4 967.0 L912.6 964.6 L913.7 965.3 L914.9 961.6 L916.1 961.2 L917.2 960.3 L918.3 956.5 L919.5 955.5 L920.6 953.1 L921.7 953.0 L922.8 950.2 L924.0 947.9 L925.1 948.3 L926.2 946.3 L927.3 943.0 L928.4 943.1 L929.4 940.6 L930.5 941.1 L931.6 938.6 L932.7 934.9 L933.8 933.5 L934.9 931.3 L935.9 930.5 L937.0 928.7 L938.1 927.6 L939.1 925.3 L940.2 922.3 L941.3 921.2 L942.3 921.4 L943.4 919.5 L944.4 916.6 L945.5 915.0 L946.5 913.2 L947.6 911.7 L948.6 908.5 L949.7 909.0 L950.7 906.0 L951.7 905.0 L952.7 900.9 L953.8 901.6 L954.8 900.8 L955.8 896.0 L956.8 897.5 L957.7 894.9 L958.7 892.1 L959.6 889.6 L960.5 890.1 L961.4 887.6 L962.2 886.0 L963.0 883.5 L963.9 881.2 L964.7 880.8 L965.6 877.5 L966.6 877.3 L967.6 873.4 L968.6 872.3 L969.7 870.2 L970.8 870.9 L971.9 866.6 L973.1 865.5 L974.2 865.4 L975.4 863.5 L976.7 863.6 L977.9 861.7 L979.1 859.1 L980.4 857.6 L981.7 854.0 L983.1 853.3 L984.5 852.3 L985.9 851.0 L987.3 848.6 L988.8 847.7 L990.3 846.5 L991.9 846.9 L993.5 845.2 L995.1 843.4 L996.8 842.3 L998.5 841.8 L1000.3 840.0 L1002.1 839.6 L1003.9 837.6 L1005.8 839.2 L1007.7 839.1 L1009.6 838.5 L1011.5 838.7 L1013.3 839.0 L1015.1 841.0 L1016.9 840.3 L1018.6 839.9 L1020.2 841.2 L1021.8 844.0 L1023.3 845.5 L1024.8 846.6 L1026.3 848.0 L1027.7 848.9 L1029.1 848.8 L1030.5 850.9 L1031.9 851.4 L1033.3 854.1 L1034.7 854.7 L1036.0 857.4 L1037.3 858.7 L1038.6 858.7 L1039.9 862.5 L1041.1 864.2 L1042.3 863.9 L1043.4 866.8 L1044.6 869.0 L1045.7 869.7 L1046.9 872.4 L1048.0 873.4 L1049.1 875.9 L1050.3 876.7 L1051.4 878.1 L1052.5 880.3 L1053.6 882.2 L1054.8 883.4 L1055.9 884.5 L1057.0 885.8 L1058.1 887.9 L1059.2 889.4 L1060.3 891.7 L1061.4 893.3 L1062.5 894.8 L1063.6 896.5 L1064.7 898.4 L1065.8 901.2 L1066.9 902.6 L1068.0 902.7 L1069.1 905.3 L1070.2 906.3 L1071.3 908.1 L1072.4 909.7 L1073.5 911.0 L1074.7 912.0 L1075.8 912.7 L1076.9 916.6 L1078.1 919.1 L1079.3 918.9 L1080.4 921.8 L1081.6 922.6 L1082.8 924.8 L1084.0 925.5 L1085.1 927.6 L1086.3 929.3 L1087.5 929.0 L1088.7 932.8 L1089.9 934.1 L1091.2 933.7 L1092.4 938.0 L1093.6 938.9 L1094.9 940.7 L1096.1 942.4 L1097.4 943.3 L1098.7 944.2 L1100.0 946.3 L1101.3 947.8 L1102.6 951.6 L1103.9 952.8 L1105.3 952.2 L1106.6 953.8 L1108.0 955.9 L1109.4 957.5 L1110.8 957.9 L1112.2 959.0 L1113.6 963.0 L1115.0 963.6 L1116.5 962.7 L1117.9 963.9 L1119.4 966.1 L1120.9 968.4 L1122.3 970.0 L1123.8 970.5 L1125.4 970.7 L1126.9 973.7 L1128.4 975.3 L1129.9 976.1 L1131.4 976.9 L1132.9 979.2 L1134.5 979.8 L1136.1 980.1 L1137.7 982.3 L1139.4 982.2 L1141.1 985.2 L1142.8 985.6 L1144.7 985.2 L1146.5 986.9 L1148.4 988.4 L1150.3 985.9 L1152.3 988.0 L1154.2 989.8 L1156.2 987.1 L1158.2 988.4 L1160.2 987.3 L1162.2 988.4 L1164.2 986.2 L1166.2 986.7 L1168.2 987.4 L1170.1 987.7 L1172.1 987.6 L1174.1 987.3 L1176.0 987.5 L1178.0 986.7 L1179.9 986.3 L1181.9 984.3 L1183.8 984.5 L1185.7 986.8 L1187.6 985.4 L1189.5 983.5 L1191.4 982.7 L1193.2 982.2 L1195.1 980.3 L1196.9 981.6 L1198.7 978.7 L1200.6 978.1 L1202.4 979.2 L1204.1 974.5 L1205.9 975.8 L1207.7 973.0 L1209.4 972.9 L1211.1 972.4 L1212.8 971.2 L1214.5 970.6 L1216.2 968.6 L1217.9 968.1 L1219.5 966.0 L1221.1 965.5 L1222.7 963.4 L1224.2 964.0 L1225.8 961.0 L1227.3 961.4 L1228.7 959.1 L1230.2 957.8 L1231.7 957.8 L1233.1 955.4 L1234.5 952.2 L1235.9 952.9 L1237.3 948.5 L1238.7 949.8 L1240.1 947.8 L1241.5 945.5 L1242.8 945.3 L1244.2 943.5 L1245.5 944.1 L1246.9 940.5 L1248.2 941.1 L1249.5 939.1 L1250.9 935.8 L1252.2 934.1 L1253.4 934.5 L1254.7 931.6 L1256.0 930.3 L1257.2 928.4 L1258.4 925.9 L1259.6 925.1 L1260.8 923.0 L1261.9 920.8 L1263.1 920.3 L1264.2 920.5 L1265.3 918.6 L1266.3 915.5 L1267.4 913.9 L1268.4 912.5 L1269.4 911.6 L1270.4 908.9 L1271.4 906.5 L1272.3 904.8 L1273.3 904.4 L1274.2 903.9 L1275.2 899.3 L1276.1 896.2 L1277.0 897.0 L1278.0 894.5 L1278.9 892.9 L1279.8 892.1 L1280.8 889.3 L1281.7 886.3 L1282.6 883.9 L1283.6 883.9 L1284.6 881.1 L1285.6 880.7 L1286.6 877.6 L1287.6 876.7 L1288.7 874.0 L1289.8 873.3 L1290.9 871.6 L1292.0 870.8 L1293.1 869.8 L1294.1 866.8 L1295.1 864.5 L1296.1 865.3 L1297.0 862.1 L1297.8 860.5 L1298.6 858.6 L1299.3 857.5 L1299.9 855.2 L1300.4 853.0 L1300.9 851.1 L1301.4 847.7 L1301.8 846.0 L1302.2 844.5 L1302.6 842.7 L1303.1 840.7 L1303.5 839.0 L1304.0 836.9 L1304.6 834.5 L1305.2 831.6 L1305.9 831.9 L1306.7 829.9 L1307.6 826.8 L1308.7 826.4 L1309.8 824.7 L1311.0 822.9 L1312.4 819.7 L1313.8 818.9 L1315.4 818.3 L1317.0 819.1 L1318.7 816.0 L1320.4 815.7 L1322.2 814.5 L1324.1 814.7 L1326.0 815.5 L1327.8 813.5 L1329.7 813.4 L1331.5 817.2 L1333.2 817.5 L1334.8 818.0 L1336.4 820.6 L1337.9 821.9 L1339.2 820.6 L1340.5 823.8 L1341.7 826.5 L1342.8 826.6 L1343.8 828.6 L1344.7 831.5 L1345.5 832.2 L1346.2 833.3 L1346.9 835.6 L1347.6 836.9 L1348.2 840.5 L1348.8 840.3 L1349.4 844.7 L1349.9 844.3 L1350.4 847.7 L1351.0 848.3 L1351.5 851.2 L1352.0 854.4 L1352.5 856.4 L1353.1 858.5 L1353.6 859.2 L1354.1 861.3 L1354.7 863.3 L1355.2 865.6 L1355.8 866.6 L1356.3 869.9 L1356.8 871.1 L1357.4 873.8 L1357.9 875.1 L1358.4 877.2 L1358.9 877.9 L1359.4 880.1 L1359.8 881.2 L1360.3 884.1 L1360.8 886.1 L1361.3 889.0 L1361.7 889.0 L1362.2 895.0 L1362.7 894.0 L1363.1 897.2 L1363.6 898.9 L1364.0 897.6 L1364.5 901.6 L1364.9 905.1 L1365.4 903.6 L1365.9 908.4 L1366.3 908.8 L1366.8 911.2 L1367.2 913.7 L1367.7 913.8 L1368.1 917.6 L1368.5 918.8 L1369.0 920.7 L1369.4 923.9 L1369.8 928.4 L1370.3 927.5 L1370.7 929.7 L1371.1 931.1 L1371.6 932.4 L1372.0 935.3 L1372.4 938.3 L1372.9 939.1 L1373.3 941.7 L1373.7 942.6 L1374.2 947.0 L1374.7 945.2 L1375.1 949.2 L1375.6 951.1 L1376.1 952.8 L1376.5 953.5 L1377.0 955.4 L1377.5 958.2 L1378.0 960.4 L1378.5 961.1 L1379.1 963.2 L1379.6 966.6 L1380.1 969.0 L1380.6 969.5 L1381.1 971.3 L1381.6 973.2 L1382.1 978.0 L1382.6 978.2 L1383.1 979.6 L1383.6 982.5 L1384.1 985.6 L1384.6 986.5 L1385.1 986.1 L1385.6 989.3 L1386.1 990.9 L1386.6 992.9 L1387.1 994.0 L1387.6 996.7 L1388.1 998.0 L1388.6 1001.3 L1389.1 1002.9 L1389.6 1003.5 L1390.1 1005.2 L1390.6 1008.3 L1391.1 1011.2 L1391.6 1013.0 L1392.1 1014.5 L1392.5 1013.5 L1393.0 1017.9 L1393.5 1019.7 L1394.0 1022.0 L1394.5 1023.1 L1395.0 1025.8 L1395.4 1027.5 L1395.9 1032.5 L1396.4 1032.6 L1396.9 1033.8 L1397.3 1035.8 L1397.8 1037.7 L1398.3 1039.9 L1398.7 1041.3 L1399.2 1043.6 L1399.7 1046.5 L1400.2 1048.3 L1400.7 1049.7 L1401.1 1052.6 L1401.6 1053.6 L1402.1 1054.4 L1402.6 1055.7 L1403.1 1058.5 L1403.6 1061.1 L1404.1 1063.4 L1404.6 1066.0 L1405.0 1066.4 L1405.5 1068.1 L1406.0 1071.5 L1406.5 1073.8 L1407.0 1074.3 L1407.4 1076.9 L1407.9 1079.8 L1408.4 1080.8 L1408.9 1082.4 L1409.4 1082.5 L1409.8 1087.5 L1410.3 1088.9 L1410.8 1090.3 L1411.3 1091.7 L1411.8 1093.0 L1412.4 1095.9 L1412.9 1097.9 L1413.4 1100.9 L1414.0 1100.7 L1414.5 1105.0 L1415.1 1105.7 L1415.7 1108.6 L1416.3 1108.6 L1416.9 1111.7 L1417.5 1114.4 L1418.2 1115.3 L1418.8 1115.7 L1419.5 1118.6 L1420.2 1121.3 L1420.9 1121.4 L1421.6 1123.2 L1422.3 1126.6 L1423.1 1127.4 L1423.8 1130.7 L1424.6 1130.9 L1425.3 1132.2 L1426.1 1135.0 L1426.9 1138.8 L1427.7 1138.6 L1428.5 1141.2 L1429.3 1143.2 L1430.1 1144.0 L1430.9 1147.6 L1431.7 1148.6 L1432.5 1150.7 L1433.4 1150.6 L1434.2 1152.4 L1435.0 1153.3 L1435.8 1157.4 L1436.6 1159.2 L1437.4 1161.9 L1438.3 1164.4 L1439.1 1164.7 L1439.9 1166.5 L1440.7 1169.0 L1441.5 1171.8 L1442.3 1171.5 L1443.1 1174.6 L1444.0 1175.6 L1444.9 1177.4 L1445.8 1180.2 L1446.7 1180.5 L1447.7 1182.0 L1448.7 1185.2 L1449.8 1186.3 L1451.0 1187.6 L1452.3 1189.3 L1453.6 1191.3 L1455.0 1191.9 L1456.5 1194.3 L1458.0 1195.3 L1459.5 1197.6 L1461.0 1198.7 L1462.5 1199.7 L1464.0 1200.1 L1465.5 1201.7 L1466.9 1202.4 L1468.4 1206.8 L1469.9 1205.4 L1471.5 1207.4 L1473.0 1209.4 L1474.5 1208.2 L1476.1 1209.9 L1477.7 1211.5 L1479.4 1212.1 L1481.0 1212.9 L1482.7 1214.6 L1484.5 1217.1 L1486.3 1217.5 L1488.1 1217.7 L1489.9 1218.5 L1491.8 1217.7 L1493.7 1220.5 L1495.6 1220.9 L1497.5 1220.2 L1499.4 1221.9 L1501.3 1222.2 L1503.2 1222.4 L1505.1 1222.6 L1507.0 1223.4 L1509.0 1223.6 L1510.9 1225.4 L1512.9 1225.7 L1514.8 1226.1 L1516.8 1226.1 L1518.7 1226.3 L1520.7 1228.8 L1522.7 1225.7 L1524.7 1228.7 L1526.6 1228.2 L1528.6 1228.2 L1530.6 1227.9 L1532.6 1228.4 L1534.6 1227.7 L1536.6 1227.6 L1538.6 1228.9 L1540.6 1227.7 L1542.6 1230.0 L1544.6 1230.4 L1546.6 1226.4 L1548.6 1228.1 L1550.6 1229.9 L1552.6 1229.9 L1554.6 1229.8 L1556.6 1230.2 L1558.6 1230.5 L1560.6 1230.7 L1562.6 1231.6 L1564.6 1230.1 L1566.6 1230.9 L1568.6 1228.7 L1570.6 1230.0 L1572.5 1229.1 L1574.5 1231.5 L1576.5 1232.3 L1578.5 1230.7 L1580.5 1229.0 L1582.5 1230.1 L1584.5 1230.2 L1586.5 1230.3 L1588.5 1231.1 L1590.5 1231.0 L1592.5 1227.7 L1594.5 1231.3 L1596.5 1229.6 L1598.5 1229.5 L1600.5 1231.3 L1602.5 1229.8 L1604.5 1228.8 L1606.5 1228.8 L1608.5 1230.1 L1610.5 1230.9 L1612.5 1231.5 L1614.5 1230.1 L1616.5 1229.9 L1618.5 1231.8 L1620.5 1230.1 L1622.5 1231.9 L1624.5 1230.9 L1626.5 1231.0 L1628.5 1230.7 L1630.5 1231.3 L1632.5 1230.8 L1634.5 1230.7 L1636.5 1231.3 L1638.5 1231.0 L1640.5 1232.0 L1642.5 1231.9 L1644.5 1231.7 L1646.5 1231.9 L1648.5 1231.9 L1650.5 1233.8 L1652.5 1232.2 L1654.5 1231.8 L1656.5 1232.0 L1658.5 1232.9 L1660.5 1232.1 L1662.5 1232.1 L1664.5 1232.0 L1666.5 1232.3 L1668.5 1232.4 L1670.5 1232.4 L1672.5 1230.4 L1674.5 1230.8 L1676.5 1229.2 L1678.5 1232.2 L1680.5 1232.3 L1682.4 1232.3 L1684.4 1231.2 L1686.4 1231.9 L1688.4 1230.7 L1690.4 1230.5 L1692.4 1229.2 L1694.4 1229.7 L1696.4 1229.8 L1698.4 1231.1 L1700.4 1231.7 L1702.4 1229.7 L1704.4 1230.5 L1706.4 1230.3 L1708.4 1229.4 L1710.4 1228.5 L1712.4 1229.4 L1714.4 1228.8 L1716.4 1229.8 L1718.4 1230.0 L1720.4 1230.0 L1722.4 1230.1 L1724.4 1230.7 L1726.4 1229.5 L1728.4 1231.2 L1730.4 1228.9 L1732.4 1230.5 L1734.4 1230.9 L1736.4 1229.9 L1738.4 1229.2 L1740.4 1231.3 L1742.4 1230.2 L1744.4 1231.6 L1746.4 1231.6 L1748.4 1231.0 L1750.4 1231.1 L1752.4 1232.0 L1754.4 1231.6 L1756.4 1230.4 L1758.4 1231.5 L1760.4 1231.9 L1762.4 1231.7 L1764.4 1231.7 L1766.4 1231.5 L1768.4 1231.5 L1770.4 1230.9 L1772.4 1230.5 L1774.4 1232.8 L1776.4 1231.3 L1778.4 1232.1 L1780.4 1230.6 L1782.4 1232.1 L1784.4 1231.2 L1786.4 1234.6 L1788.4 1231.1 L1790.4 1231.2 L1792.4 1232.9 L1794.4 1233.1 L1796.4 1230.2 L1798.4 1232.3 L1800.4 1232.9 L1802.4 1231.0 L1804.4 1232.7 L1806.4 1231.7 L1808.4 1231.2 L1810.4 1231.8 L1812.4 1231.7 L1814.4 1230.9 L1816.4 1234.1 L1818.4 1231.7 L1820.4 1231.5 L1822.4 1232.9 L1824.4 1232.1 L1826.4 1233.3 L1828.4 1231.9 L1830.4 1232.4 L1832.4 1232.2 L1834.4 1232.3 L1836.4 1231.9 L1838.4 1232.0 L1840.4 1233.6 L1842.4 1231.5 L1844.4 1231.6 L1846.4 1231.8 L1848.4 1232.6 L1850.4 1232.4 L1852.4 1232.9 L1854.4 1230.9 L1856.4 1232.3 L1858.4 1231.9 L1860.4 1231.8 L1862.4 1232.2 L1864.4 1230.3 L1866.4 1232.3 L1868.4 1232.1 L1870.4 1230.7 L1872.4 1231.9 L1874.4 1233.4 L1876.4 1231.6 L1878.4 1232.5 L1880.4 1231.8 L1882.4 1231.2 L1884.4 1231.1 L1886.4 1231.6 L1888.4 1233.1 L1890.4 1232.7 L1892.4 1231.3 L1894.4 1232.8 L1896.4 1231.8 L1898.4 1231.3 L1900.4 1232.3 L1902.4 1231.1 L1904.4 1230.5 L1906.4 1233.1 L1908.4 1230.3 L1910.4 1232.4 L1912.4 1230.6 L1914.4 1231.9 L1916.4 1231.8 L1918.4 1231.5 L1920.4 1230.0 L1922.4 1231.9 L1924.4 1231.9 L1926.4 1231.2 L1928.4 1231.9 L1930.4 1232.9 L1932.4 1231.4 L1934.4 1232.2 L1936.4 1231.0 L1938.4 1232.4 L1940.4 1232.6 L1942.4 1234.3 L1944.4 1232.9 L1946.4 1232.5 L1948.4 1233.4 L1950.4 1231.3 L1952.4 1233.1 L1954.4 1231.7 L1956.4 1231.7 L1958.4 1233.2 L1960.4 1232.5 L1962.4 1233.5 L1964.4 1231.1 L1966.4 1232.6 L1968.4 1231.9 L1970.4 1232.2 L1972.4 1230.8 L1974.4 1233.3 L1976.4 1232.7 L1978.4 1231.7 L1980.4 1231.4 L1982.4 1231.9 L1984.4 1233.9 L1986.4 1232.6 L1988.4 1232.4 L1990.4 1233.2 L1992.4 1232.8 L1994.4 1233.0 L1996.4 1233.5 L1998.4 1233.2 L2000.4 1233.7 L2002.4 1231.9 L2004.4 1233.1 L2006.4 1232.7 L2008.4 1233.2 L2010.4 1233.1 L2012.4 1232.6 L2014.4 1232.8 L2016.4 1234.0 L2018.4 1232.7 L2020.4 1232.1 L2022.4 1233.8 L2024.4 1234.2 L2026.4 1233.1 L2028.4 1233.5 L2030.4 1232.6 L2032.4 1233.2 L2034.4 1234.4 L2036.4 1234.1 L2038.4 1233.6 L2040.4 1233.2 L2042.4 1232.1 L2044.4 1233.8 L2046.4 1233.9 L2048.4 1234.5 L2050.4 1235.3 L2052.4 1233.9 L2054.4 1234.4 L2056.4 1232.6 L2058.4 1234.6 L2060.4 1234.3 L2062.4 1234.8 L2064.4 1234.1 L2066.4 1233.9 L2068.4 1234.8 L2070.4 1232.9 L2072.4 1234.1 L2074.4 1234.4 L2076.4 1232.8 L2078.4 1232.4 L2080.4 1233.8 L2082.4 1233.5 L2084.4 1233.9 L2086.4 1233.9 L2088.4 1232.6 L2090.4 1233.5 L2092.4 1234.2 L2094.4 1232.8 L2096.4 1232.8 L2098.4 1232.1 L2100.4 1233.7 L2102.4 1234.6 L2104.4 1231.7 L2106.4 1233.5 L2108.4 1233.6 L2110.4 1232.2 L2112.4 1232.3 L2114.4 1231.7 L2116.4 1231.8 L2118.4 1232.6 L2120.4 1232.9 L2122.4 1232.4 L2124.4 1233.0 L2126.4 1232.4 L2128.4 1231.1 L2130.4 1233.3 L2132.4 1233.0 L2134.4 1231.3 L2136.4 1233.4 L2138.3 1232.1 L2140.3 1231.8 L2142.3 1233.3 L2144.3 1229.3 L2146.3 1230.0 L2148.3 1232.0 L2150.3 1231.1 L2152.3 1230.4 L2154.3 1232.5 L2156.3 1231.5 L2158.3 1229.9 L2160.3 1230.3 L2162.3 1231.6 L2164.3 1232.4 L2166.2 1229.0 L2167.9 1230.9 L2169.5 1230.3 L2170.8 1229.1"/>
<path stroke="#800080" d="M229.0 1351.0 L230.1 1349.8 L231.6 1350.7 L233.3 1352.7 L235.1 1351.7 L237.0 1352.0 L239.0 1351.9 L241.0 1351.7 L243.0 1352.3 L245.0 1350.4 L247.0 1351.2 L249.0 1352.3 L251.0 1350.9 L253.0 1351.2 L255.0 1352.7 L257.0 1353.0 L259.0 1351.2 L261.0 1351.1 L263.0 1352.3 L265.0 1352.1 L267.0 1351.3 L269.0 1352.5 L271.0 1352.6 L273.0 1352.2 L275.0 1354.8 L277.0 1353.5 L279.0 1353.2 L281.0 1353.5 L283.0 1355.3 L285.0 1353.8 L287.0 1352.4 L289.0 1353.5 L290.9 1353.4 L292.9 1353.1 L294.9 1354.0 L296.9 1354.2 L298.9 1354.1 L300.9 1353.9 L302.9 1355.3 L304.9 1353.3 L306.9 1355.6 L308.9 1355.1 L310.9 1355.5 L312.8 1353.3 L314.8 1356.9 L316.8 1354.0 L318.8 1354.9 L320.8 1356.2 L322.8 1355.2 L324.8 1355.3 L326.8 1353.7 L328.8 1355.2 L330.8 1355.7 L332.8 1356.0 L334.8 1355.0 L336.8 1355.3 L338.8 1355.3 L340.8 1354.1 L342.8 1353.9 L344.8 1356.0 L346.8 1353.3 L348.7 1354.9 L350.7 1353.6 L352.7 1354.6 L354.7 1352.4 L356.7 1353.2 L358.6 1352.7 L360.6 1351.9 L362.6 1352.1 L364.6 1350.8 L366.6 1351.1 L368.5 1350.6 L370.5 1351.3 L372.5 1350.2 L374.5 1348.8 L376.4 1349.4 L378.4 1349.3 L380.4 1348.3 L382.4 1350.0 L384.4 1348.9 L386.3 1349.0 L388.3 1347.3 L390.3 1347.3 L392.3 1348.3 L394.3 1345.9 L396.2 1347.2 L398.2 1346.6 L400.2 1345.8 L402.2 1346.1 L404.1 1344.7 L406.1 1345.6 L408.1 1344.0 L410.1 1343.7 L412.1 1345.7 L414.0 1343.6 L416.0 1342.0 L418.0 1344.4 L420.0 1342.6 L421.9 1339.8 L423.9 1342.6 L425.9 1343.1 L427.9 1342.3 L429.8 1343.1 L431.8 1341.2 L433.8 1341.4 L435.7 1339.7 L437.7 1340.3 L439.7 1341.2 L441.6 1339.9 L443.6 1339.2 L445.5 1336.9 L447.5 1337.9 L449.5 1336.6 L451.4 1338.0 L453.4 1336.3 L455.3 1336.8 L457.2 1335.1 L459.2 1337.2 L461.1 1334.0 L463.1 1334.7 L465.0 1336.4 L467.0 1333.8 L468.9 1332.3 L470.8 1333.1 L472.8 1333.0 L474.7 1332.4 L476.6 1329.4 L478.6 1330.8 L480.5 1328.3 L482.5 1331.3 L484.4 1329.2 L486.3 1328.3 L488.3 1328.8 L490.2 1328.2 L492.2 1326.3 L494.1 1328.4 L496.1 1326.3 L498.1 1324.5 L500.0 1326.9 L502.0 1326.7 L503.9 1326.1 L505.9 1325.1 L507.9 1323.5 L509.9 1324.8 L511.8 1325.3 L513.8 1324.0 L515.8 1324.4 L517.8 1322.0 L519.7 1323.3 L521.7 1322.9 L523.7 1320.5 L525.7 1320.0 L527.6 1320.5 L529.6 1320.9 L531.6 1320.8 L533.5 1319.9 L535.5 1319.6 L537.5 1319.2 L539.4 1318.9 L541.4 1318.9 L543.3 1318.4 L545.2 1317.4 L547.2 1317.2 L549.1 1316.1 L551.1 1316.7 L553.0 1315.0 L554.9 1316.4 L556.9 1314.4 L558.8 1314.1 L560.7 1312.7 L562.6 1312.5 L564.5 1312.3 L566.5 1311.6 L568.4 1310.4 L570.3 1309.3 L572.2 1309.8 L574.0 1309.2 L575.9 1308.9 L577.8 1308.9 L579.7 1306.8 L581.5 1304.5 L583.4 1305.5 L585.3 1303.2 L587.1 1302.9 L588.9 1304.2 L590.7 1302.9 L592.6 1301.0 L594.4 1300.2 L596.2 1299.8 L598.0 1297.4 L599.7 1298.5 L601.5 1296.8 L603.3 1297.9 L605.1 1294.4 L606.8 1295.3 L608.6 1292.8 L610.4 1293.4 L612.1 1290.7 L613.9 1291.3 L615.7 1289.3 L617.4 1288.0 L619.2 1287.7 L621.0 1287.3 L622.8 1286.3 L624.5 1286.5 L626.3 1284.9 L628.1 1280.9 L629.9 1282.0 L631.7 1279.7 L633.5 1280.2 L635.3 1280.2 L637.0 1277.5 L638.8 1276.8 L640.6 1277.1 L642.4 1275.8 L644.2 1276.5 L646.0 1274.5 L647.7 1273.8 L649.5 1274.0 L651.3 1271.1 L653.1 1270.6 L654.9 1268.8 L656.7 1269.1 L658.5 1268.9 L660.3 1268.3 L662.1 1266.2 L663.9 1264.7 L665.7 1263.8 L667.5 1262.3 L669.3 1262.8 L671.1 1263.1 L672.9 1258.9 L674.7 1258.3 L676.5 1260.6 L678.4 1257.1 L680.2 1258.1 L682.0 1255.8 L683.9 1256.8 L685.7 1256.0 L687.5 1254.7 L689.3 1254.5 L691.2 1253.0 L693.0 1252.6 L694.8 1253.0 L696.7 1251.5 L698.5 1249.1 L700.3 1248.2 L702.2 1247.9 L704.0 1247.0 L705.8 1246.5 L707.6 1245.0 L709.4 1245.3 L711.2 1243.9 L713.0 1243.3 L714.8 1242.1 L716.6 1241.8 L718.4 1239.2 L720.2 1240.9 L722.0 1238.8 L723.8 1238.0 L725.5 1237.3 L727.3 1236.8 L729.1 1235.5 L730.8 1234.1 L732.6 1232.8 L734.4 1230.5 L736.1 1231.2 L737.8 1229.8 L739.6 1228.7 L741.3 1230.2 L743.0 1225.3 L744.7 1225.9 L746.4 1225.9 L748.0 1224.6 L749.7 1223.8 L751.4 1220.4 L753.0 1219.6 L754.7 1219.9 L756.3 1217.9 L758.0 1218.5 L759.6 1216.1 L761.2 1214.8 L762.8 1213.9 L764.4 1212.0 L766.0 1211.2 L767.6 1209.2 L769.1 1208.6 L770.7 1206.9 L772.2 1206.3 L773.7 1203.5 L775.2 1202.1 L776.7 1202.5 L778.2 1200.9 L779.6 1198.5 L781.0 1197.7 L782.4 1195.6 L783.8 1196.9 L785.2 1192.2 L786.5 1193.7 L787.9 1189.9 L789.2 1189.5 L790.5 1187.4 L791.8 1185.7 L793.1 1185.4 L794.3 1183.7 L795.6 1181.2 L796.8 1179.1 L798.1 1180.2 L799.3 1178.0 L800.5 1175.3 L801.7 1173.3 L802.9 1172.2 L804.0 1170.4 L805.2 1169.7 L806.3 1166.1 L807.5 1165.4 L808.6 1163.0 L809.7 1163.3 L810.9 1162.1 L812.0 1158.7 L813.2 1157.6 L814.3 1156.8 L815.5 1153.6 L816.7 1151.4 L817.8 1151.6 L819.0 1149.5 L820.3 1147.3 L821.5 1147.2 L822.7 1144.5 L823.9 1141.1 L825.2 1141.5 L826.4 1139.5 L827.7 1139.7 L828.9 1136.5 L830.2 1134.7 L831.4 1133.8 L832.7 1132.0 L834.0 1129.0 L835.2 1128.8 L836.5 1126.9 L837.8 1126.9 L839.0 1126.2 L840.3 1121.5 L841.5 1120.1 L842.8 1118.6 L844.0 1117.2 L845.2 1115.6 L846.5 1114.7 L847.7 1114.1 L849.0 1110.4 L850.2 1108.6 L851.4 1106.7 L852.6 1107.8 L853.8 1106.4 L854.9 1102.1 L856.0 1100.4 L857.1 1100.3 L858.1 1099.4 L859.1 1097.6 L860.0 1095.1 L860.9 1093.8 L861.8 1091.7 L862.7 1089.1 L863.5 1089.5 L864.3 1085.9 L865.2 1083.1 L866.0 1081.9 L866.8 1079.1 L867.7 1078.7 L868.5 1077.8 L869.4 1073.9 L870.2 1074.2 L871.1 1073.3 L872.0 1070.0 L873.0 1066.9 L873.9 1065.4 L874.9 1064.1 L875.9 1061.5 L876.9 1059.8 L877.9 1059.0 L879.0 1057.3 L880.0 1056.3 L881.1 1053.0 L882.1 1054.1 L883.2 1051.7 L884.2 1049.8 L885.3 1046.7 L886.4 1047.2 L887.4 1043.6 L888.5 1043.9 L889.6 1041.5 L890.6 1038.0 L891.7 1036.7 L892.7 1037.1 L893.7 1034.6 L894.7 1031.8 L895.7 1030.4 L896.7 1028.7 L897.6 1026.1 L898.6 1024.8 L899.5 1022.6 L900.4 1021.0 L901.2 1020.0 L902.1 1016.9 L902.9 1016.6 L903.7 1014.2 L904.5 1013.0 L905.3 1011.3 L906.1 1009.7 L906.8 1007.3 L907.6 1005.6 L908.3 1002.9 L909.1 1001.7 L909.8 998.6 L910.6 997.3 L911.4 996.3 L912.2 993.8 L912.9 992.4 L913.7 989.2 L914.6 989.6 L915.4 986.0 L916.3 985.1 L917.2 982.9 L918.1 982.0 L919.0 979.0 L919.9 976.7 L920.9 974.1 L921.8 973.8 L922.8 971.3 L923.8 971.1 L924.8 970.2 L925.8 965.1 L926.8 964.2 L927.8 963.9 L928.8 963.0 L929.8 960.5 L930.7 958.7 L931.7 957.2 L932.7 955.5 L933.7 954.7 L934.6 952.0 L935.6 948.6 L936.5 947.5 L937.5 946.4 L938.4 943.7 L939.3 942.4 L940.3 940.4 L941.2 938.5 L942.1 938.0 L943.1 935.2 L944.0 932.8 L944.9 931.4 L945.8 930.3 L946.8 930.4 L947.7 926.9 L948.6 926.3 L949.5 923.6 L950.4 919.4 L951.3 919.9 L952.1 917.0 L953.0 914.7 L953.8 913.1 L954.7 913.9 L955.5 909.1 L956.5 908.2 L957.4 908.1 L958.5 906.0 L959.7 902.2 L960.9 902.1 L962.3 900.3 L963.7 899.2 L965.2 898.8 L966.8 896.3 L968.3 895.4 L970.0 895.8 L971.6 891.7 L973.3 891.9 L975.0 891.6 L976.6 888.9 L978.3 888.4 L979.9 886.6 L981.6 886.8 L983.2 885.0 L984.9 885.2 L986.5 884.3 L988.2 882.4 L990.0 881.2 L991.8 881.1 L993.6 880.5 L995.5 879.1 L997.3 881.3 L999.2 880.8 L1001.0 881.9 L1002.9 880.6 L1004.6 883.5 L1006.4 885.6 L1008.1 885.3 L1009.8 884.4 L1011.5 886.9 L1013.1 887.9 L1014.8 889.2 L1016.4 890.0 L1018.0 891.8 L1019.5 892.2 L1021.0 894.2 L1022.4 894.8 L1023.7 897.0 L1025.0 899.3 L1026.2 899.5 L1027.4 902.1 L1028.6 902.3 L1029.8 904.4 L1031.0 906.2 L1032.1 909.2 L1033.2 909.0 L1034.3 912.5 L1035.4 911.7 L1036.5 914.6 L1037.5 917.3 L1038.5 918.8 L1039.5 919.0 L1040.5 920.6 L1041.4 924.2 L1042.3 924.1 L1043.2 927.5 L1044.0 928.3 L1044.9 930.6 L1045.7 934.6 L1046.5 935.7 L1047.3 936.9 L1048.1 936.7 L1048.9 940.1 L1049.7 941.6 L1050.5 943.3 L1051.3 946.5 L1052.2 945.5 L1053.0 949.2 L1053.8 950.8 L1054.7 951.8 L1055.5 955.9 L1056.4 955.0 L1057.3 958.0 L1058.1 959.8 L1059.0 959.5 L1059.9 962.0 L1060.8 964.2 L1061.7 967.6 L1062.5 969.6 L1063.4 971.1 L1064.3 972.5 L1065.2 972.1 L1066.1 976.1 L1067.0 977.2 L1067.9 980.5 L1068.8 982.5 L1069.7 985.1 L1070.6 985.5 L1071.5 987.4 L1072.4 987.5 L1073.3 990.2 L1074.2 990.8 L1075.1 994.5 L1076.0 994.4 L1077.0 997.1 L1077.9 998.3 L1078.8 1000.4 L1079.7 1003.0 L1080.6 1003.9 L1081.5 1006.4 L1082.5 1007.0 L1083.4 1011.0 L1084.3 1010.9 L1085.2 1014.2 L1086.1 1017.0 L1087.0 1014.6 L1087.9 1017.7 L1088.8 1020.2 L1089.8 1023.2 L1090.7 1023.5 L1091.7 1026.0 L1092.6 1026.8 L1093.6 1029.7 L1094.6 1029.8 L1095.7 1033.4 L1096.7 1031.6 L1097.8 1034.2 L1098.9 1039.3 L1100.1 1039.4 L1101.3 1040.1 L1102.5 1044.5 L1103.7 1045.0 L1105.0 1046.6 L1106.2 1046.8 L1107.5 1049.2 L1108.9 1050.6 L1110.2 1050.1 L1111.6 1053.6 L1113.0 1054.3 L1114.5 1057.0 L1115.9 1058.4 L1117.4 1057.9 L1119.0 1059.3 L1120.5 1061.2 L1122.1 1062.9 L1123.7 1063.1 L1125.3 1064.5 L1127.0 1066.3 L1128.7 1067.2 L1130.4 1069.0 L1132.1 1069.1 L1133.8 1069.1 L1135.6 1069.2 L1137.3 1072.5 L1139.1 1072.3 L1140.9 1073.1 L1142.8 1074.0 L1144.6 1073.5 L1146.5 1075.3 L1148.4 1073.9 L1150.3 1076.4 L1152.3 1076.5 L1154.2 1079.4 L1156.2 1078.5 L1158.2 1078.2 L1160.1 1078.8 L1162.1 1079.5 L1164.1 1078.3 L1166.1 1078.9 L1168.1 1078.8 L1170.1 1081.4 L1172.1 1079.2 L1174.1 1077.2 L1176.1 1079.6 L1178.1 1081.1 L1180.0 1077.6 L1182.0 1081.5 L1184.0 1077.9 L1186.0 1078.5 L1187.9 1076.6 L1189.8 1076.4 L1191.7 1074.9 L1193.6 1074.5 L1195.5 1072.8 L1197.3 1075.1 L1199.2 1072.1 L1200.9 1072.6 L1202.7 1071.6 L1204.4 1069.7 L1206.1 1069.3 L1207.7 1068.0 L1209.4 1066.5 L1211.0 1065.8 L1212.6 1064.6 L1214.1 1062.4 L1215.7 1060.8 L1217.2 1060.0 L1218.7 1059.6 L1220.2 1059.4 L1221.7 1058.2 L1223.2 1055.7 L1224.6 1055.0 L1226.1 1052.8 L1227.5 1052.3 L1228.9 1050.0 L1230.3 1048.8 L1231.7 1046.8 L1233.1 1045.5 L1234.4 1045.8 L1235.7 1041.4 L1237.0 1041.0 L1238.2 1038.9 L1239.5 1038.8 L1240.7 1038.0 L1241.9 1034.4 L1243.0 1030.5 L1244.2 1032.0 L1245.3 1030.3 L1246.3 1026.5 L1247.4 1026.1 L1248.4 1024.6 L1249.4 1020.8 L1250.4 1021.8 L1251.4 1019.8 L1252.3 1017.9 L1253.2 1014.9 L1254.1 1013.4 L1254.9 1011.7 L1255.8 1010.9 L1256.6 1007.7 L1257.4 1008.2 L1258.2 1005.3 L1259.0 1001.1 L1259.8 1002.9 L1260.6 999.6 L1261.4 997.1 L1262.1 995.9 L1262.9 992.2 L1263.7 992.2 L1264.4 987.9 L1265.2 987.4 L1265.9 987.8 L1266.7 985.9 L1267.5 982.5 L1268.2 980.1 L1269.0 980.0 L1269.8 977.2 L1270.6 975.6 L1271.4 974.2 L1272.1 970.8 L1272.9 970.7 L1273.7 966.1 L1274.5 967.6 L1275.2 962.9 L1276.0 962.0 L1276.8 960.1 L1277.5 959.5 L1278.3 957.7 L1279.1 955.5 L1279.8 953.8 L1280.6 951.9 L1281.3 949.5 L1282.1 945.9 L1282.8 943.7 L1283.6 941.9 L1284.3 942.1 L1285.0 940.1 L1285.8 938.3 L1286.5 936.8 L1287.2 934.5 L1287.9 931.9 L1288.5 929.5 L1289.2 927.3 L1289.8 928.3 L1290.4 926.1 L1291.0 922.1 L1291.6 921.2 L1292.3 919.9 L1292.9 919.1 L1293.5 915.2 L1294.2 914.0 L1294.9 913.1 L1295.7 908.5 L1296.5 907.7 L1297.4 906.5 L1298.3 904.1 L1299.4 905.1 L1300.4 902.2 L1301.6 900.0 L1302.8 897.3 L1304.1 897.5 L1305.4 895.7 L1306.7 893.2 L1308.1 891.8 L1309.5 889.5 L1311.0 889.5 L1312.6 889.2 L1314.2 888.2 L1315.8 886.9 L1317.5 886.4 L1319.3 884.7 L1321.0 884.8 L1322.7 886.7 L1324.3 886.7 L1325.7 886.6 L1327.1 889.1 L1328.3 890.8 L1329.4 892.3 L1330.4 893.5 L1331.4 894.6 L1332.3 897.3 L1333.1 900.3 L1333.9 900.6 L1334.7 901.7 L1335.4 904.5 L1336.1 904.9 L1336.7 908.2 L1337.2 909.6 L1337.8 912.7 L1338.3 913.9 L1338.7 916.7 L1339.2 919.8 L1339.6 919.4 L1340.0 920.8 L1340.4 924.0 L1340.8 925.4 L1341.2 927.6 L1341.6 928.8 L1342.0 931.9 L1342.4 933.4 L1342.9 933.3 L1343.3 937.0 L1343.8 939.5 L1344.2 942.2 L1344.7 942.5 L1345.2 944.3 L1345.7 948.0 L1346.2 948.3 L1346.6 950.9 L1347.1 953.2 L1347.6 955.4 L1348.1 956.7 L1348.6 957.6 L1349.1 961.5 L1349.5 962.1 L1350.0 963.9 L1350.5 968.2 L1351.0 969.1 L1351.5 969.2 L1351.9 971.7 L1352.4 973.9 L1352.9 975.4 L1353.4 976.2 L1353.9 980.7 L1354.4 982.6 L1354.9 984.0 L1355.3 985.4 L1355.8 987.9 L1356.3 990.2 L1356.8 990.6 L1357.3 993.2 L1357.8 994.9 L1358.3 998.0 L1358.8 999.6 L1359.2 1000.1 L1359.7 1002.6 L1360.2 1006.8 L1360.7 1006.2 L1361.2 1009.2 L1361.7 1010.4 L1362.2 1014.1 L1362.7 1014.8 L1363.1 1016.4 L1363.6 1017.6 L1364.1 1020.4 L1364.6 1023.4 L1365.1 1025.2 L1365.6 1025.2 L1366.1 1029.9 L1366.6 1030.1 L1367.1 1031.3 L1367.6 1034.4 L1368.1 1035.6 L1368.6 1037.6 L1369.1 1039.5 L1369.5 1041.9 L1370.0 1043.5 L1370.5 1044.3 L1371.0 1048.3 L1371.4 1049.3 L1371.9 1052.8 L1372.4 1054.1 L1372.8 1056.2 L1373.3 1057.7 L1373.7 1060.7 L1374.1 1061.1 L1374.5 1062.5 L1375.0 1065.7 L1375.4 1064.8 L1375.8 1068.9 L1376.2 1071.4 L1376.6 1072.8 L1376.9 1076.3 L1377.3 1077.8 L1377.7 1079.2 L1378.1 1080.7 L1378.5 1084.0 L1378.9 1084.3 L1379.2 1086.6 L1379.6 1089.6 L1380.0 1091.4 L1380.4 1094.7 L1380.8 1094.6 L1381.1 1095.0 L1381.5 1099.3 L1381.9 1101.8 L1382.3 1102.5 L1382.7 1106.1 L1383.1 1108.2 L1383.4 1107.9 L1383.8 1110.0 L1384.2 1111.3 L1384.6 1114.9 L1385.0 1117.1 L1385.3 1118.9 L1385.7 1119.2 L1386.1 1121.6 L1386.5 1122.9 L1386.9 1124.7 L1387.3 1126.9 L1387.7 1128.6 L1388.1 1131.9 L1388.6 1134.4 L1389.0 1136.6 L1389.4 1137.9 L1389.9 1139.3 L1390.3 1141.8 L1390.8 1144.3 L1391.2 1145.4 L1391.7 1147.7 L1392.2 1149.3 L1392.6 1151.1 L1393.1 1153.5 L1393.6 1154.4 L1394.1 1158.4 L1394.5 1157.9 L1395.0 1161.7 L1395.5 1161.9 L1396.0 1166.5 L1396.6 1167.9 L1397.1 1168.2 L1397.6 1170.5 L1398.2 1171.8 L1398.7 1174.7 L1399.3 1177.1 L1399.9 1181.0 L1400.5 1179.2 L1401.1 1183.6 L1401.7 1183.8 L1402.3 1186.5 L1403.0 1188.9 L1403.6 1190.5 L1404.3 1192.3 L1404.9 1193.6 L1405.6 1195.7 L1406.2 1197.7 L1406.8 1200.6 L1407.5 1200.0 L1408.1 1202.8 L1408.7 1204.0 L1409.3 1206.2 L1409.8 1208.3 L1410.4 1211.9 L1410.9 1214.8 L1411.5 1216.0 L1412.0 1215.6 L1412.5 1218.7 L1413.1 1219.5 L1413.6 1222.9 L1414.1 1225.6 L1414.6 1226.9 L1415.2 1229.1 L1415.7 1230.1 L1416.3 1230.3 L1416.9 1232.2 L1417.4 1235.8 L1418.0 1238.4 L1418.7 1240.9 L1419.3 1241.3 L1419.9 1243.6 L1420.5 1245.7 L1421.2 1248.3 L1421.8 1249.2 L1422.5 1250.1 L1423.1 1254.0 L1423.8 1255.3 L1424.5 1257.1 L1425.2 1257.5 L1425.9 1260.5 L1426.6 1260.8 L1427.4 1262.4 L1428.2 1265.8 L1429.0 1267.5 L1429.8 1270.2 L1430.7 1272.8 L1431.6 1273.3 L1432.5 1276.7 L1433.5 1276.2 L1434.6 1279.2 L1435.6 1279.0 L1436.8 1281.9 L1437.9 1283.2 L1439.1 1284.9 L1440.3 1287.2 L1441.5 1286.5 L1442.8 1289.9 L1444.1 1290.6 L1445.3 1293.0 L1446.6 1294.7 L1448.0 1295.5 L1449.3 1297.0 L1450.7 1297.7 L1452.1 1300.8 L1453.5 1301.0 L1454.9 1303.5 L1456.4 1303.1 L1457.9 1307.0 L1459.4 1306.1 L1461.0 1309.3 L1462.5 1309.1 L1464.1 1311.2 L1465.7 1311.8 L1467.4 1313.7 L1469.0 1314.2 L1470.7 1316.4 L1472.4 1316.9 L1474.1 1318.0 L1475.8 1319.9 L1477.5 1318.8 L1479.3 1321.6 L1481.0 1321.4 L1482.8 1321.0 L1484.5 1323.7 L1486.3 1324.0 L1488.1 1326.6 L1489.9 1325.4 L1491.7 1326.8 L1493.6 1327.7 L1495.4 1326.5 L1497.3 1329.5 L1499.1 1328.8 L1501.0 1331.7 L1502.9 1332.6 L1504.8 1331.7 L1506.7 1330.9 L1508.6 1333.2 L1510.5 1333.8 L1512.4 1334.8 L1514.3 1334.4 L1516.3 1334.2 L1518.2 1335.6 L1520.1 1335.4 L1522.1 1338.4 L1524.0 1336.6 L1526.0 1337.1 L1527.9 1338.1 L1529.9 1337.4 L1531.8 1338.5 L1533.8 1339.2 L1535.8 1339.2 L1537.7 1339.8 L1539.7 1341.4 L1541.7 1341.0 L1543.7 1339.6 L1545.7 1340.7 L1547.6 1342.0 L1549.6 1340.9 L1551.6 1341.8 L1553.6 1341.9 L1555.6 1342.6 L1557.6 1342.1 L1559.6 1342.4 L1561.6 1341.9 L1563.6 1343.2 L1565.5 1342.3 L1567.5 1344.9 L1569.5 1343.6 L1571.5 1343.6 L1573.5 1344.8 L1575.5 1344.3 L1577.4 1344.7 L1579.4 1344.9 L1581.4 1344.6 L1583.4 1344.8 L1585.3 1345.4 L1587.3 1347.4 L1589.3 1346.2 L1591.2 1346.8 L1593.2 1347.1 L1595.1 1348.6 L1597.1 1350.2 L1599.1 1347.9 L1601.0 1349.7 L1603.0 1349.7 L1604.9 1349.7 L1606.9 1350.9 L1608.8 1349.7 L1610.8 1352.0 L1612.8 1351.8 L1614.7 1351.1 L1616.7 1353.9 L1618.6 1353.6 L1620.6 1354.3 L1622.6 1352.2 L1624.5 1353.7 L1626.5 1353.8 L1628.5 1355.2 L1630.4 1356.2 L1632.4 1353.6 L1634.4 1355.7 L1636.3 1355.9 L1638.3 1357.3 L1640.3 1356.7 L1642.3 1355.9 L1644.2 1357.3 L1646.2 1356.8 L1648.2 1357.4 L1650.1 1358.4 L1652.1 1358.3 L1654.1 1359.3 L1656.1 1357.9 L1658.1 1361.7 L1660.0 1361.0 L1662.0 1360.7 L1664.0 1359.1 L1666.0 1358.5 L1668.0 1359.8 L1670.0 1360.5 L1672.0 1362.9 L1674.0 1362.1 L1676.0 1360.4 L1678.0 1362.0 L1680.0 1362.0 L1682.0 1360.8 L1684.0 1361.8 L1686.0 1360.9 L1688.0 1359.8 L1690.0 1359.2 L1692.0 1360.0 L1694.0 1360.9 L1695.9 1358.7 L1697.9 1358.3 L1699.9 1360.2 L1701.9 1357.2 L1703.9 1361.3 L1705.9 1359.1 L1707.9 1360.2 L1709.9 1361.2 L1711.9 1358.1 L1713.9 1358.4 L1715.9 1361.4 L1717.9 1359.0 L1719.9 1359.1 L1721.9 1359.4 L1723.9 1360.1 L1725.9 1360.3 L1727.9 1359.2 L1729.9 1358.7 L1731.9 1359.0 L1733.9 1359.3 L1735.9 1360.2 L1737.9 1359.0 L1739.9 1360.6 L1741.9 1358.1 L1743.9 1359.3 L1745.9 1360.4 L1747.9 1359.9 L1749.9 1359.0 L1751.9 1357.9 L1753.9 1358.0 L1755.9 1358.5 L1757.9 1358.9 L1759.9 1358.3 L1761.9 1357.2 L1763.9 1357.8 L1765.9 1358.9 L1767.9 1359.1 L1769.9 1357.0 L1771.9 1358.0 L1773.9 1356.7 L1775.9 1357.7 L1777.9 1361.4 L1779.9 1358.2 L1781.9 1357.7 L1783.9 1357.5 L1785.9 1356.9 L1787.9 1356.2 L1789.9 1357.8 L1791.9 1357.5 L1793.9 1359.1 L1795.9 1356.2 L1797.9 1358.0 L1799.9 1358.8 L1801.9 1355.7 L1803.9 1358.0 L1805.9 1355.9 L1807.9 1357.8 L1809.9 1358.6 L1811.9 1357.1 L1813.9 1357.3 L1815.9 1356.3 L1817.9 1357.2 L1819.9 1357.9 L1821.9 1356.6 L1823.9 1356.6 L1825.9 1357.0 L1827.9 1357.3 L1829.9 1354.9 L1831.9 1356.4 L1833.9 1355.7 L1835.9 1356.7 L1837.9 1357.1 L1839.9 1356.3 L1841.9 1357.2 L1843.9 1355.0 L1845.9 1355.4 L1847.9 1354.8 L1849.9 1355.7 L1851.9 1355.7 L1853.9 1355.3 L1855.9 1354.3 L1857.9 1355.3 L1859.9 1354.9 L1861.9 1355.8 L1863.9 1354.9 L1865.9 1356.1 L1867.9 1355.2 L1869.9 1353.2 L1871.9 1354.7 L1873.9 1353.5 L1875.9 1355.6 L1877.9 1356.0 L1879.9 1354.6 L1881.9 1354.9 L1883.9 1353.1 L1885.9 1352.3 L1887.9 1353.8 L1889.9 1354.0 L1891.9 1352.8 L1893.9 1354.2 L1895.9 1354.4 L1897.9 1354.6 L1899.9 1355.4 L1901.9 1354.7 L1903.9 1353.6 L1905.9 1354.0 L1907.9 1354.4 L1909.9 1352.8 L1911.9 1355.0 L1913.9 1354.6 L1915.9 1353.5 L1917.9 1353.1 L1919.8 1357.2 L1921.8 1354.5 L1923.8 1354.6 L1925.8 1355.4 L1927.8 1354.6 L1929.8 1353.9 L1931.8 1354.4 L1933.8 1352.9 L1935.8 1354.5 L1937.8 1352.5 L1939.8 1354.3 L1941.8 1354.5 L1943.8 1352.6 L1945.8 1355.9 L1947.8 1353.2 L1949.8 1355.3 L1951.8 1354.0 L1953.8 1354.9 L1955.8 1354.1 L1957.8 1357.1 L1959.8 1355.9 L1961.8 1356.7 L1963.8 1355.9 L1965.8 1356.0 L1967.8 1355.6 L1969.8 1355.4 L1971.8 1356.3 L1973.8 1356.0 L1975.8 1355.8 L1977.8 1354.8 L1979.8 1355.9 L1981.8 1356.9 L1983.8 1356.0 L1985.8 1356.8 L1987.8 1356.5 L1989.8 1355.8 L1991.8 1356.0 L1993.8 1356.2 L1995.8 1356.7 L1997.8 1356.8 L1999.8 1358.2 L2001.8 1356.2 L2003.8 1355.4 L2005.8 1358.0 L2007.8 1357.1 L2009.7 1357.5 L2011.7 1360.0 L2013.7 1359.1 L2015.7 1358.4 L2017.7 1358.8 L2019.7 1358.1 L2021.7 1359.0 L2023.7 1357.6 L2025.7 1357.6 L2027.7 1357.9 L2029.7 1359.8 L2031.7 1359.9 L2033.7 1358.0 L2035.7 1359.7 L2037.7 1358.5 L2039.7 1359.7 L2041.7 1358.5 L2043.7 1359.7 L2045.7 1358.8 L2047.7 1358.7 L2049.7 1359.0 L2051.7 1359.2 L2053.7 1358.6 L2055.7 1357.9 L2057.7 1360.8 L2059.7 1358.9 L2061.7 1357.7 L2063.7 1357.3 L2065.7 1356.8 L2067.7 1358.9 L2069.7 1360.7 L2071.7 1358.0 L2073.7 1359.2 L2075.7 1357.8 L2077.7 1360.6 L2079.7 1359.9 L2081.7 1359.8 L2083.7 1360.8 L2085.7 1361.1 L2087.7 1360.5 L2089.7 1359.0 L2091.7 1358.3 L2093.7 1358.5 L2095.7 1357.9 L2097.7 1361.1 L2099.7 1359.3 L2101.7 1359.5 L2103.7 1359.6 L2105.7 1361.2 L2107.7 1358.8 L2109.7 1360.4 L2111.7 1359.5 L2113.7 1359.1 L2115.7 1357.4 L2117.7 1360.0 L2119.7 1358.4 L2121.7 1358.7 L2123.7 1359.3 L2125.7 1359.1 L2127.7 1360.0 L2129.7 1358.3 L2131.7 1359.0 L2133.7 1359.1 L2135.7 1358.8 L2137.7 1359.4 L2139.7 1358.5 L2141.7 1359.8 L2143.7 1358.0 L2145.7 1357.2 L2147.7 1358.5 L2149.7 1359.6 L2151.7 1357.9 L2153.7 1357.8 L2155.7 1358.0 L2157.7 1358.4 L2159.7 1358.1 L2161.7 1358.5 L2163.7 1356.6 L2165.6 1359.5 L2167.4 1358.6 L2169.1 1357.3 L2170.6 1359.3 L2171.0 1358.5"/>
<path stroke="#800000" d="M228.0 1450.6 L229.1 1448.2 L230.6 1450.9 L232.3 1449.5 L234.1 1447.6 L236.0 1450.3 L238.0 1449.5 L240.0 1448.9 L242.0 1449.7 L244.0 1448.2 L246.0 1450.7 L248.0 1450.0 L250.0 1450.1 L252.0 1451.7 L254.0 1450.5 L256.0 1450.0 L258.0 1449.8 L260.0 1450.8 L262.0 1451.9 L263.9 1450.5 L265.9 1450.2 L267.9 1452.2 L269.9 1451.6 L271.9 1451.6 L273.9 1453.8 L275.9 1450.9 L277.9 1452.4 L279.9 1450.8 L281.9 1452.4 L283.9 1453.5 L285.8 1454.3 L287.8 1452.3 L289.8 1454.6 L291.8 1454.8 L293.7 1454.3 L295.7 1457.0 L297.7 1455.0 L299.7 1454.5 L301.6 1456.0 L303.6 1454.2 L305.6 1457.6 L307.6 1457.3 L309.6 1456.3 L311.6 1457.4 L313.6 1457.5 L315.6 1458.9 L317.6 1456.7 L319.5 1456.1 L321.5 1455.4 L323.5 1457.0 L325.5 1455.8 L327.5 1457.0 L329.5 1457.4 L331.5 1456.4 L333.5 1455.8 L335.5 1457.5 L337.5 1456.0 L339.5 1456.2 L341.4 1456.6 L343.4 1454.2 L345.4 1454.3 L347.4 1457.2 L349.4 1454.4 L351.4 1453.4 L353.3 1453.8 L355.3 1453.3 L357.3 1452.4 L359.3 1453.0 L361.3 1453.1 L363.3 1452.9 L365.3 1453.2 L367.3 1450.9 L369.2 1451.0 L371.2 1452.9 L373.2 1451.6 L375.2 1452.9 L377.2 1451.9 L379.2 1450.1 L381.2 1451.7 L383.2 1450.1 L385.2 1451.1 L387.2 1451.8 L389.2 1452.4 L391.1 1450.2 L393.1 1450.7 L395.1 1450.2 L397.1 1450.4 L399.1 1447.1 L401.1 1448.9 L403.1 1449.3 L405.1 1449.3 L407.1 1447.9 L409.1 1449.2 L411.0 1449.2 L413.0 1448.0 L415.0 1447.5 L417.0 1447.1 L419.0 1447.3 L421.0 1448.1 L422.9 1448.1 L424.9 1446.0 L426.9 1445.3 L428.9 1445.2 L430.9 1446.6 L432.9 1445.6 L434.8 1445.4 L436.8 1445.3 L438.8 1445.0 L440.8 1444.2 L442.8 1443.1 L444.8 1443.2 L446.7 1443.6 L448.7 1443.6 L450.7 1442.6 L452.7 1442.2 L454.6 1443.5 L456.6 1441.5 L458.6 1441.8 L460.6 1441.0 L462.5 1440.1 L464.5 1439.2 L466.5 1439.7 L468.4 1439.1 L470.4 1440.2 L472.3 1438.0 L474.3 1438.2 L476.3 1438.8 L478.2 1437.7 L480.2 1437.8 L482.1 1437.7 L484.1 1434.9 L486.0 1435.6 L488.0 1434.6 L489.9 1436.3 L491.8 1434.5 L493.8 1434.6 L495.7 1435.2 L497.7 1432.8 L499.6 1432.7 L501.5 1432.5 L503.5 1431.3 L505.4 1432.2 L507.3 1431.3 L509.3 1431.0 L511.2 1429.6 L513.1 1428.7 L515.0 1428.2 L517.0 1427.6 L518.9 1425.9 L520.8 1427.2 L522.8 1427.1 L524.7 1425.8 L526.6 1424.9 L528.6 1424.8 L530.5 1424.5 L532.4 1424.1 L534.3 1424.9 L536.3 1421.9 L538.2 1422.5 L540.1 1422.3 L542.1 1421.2 L544.0 1420.4 L545.9 1419.2 L547.9 1419.0 L549.8 1419.7 L551.7 1419.9 L553.6 1417.4 L555.6 1417.9 L557.5 1417.4 L559.4 1417.3 L561.3 1416.0 L563.3 1415.6 L565.2 1415.5 L567.1 1413.0 L569.0 1413.5 L570.9 1411.2 L572.8 1410.4 L574.7 1410.9 L576.6 1409.6 L578.5 1410.8 L580.4 1410.6 L582.2 1408.7 L584.1 1408.1 L586.0 1407.3 L587.9 1406.6 L589.7 1406.2 L591.6 1405.6 L593.4 1404.1 L595.2 1403.1 L597.1 1402.5 L598.9 1402.9 L600.7 1401.0 L602.6 1401.8 L604.4 1399.5 L606.2 1400.1 L608.0 1396.9 L609.8 1396.5 L611.6 1396.7 L613.4 1395.9 L615.2 1394.4 L617.0 1395.5 L618.8 1392.9 L620.6 1392.2 L622.4 1390.6 L624.2 1391.7 L626.0 1390.1 L627.8 1388.9 L629.6 1386.1 L631.4 1387.1 L633.2 1385.5 L635.0 1385.4 L636.8 1385.0 L638.6 1382.6 L640.4 1382.6 L642.2 1382.3 L644.0 1380.8 L645.8 1379.4 L647.6 1377.9 L649.4 1377.3 L651.2 1375.9 L653.0 1377.0 L654.7 1375.3 L656.5 1373.2 L658.3 1373.4 L660.1 1371.3 L661.9 1368.6 L663.6 1371.7 L665.4 1370.8 L667.2 1367.5 L669.0 1367.2 L670.7 1367.1 L672.5 1365.7 L674.3 1364.3 L676.0 1363.7 L677.8 1363.0 L679.5 1361.7 L681.3 1361.5 L683.1 1360.1 L684.8 1358.7 L686.6 1358.4 L688.3 1356.0 L690.1 1357.8 L691.8 1354.0 L693.6 1354.5 L695.3 1353.9 L697.1 1353.0 L698.8 1351.9 L700.6 1351.8 L702.3 1348.7 L704.1 1348.6 L705.8 1347.9 L707.5 1346.3 L709.3 1345.2 L711.0 1345.9 L712.8 1343.1 L714.5 1342.3 L716.2 1341.5 L718.0 1340.6 L719.7 1339.9 L721.4 1338.6 L723.2 1338.1 L724.9 1336.9 L726.6 1336.3 L728.4 1336.1 L730.1 1333.1 L731.8 1334.3 L733.6 1331.4 L735.3 1331.4 L737.0 1329.9 L738.7 1328.5 L740.4 1325.9 L742.1 1328.1 L743.8 1324.9 L745.5 1323.8 L747.2 1324.4 L748.9 1322.4 L750.6 1323.0 L752.2 1321.7 L753.9 1319.7 L755.5 1318.1 L757.2 1317.4 L758.8 1314.4 L760.4 1314.6 L762.1 1313.4 L763.7 1311.7 L765.3 1311.1 L766.9 1308.4 L768.5 1309.3 L770.0 1308.4 L771.6 1304.9 L773.2 1304.9 L774.7 1304.9 L776.3 1302.6 L777.8 1300.0 L779.3 1298.8 L780.8 1299.1 L782.3 1298.6 L783.7 1294.6 L785.2 1294.3 L786.6 1292.1 L788.0 1291.2 L789.4 1290.3 L790.8 1288.5 L792.2 1286.5 L793.5 1287.5 L794.9 1284.0 L796.2 1282.5 L797.5 1282.1 L798.8 1279.6 L800.1 1277.9 L801.4 1277.4 L802.6 1274.1 L803.9 1274.1 L805.1 1272.8 L806.4 1270.9 L807.6 1268.6 L808.9 1267.1 L810.1 1264.0 L811.3 1263.9 L812.5 1262.7 L813.8 1261.6 L815.0 1259.4 L816.2 1257.3 L817.4 1255.3 L818.6 1254.5 L819.9 1253.0 L821.1 1252.4 L822.3 1249.7 L823.5 1247.7 L824.7 1246.4 L825.9 1244.5 L827.1 1243.1 L828.2 1239.7 L829.4 1238.7 L830.6 1237.4 L831.8 1237.3 L832.9 1235.2 L834.1 1233.7 L835.3 1233.0 L836.4 1229.4 L837.6 1229.7 L838.7 1227.4 L839.9 1224.8 L841.0 1225.1 L842.2 1220.9 L843.3 1219.5 L844.4 1218.7 L845.6 1217.6 L846.7 1215.4 L847.8 1212.0 L848.9 1212.0 L850.1 1210.5 L851.2 1211.2 L852.3 1208.5 L853.4 1205.7 L854.5 1203.0 L855.6 1202.6 L856.7 1199.5 L857.8 1199.1 L858.8 1197.5 L859.9 1195.2 L861.0 1194.1 L862.0 1191.8 L863.1 1189.9 L864.2 1190.1 L865.2 1187.6 L866.2 1185.1 L867.3 1182.9 L868.3 1182.1 L869.3 1180.7 L870.3 1179.2 L871.3 1178.0 L872.3 1175.4 L873.3 1172.3 L874.3 1173.3 L875.3 1170.8 L876.3 1168.8 L877.3 1167.5 L878.3 1163.2 L879.2 1162.5 L880.2 1160.6 L881.2 1160.4 L882.1 1156.5 L883.1 1155.5 L884.0 1155.4 L885.0 1152.8 L885.9 1150.2 L886.9 1150.4 L887.8 1145.8 L888.7 1145.6 L889.7 1143.2 L890.6 1142.1 L891.6 1139.7 L892.5 1137.4 L893.4 1136.6 L894.4 1133.4 L895.3 1133.3 L896.2 1130.8 L897.2 1130.1 L898.1 1127.1 L899.0 1125.2 L900.0 1124.4 L900.9 1123.3 L901.8 1118.6 L902.8 1118.8 L903.7 1117.5 L904.6 1113.9 L905.6 1112.6 L906.5 1112.2 L907.4 1109.1 L908.4 1107.5 L909.3 1107.8 L910.2 1103.7 L911.2 1102.0 L912.1 1099.0 L913.0 1098.3 L914.0 1096.4 L914.9 1097.2 L915.8 1095.0 L916.7 1091.0 L917.7 1092.1 L918.6 1089.3 L919.5 1086.7 L920.5 1085.8 L921.4 1083.6 L922.3 1080.8 L923.3 1078.2 L924.2 1077.2 L925.2 1076.2 L926.1 1074.2 L927.1 1072.1 L928.0 1071.8 L929.0 1068.3 L930.0 1068.3 L931.0 1065.3 L931.9 1064.1 L932.9 1061.2 L933.9 1060.5 L934.9 1058.0 L935.8 1055.4 L936.8 1055.2 L937.8 1053.5 L938.8 1052.5 L939.7 1050.3 L940.7 1047.4 L941.6 1046.0 L942.6 1042.5 L943.5 1042.0 L944.5 1042.4 L945.4 1040.8 L946.3 1038.3 L947.3 1036.2 L948.2 1034.6 L949.1 1032.8 L950.0 1029.0 L950.9 1028.0 L951.8 1028.0 L952.7 1026.3 L953.7 1023.7 L954.6 1021.4 L955.6 1019.6 L956.5 1017.7 L957.5 1015.6 L958.5 1013.0 L959.5 1013.1 L960.5 1010.8 L961.5 1009.3 L962.5 1009.3 L963.5 1006.6 L964.5 1003.7 L965.5 1003.1 L966.5 999.5 L967.6 1000.1 L968.6 997.7 L969.7 995.6 L970.9 994.7 L972.0 993.8 L973.3 990.6 L974.6 988.6 L976.0 990.0 L977.4 986.8 L979.0 986.8 L980.6 983.7 L982.2 983.5 L983.9 981.6 L985.6 981.8 L987.4 980.1 L989.3 979.0 L991.1 980.3 L993.0 978.6 L994.9 976.0 L996.9 977.2 L998.8 976.3 L1000.8 975.9 L1002.8 976.5 L1004.7 976.7 L1006.7 977.5 L1008.6 977.2 L1010.5 976.8 L1012.3 978.6 L1014.2 980.7 L1015.9 979.5 L1017.7 982.3 L1019.3 983.2 L1021.0 983.5 L1022.6 985.4 L1024.1 985.7 L1025.6 987.4 L1027.0 988.2 L1028.3 991.0 L1029.7 993.3 L1031.0 993.0 L1032.2 996.2 L1033.4 994.8 L1034.6 997.5 L1035.8 999.0 L1037.0 1003.1 L1038.1 1002.7 L1039.2 1005.6 L1040.2 1004.8 L1041.2 1008.4 L1042.2 1010.6 L1043.2 1011.8 L1044.1 1011.2 L1045.0 1015.5 L1045.8 1017.9 L1046.7 1020.2 L1047.5 1021.2 L1048.4 1021.1 L1049.2 1024.3 L1050.1 1027.1 L1050.9 1027.3 L1051.7 1030.4 L1052.6 1031.3 L1053.5 1033.6 L1054.4 1036.0 L1055.3 1036.4 L1056.1 1041.4 L1057.0 1040.8 L1058.0 1042.7 L1058.9 1043.6 L1059.8 1046.1 L1060.7 1047.5 L1061.6 1048.3 L1062.5 1050.0 L1063.4 1053.4 L1064.3 1054.8 L1065.2 1054.3 L1066.1 1056.5 L1067.0 1060.0 L1068.0 1062.0 L1068.9 1064.3 L1069.8 1064.5 L1070.8 1067.9 L1071.7 1068.8 L1072.7 1070.4 L1073.6 1072.5 L1074.6 1075.2 L1075.6 1076.6 L1076.6 1078.6 L1077.6 1078.9 L1078.6 1081.0 L1079.6 1081.9 L1080.7 1084.2 L1081.7 1086.1 L1082.7 1087.7 L1083.8 1090.5 L1084.8 1091.9 L1085.9 1093.9 L1087.0 1095.0 L1088.0 1097.6 L1089.1 1098.4 L1090.2 1100.8 L1091.3 1102.1 L1092.5 1103.9 L1093.6 1104.8 L1094.8 1105.4 L1095.9 1106.8 L1097.1 1111.5 L1098.3 1111.7 L1099.6 1113.3 L1100.8 1114.3 L1102.1 1115.6 L1103.3 1120.2 L1104.6 1118.1 L1105.9 1120.6 L1107.2 1122.1 L1108.5 1122.7 L1109.9 1124.0 L1111.2 1126.0 L1112.6 1127.8 L1114.0 1129.0 L1115.5 1131.6 L1116.9 1131.1 L1118.4 1133.9 L1120.0 1136.1 L1121.6 1136.8 L1123.2 1136.2 L1124.8 1135.7 L1126.5 1140.2 L1128.2 1140.9 L1129.9 1141.0 L1131.6 1143.6 L1133.4 1143.1 L1135.1 1144.5 L1136.9 1144.3 L1138.7 1146.4 L1140.6 1146.5 L1142.4 1147.2 L1144.3 1149.4 L1146.1 1149.3 L1148.0 1148.4 L1150.0 1150.9 L1151.9 1151.5 L1153.8 1150.4 L1155.8 1151.1 L1157.8 1151.7 L1159.8 1151.6 L1161.7 1151.9 L1163.7 1152.4 L1165.7 1151.2 L1167.7 1153.3 L1169.7 1150.5 L1171.6 1150.3 L1173.6 1152.1 L1175.5 1152.0 L1177.4 1149.3 L1179.3 1148.5 L1181.2 1147.1 L1183.1 1148.4 L1184.9 1146.8 L1186.8 1145.1 L1188.6 1145.5 L1190.5 1145.5 L1192.3 1144.1 L1194.1 1144.5 L1195.8 1142.7 L1197.6 1141.1 L1199.3 1139.7 L1201.1 1139.2 L1202.8 1138.7 L1204.4 1137.3 L1206.1 1136.4 L1207.7 1134.5 L1209.4 1133.8 L1211.0 1133.1 L1212.6 1130.6 L1214.1 1128.4 L1215.7 1129.8 L1217.3 1127.6 L1218.8 1125.4 L1220.3 1124.7 L1221.9 1123.0 L1223.4 1120.4 L1224.9 1120.4 L1226.4 1118.0 L1227.9 1118.1 L1229.4 1116.5 L1230.9 1116.3 L1232.3 1113.8 L1233.8 1112.9 L1235.2 1110.9 L1236.7 1109.4 L1238.1 1107.1 L1239.5 1107.8 L1240.9 1105.6 L1242.2 1103.5 L1243.5 1102.7 L1244.8 1100.6 L1246.1 1098.8 L1247.3 1098.1 L1248.5 1097.4 L1249.7 1094.4 L1250.8 1091.7 L1251.9 1090.8 L1253.0 1091.3 L1254.0 1087.2 L1255.0 1087.3 L1256.0 1084.2 L1256.9 1083.3 L1257.8 1080.8 L1258.7 1077.7 L1259.5 1076.9 L1260.4 1077.4 L1261.2 1073.5 L1262.0 1072.3 L1262.8 1069.7 L1263.5 1068.0 L1264.3 1066.6 L1265.1 1064.9 L1265.8 1064.6 L1266.6 1060.7 L1267.3 1058.7 L1268.1 1056.4 L1268.9 1054.0 L1269.6 1051.9 L1270.4 1052.1 L1271.2 1048.0 L1271.9 1049.1 L1272.7 1046.7 L1273.5 1043.9 L1274.3 1041.2 L1275.1 1040.5 L1275.9 1038.6 L1276.7 1037.8 L1277.5 1034.3 L1278.3 1032.8 L1279.1 1031.2 L1279.8 1029.2 L1280.6 1027.0 L1281.3 1024.2 L1282.1 1022.4 L1282.8 1021.4 L1283.5 1019.9 L1284.3 1019.2 L1285.0 1018.5 L1285.8 1016.1 L1286.5 1013.1 L1287.3 1012.6 L1288.1 1008.9 L1288.9 1006.7 L1289.7 1007.4 L1290.5 1002.6 L1291.4 1001.4 L1292.2 999.7 L1293.2 999.5 L1294.1 995.9 L1295.1 995.4 L1296.1 992.6 L1297.2 990.2 L1298.4 989.9 L1299.6 988.3 L1300.8 985.5 L1302.2 984.3 L1303.6 983.0 L1305.0 983.2 L1306.5 981.4 L1308.1 980.0 L1309.7 979.1 L1311.4 977.3 L1313.2 977.4 L1315.0 975.9 L1316.8 974.9 L1318.6 975.5 L1320.4 976.6 L1322.2 977.1 L1323.9 978.8 L1325.5 977.4 L1327.1 979.9 L1328.5 981.8 L1329.9 982.0 L1331.2 984.6 L1332.4 985.5 L1333.6 986.5 L1334.7 990.2 L1335.7 989.6 L1336.6 993.6 L1337.4 994.1 L1338.1 995.5 L1338.8 997.4 L1339.4 999.4 L1340.0 1001.2 L1340.5 1004.2 L1341.1 1004.2 L1341.6 1008.9 L1342.2 1010.4 L1342.7 1012.9 L1343.3 1012.6 L1343.8 1013.4 L1344.4 1016.8 L1344.9 1019.2 L1345.4 1021.5 L1345.9 1022.7 L1346.4 1025.0 L1346.9 1027.2 L1347.4 1027.6 L1347.9 1032.6 L1348.4 1031.9 L1348.9 1035.0 L1349.4 1037.7 L1349.9 1038.0 L1350.4 1040.6 L1350.9 1044.0 L1351.4 1044.2 L1351.9 1047.4 L1352.4 1048.6 L1352.9 1050.5 L1353.4 1052.9 L1353.9 1054.0 L1354.4 1055.9 L1354.9 1058.9 L1355.4 1060.2 L1355.9 1062.4 L1356.4 1062.8 L1356.9 1065.8 L1357.3 1068.8 L1357.8 1070.5 L1358.3 1071.9 L1358.7 1073.1 L1359.2 1075.0 L1359.6 1077.9 L1360.0 1080.7 L1360.5 1081.4 L1360.9 1084.5 L1361.3 1085.0 L1361.7 1088.3 L1362.1 1088.3 L1362.5 1091.4 L1362.9 1092.2 L1363.2 1095.7 L1363.6 1097.6 L1364.0 1098.2 L1364.4 1100.3 L1364.8 1102.6 L1365.1 1103.6 L1365.5 1106.1 L1365.9 1108.1 L1366.3 1111.5 L1366.6 1114.0 L1367.0 1114.4 L1367.4 1116.5 L1367.8 1118.9 L1368.2 1120.2 L1368.6 1122.3 L1369.0 1125.3 L1369.4 1126.7 L1369.8 1128.4 L1370.2 1129.9 L1370.5 1133.7 L1370.9 1133.8 L1371.3 1136.4 L1371.7 1137.4 L1372.1 1139.7 L1372.5 1142.3 L1372.9 1143.8 L1373.3 1146.6 L1373.7 1148.2 L1374.1 1148.8 L1374.5 1149.9 L1374.9 1154.9 L1375.2 1155.4 L1375.6 1159.2 L1376.0 1159.9 L1376.4 1161.1 L1376.8 1164.3 L1377.1 1165.5 L1377.5 1167.7 L1377.9 1168.9 L1378.3 1172.2 L1378.6 1174.6 L1379.0 1175.1 L1379.4 1179.2 L1379.7 1179.0 L1380.1 1181.7 L1380.5 1182.0 L1380.9 1183.7 L1381.3 1189.3 L1381.7 1190.6 L1382.0 1192.3 L1382.4 1191.7 L1382.8 1195.4 L1383.3 1197.5 L1383.7 1199.2 L1384.1 1201.3 L1384.5 1202.2 L1384.9 1204.8 L1385.3 1205.9 L1385.7 1208.6 L1386.2 1211.2 L1386.6 1212.1 L1387.0 1214.5 L1387.5 1216.3 L1387.9 1218.7 L1388.3 1221.4 L1388.8 1222.8 L1389.2 1224.9 L1389.7 1225.2 L1390.1 1228.1 L1390.5 1231.1 L1391.0 1231.5 L1391.4 1233.9 L1391.9 1235.3 L1392.3 1239.4 L1392.8 1239.7 L1393.2 1241.4 L1393.7 1244.6 L1394.1 1246.9 L1394.6 1248.4 L1395.0 1250.7 L1395.5 1252.0 L1395.9 1253.6 L1396.4 1255.3 L1396.8 1257.2 L1397.3 1259.1 L1397.8 1261.9 L1398.2 1263.4 L1398.7 1265.5 L1399.2 1267.9 L1399.6 1269.3 L1400.1 1270.0 L1400.6 1272.5 L1401.1 1274.1 L1401.6 1275.4 L1402.1 1279.1 L1402.6 1279.9 L1403.2 1281.7 L1403.7 1283.8 L1404.2 1287.5 L1404.8 1288.4 L1405.4 1291.5 L1405.9 1292.4 L1406.5 1294.0 L1407.1 1296.8 L1407.6 1298.8 L1408.2 1300.2 L1408.8 1301.1 L1409.4 1303.6 L1410.0 1304.8 L1410.6 1307.5 L1411.2 1309.8 L1411.8 1312.9 L1412.5 1314.7 L1413.1 1316.0 L1413.7 1318.1 L1414.4 1319.4 L1415.1 1323.5 L1415.7 1324.3 L1416.4 1327.2 L1417.1 1327.0 L1417.8 1328.9 L1418.5 1331.4 L1419.3 1332.4 L1420.0 1334.4 L1420.8 1335.1 L1421.5 1338.7 L1422.3 1339.8 L1423.1 1342.2 L1423.9 1343.2 L1424.7 1343.6 L1425.5 1347.5 L1426.3 1349.9 L1427.2 1349.5 L1428.0 1351.6 L1428.9 1354.0 L1429.8 1355.8 L1430.7 1356.3 L1431.6 1361.2 L1432.5 1362.3 L1433.5 1362.6 L1434.5 1363.2 L1435.5 1366.9 L1436.5 1370.1 L1437.5 1370.8 L1438.6 1372.8 L1439.7 1372.5 L1440.8 1375.3 L1442.0 1375.3 L1443.1 1380.1 L1444.3 1380.4 L1445.5 1379.6 L1446.7 1381.4 L1448.0 1385.1 L1449.3 1386.3 L1450.5 1387.4 L1451.8 1389.8 L1453.2 1392.6 L1454.5 1392.6 L1455.9 1392.1 L1457.2 1395.0 L1458.6 1395.4 L1460.0 1397.3 L1461.4 1399.7 L1462.9 1400.7 L1464.3 1401.3 L1465.8 1403.6 L1467.2 1404.2 L1468.7 1406.7 L1470.2 1407.4 L1471.8 1409.2 L1473.3 1409.9 L1474.9 1412.0 L1476.5 1412.4 L1478.1 1413.7 L1479.7 1414.4 L1481.4 1416.2 L1483.0 1415.6 L1484.7 1420.6 L1486.4 1418.7 L1488.1 1420.4 L1489.8 1420.9 L1491.6 1421.9 L1493.3 1423.7 L1495.1 1423.8 L1496.9 1424.8 L1498.6 1424.8 L1500.4 1426.1 L1502.2 1426.7 L1504.1 1430.3 L1505.9 1428.3 L1507.7 1429.3 L1509.5 1431.2 L1511.4 1433.1 L1513.3 1431.0 L1515.1 1431.8 L1517.0 1434.0 L1518.9 1434.8 L1520.8 1433.9 L1522.7 1434.1 L1524.6 1435.4 L1526.6 1437.5 L1528.5 1437.2 L1530.5 1438.4 L1532.4 1438.1 L1534.4 1438.5 L1536.3 1439.5 L1538.3 1439.2 L1540.3 1439.8 L1542.2 1439.1 L1544.2 1439.7 L1546.2 1441.0 L1548.2 1440.7 L1550.1 1440.5 L1552.1 1442.1 L1554.1 1442.4 L1556.1 1442.2 L1558.0 1441.8 L1560.0 1443.7 L1562.0 1445.4 L1563.9 1442.8 L1565.9 1442.4 L1567.9 1443.5 L1569.9 1443.6 L1571.8 1443.6 L1573.8 1444.0 L1575.8 1446.2 L1577.8 1446.5 L1579.8 1447.3 L1581.7 1447.0 L1583.7 1446.1 L1585.7 1447.8 L1587.7 1446.6 L1589.7 1447.1 L1591.6 1446.6 L1593.6 1449.1 L1595.6 1449.1 L1597.6 1448.1 L1599.6 1448.5 L1601.5 1449.0 L1603.5 1449.4 L1605.5 1450.2 L1607.5 1449.8 L1609.5 1450.3 L1611.5 1448.8 L1613.5 1450.1 L1615.5 1448.9 L1617.5 1452.3 L1619.4 1452.2 L1621.4 1451.8 L1623.4 1452.3 L1625.4 1453.3 L1627.4 1452.5 L1629.4 1450.5 L1631.4 1451.9 L1633.4 1450.1 L1635.4 1451.7 L1637.4 1451.5 L1639.4 1452.8 L1641.3 1453.3 L1643.3 1452.3 L1645.3 1453.1 L1647.3 1453.8 L1649.3 1453.7 L1651.3 1453.9 L1653.3 1452.1 L1655.3 1454.1 L1657.2 1455.5 L1659.2 1455.2 L1661.2 1453.9 L1663.2 1455.1 L1665.2 1455.8 L1667.2 1454.8 L1669.2 1456.3 L1671.2 1454.9 L1673.2 1455.3 L1675.2 1455.4 L1677.2 1457.3 L1679.1 1454.8 L1681.1 1454.3 L1683.1 1455.2 L1685.1 1453.9 L1687.1 1454.2 L1689.0 1451.7 L1691.0 1453.7 L1693.0 1453.2 L1695.0 1451.8 L1697.0 1453.9 L1699.0 1452.3 L1701.0 1452.2 L1702.9 1451.0 L1704.9 1450.6 L1706.9 1451.4 L1708.9 1450.4 L1710.9 1452.1 L1712.9 1452.3 L1714.9 1450.8 L1716.9 1449.9 L1718.9 1450.8 L1720.9 1450.1 L1722.9 1451.2 L1724.9 1451.1 L1726.9 1450.4 L1728.9 1450.8 L1730.9 1451.6 L1732.9 1452.1 L1734.9 1450.0 L1736.9 1451.1 L1738.9 1450.1 L1740.9 1449.3 L1742.9 1451.4 L1744.9 1450.5 L1746.9 1450.2 L1748.9 1450.3 L1750.9 1449.8 L1752.9 1449.0 L1754.9 1451.5 L1756.9 1450.6 L1758.9 1450.0 L1760.9 1450.6 L1762.9 1450.8 L1764.9 1449.4 L1766.9 1450.1 L1768.9 1449.2 L1770.9 1450.1 L1772.9 1449.2 L1774.9 1451.6 L1776.9 1449.1 L1778.9 1449.8 L1780.9 1449.7 L1782.9 1449.0 L1784.9 1450.1 L1786.9 1449.2 L1788.9 1448.8 L1790.9 1449.2 L1792.9 1448.5 L1794.9 1450.2 L1796.9 1449.7 L1798.9 1450.0 L1800.9 1447.9 L1802.9 1449.3 L1804.9 1448.4 L1806.9 1449.2 L1808.9 1450.2 L1810.9 1449.3 L1812.9 1448.9 L1814.9 1450.1 L1816.9 1450.0 L1818.9 1450.7 L1820.9 1447.4 L1822.9 1449.4 L1824.9 1448.7 L1826.9 1448.3 L1828.9 1449.2 L1830.9 1448.0 L1832.9 1447.1 L1834.9 1448.3 L1836.9 1448.9 L1838.9 1450.8 L1840.9 1448.5 L1842.9 1448.1 L1844.9 1447.4 L1846.9 1448.9 L1848.9 1449.0 L1850.9 1449.4 L1852.9 1447.9 L1854.9 1448.6 L1856.9 1447.2 L1858.9 1449.4 L1860.9 1447.9 L1862.9 1446.9 L1864.9 1450.4 L1866.9 1449.8 L1868.9 1449.7 L1870.9 1449.8 L1872.9 1448.5 L1874.9 1450.5 L1876.9 1448.6 L1878.9 1451.3 L1880.9 1449.8 L1882.9 1448.0 L1884.9 1450.4 L1886.9 1451.5 L1888.9 1449.5 L1890.9 1450.7 L1892.9 1449.6 L1894.9 1449.3 L1896.9 1447.5 L1898.9 1451.0 L1900.9 1449.5 L1902.9 1450.3 L1904.9 1449.0 L1906.9 1449.3 L1908.9 1451.1 L1910.9 1449.8 L1912.9 1449.9 L1914.9 1449.1 L1916.9 1450.5 L1918.9 1451.1 L1920.9 1450.0 L1922.9 1450.3 L1924.9 1449.4 L1926.9 1451.9 L1928.9 1450.1 L1930.9 1450.6 L1932.9 1452.3 L1934.9 1450.7 L1936.9 1449.5 L1938.9 1450.2 L1940.9 1450.8 L1942.9 1452.8 L1944.9 1451.5 L1946.9 1451.2 L1948.9 1452.2 L1950.8 1452.8 L1952.8 1451.0 L1954.8 1453.1 L1956.8 1452.7 L1958.8 1452.5 L1960.8 1450.1 L1962.8 1452.5 L1964.8 1453.7 L1966.8 1452.3 L1968.8 1454.8 L1970.8 1452.9 L1972.8 1452.1 L1974.8 1453.6 L1976.8 1453.5 L1978.8 1454.1 L1980.8 1453.3 L1982.8 1454.8 L1984.8 1453.2 L1986.8 1454.0 L1988.8 1452.8 L1990.8 1453.4 L1992.8 1454.4 L1994.8 1453.7 L1996.8 1454.0 L1998.8 1454.3 L2000.8 1454.8 L2002.8 1455.3 L2004.8 1455.4 L2006.8 1455.7 L2008.8 1455.0 L2010.8 1454.4 L2012.8 1453.5 L2014.8 1454.7 L2016.8 1454.3 L2018.8 1453.5 L2020.8 1456.6 L2022.8 1453.5 L2024.8 1455.5 L2026.7 1455.7 L2028.7 1455.0 L2030.7 1457.6 L2032.7 1455.3 L2034.7 1454.6 L2036.7 1456.9 L2038.7 1454.5 L2040.7 1454.0 L2042.7 1454.4 L2044.7 1454.7 L2046.7 1455.3 L2048.7 1455.6 L2050.7 1453.9 L2052.7 1455.6 L2054.7 1457.3 L2056.7 1454.6 L2058.7 1455.1 L2060.7 1455.8 L2062.7 1456.3 L2064.7 1454.6 L2066.7 1454.3 L2068.7 1454.2 L2070.7 1456.1 L2072.7 1455.9 L2074.7 1453.1 L2076.7 1453.1 L2078.7 1453.9 L2080.7 1453.6 L2082.7 1455.4 L2084.7 1455.2 L2086.7 1456.7 L2088.7 1455.6 L2090.7 1455.0 L2092.7 1455.9 L2094.7 1454.0 L2096.7 1453.5 L2098.7 1454.8 L2100.7 1455.6 L2102.7 1453.2 L2104.7 1455.5 L2106.7 1455.4 L2108.7 1454.2 L2110.7 1454.7 L2112.7 1454.3 L2114.7 1454.6 L2116.7 1455.2 L2118.7 1453.7 L2120.7 1455.4 L2122.7 1455.2 L2124.7 1455.2 L2126.7 1452.5 L2128.7 1452.6 L2130.7 1454.9 L2132.7 1453.7 L2134.7 1453.5 L2136.7 1453.4 L2138.7 1452.9 L2140.7 1453.8 L2142.7 1453.4 L2144.7 1453.4 L2146.7 1454.4 L2148.7 1452.8 L2150.7 1454.9 L2152.7 1451.8 L2154.7 1456.1 L2156.7 1452.5 L2158.7 1454.3 L2160.7 1454.5 L2162.7 1453.7 L2164.7 1454.3 L2166.6 1453.5 L2168.3 1452.0 L2169.9 1453.9 L2171.0 1454.6"/>
</g>
<path d="M226.3 1517.5V1488.5M365.3 1517.5V1502.5M504.3 1517.5V1488.5M643.3 1517.5V1502.5M782.2 1517.5V1488.5M921.2 1517.5V1502.5M1060.2 1517.5V1488.5M1199.2 1517.5V1502.5M1338.2 1517.5V1488.5M1477.2 1517.5V1502.5M1616.2 1517.5V1488.5M1755.1 1517.5V1502.5M1894.1 1517.5V1488.5M2033.1 1517.5V1502.5M2172.1 1517.5V1488.5" stroke="#000" stroke-width="4.4" fill="none"/>
<rect x="226.3" y="68.6" width="1945.8" height="1448.9" fill="none" stroke="#000" stroke-width="4.4"/>
<g font-family="Liberation Serif, Times New Roman, serif" font-size="95.5" text-anchor="middle" fill="#000">
<text x="225.3" y="1621">800</text>
<text x="503.3" y="1621">1000</text>
<text x="781.2" y="1621">1200</text>
<text x="1059.2" y="1621">1400</text>
<text x="1337.2" y="1621">1600</text>
<text x="1615.2" y="1621">1800</text>
<text x="1893.1" y="1621">2000</text>
<text x="2171.1" y="1621">2200</text>
</g>
<g font-family="Liberation Serif, Times New Roman, serif" font-size="88.5" fill="#000">
<text x="1733.5" y="631.5">+3.0 V</text>
<text x="1730.8" y="745">+1.5 V</text>
<text x="1730.8" y="844.2">+1.1 V</text>
<text x="1728" y="945.2">+0.7 V</text>
<text x="1667.4" y="1033.5">original CF</text>
<text x="1764.5" y="1136.4">0 V</text>
<text x="1714.2" y="1220.4">−0.4 V</text>
<text x="1725.8" y="1333.4">−1.6 V</text>
<text x="1725.8" y="1437.7">−3.0 V</text>
</g>
<text x="721" y="1775.5" font-family="Liberation Serif, Times New Roman, serif" fill="#000" font-size="122.5">Raman Shift (cm</text>
<text transform="translate(1557 1715) scale(0.8 1)" font-family="Liberation Serif, Times New Roman, serif" fill="#000" font-size="74" letter-spacing="7.5">-1</text>
<text x="1614" y="1776" font-family="Liberation Serif, Times New Roman, serif" fill="#000" font-size="125">)</text>
<text transform="translate(137.5 1057.5) rotate(-90)" font-family="Liberation Serif, Times New Roman, serif" fill="#000" font-size="123.2">Intensity</text>
</svg>
</body></html>
